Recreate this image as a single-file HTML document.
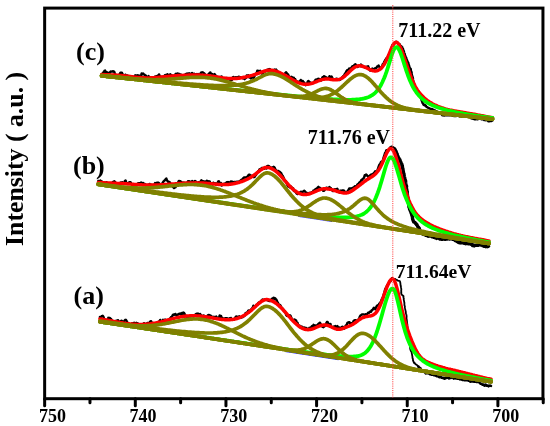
<!DOCTYPE html>
<html><head><meta charset="utf-8"><style>
html,body{margin:0;padding:0;background:#fff;width:550px;height:426px;overflow:hidden}
svg{display:block}
text{font-family:"Liberation Serif","Times New Roman",serif;font-weight:bold;fill:#000}
</style></head><body>
<svg width="550" height="426" viewBox="0 0 550 426">
<rect width="550" height="426" fill="#fff"/>
<path d="M101.6,74.3 L102.3,74.6 L103.0,72.7 L103.7,72.5 L104.4,70.9 L105.1,70.6 L105.8,72.1 L106.5,72.1 L107.2,72.6 L107.9,73.3 L108.6,73.4 L109.3,72.5 L110.0,72.5 L110.7,71.4 L111.4,71.6 L112.1,71.6 L112.8,71.2 L113.5,71.4 L114.2,71.8 L114.9,73.6 L115.6,74.9 L116.3,75.9 L117.0,76.7 L117.7,75.9 L118.4,75.8 L119.1,74.9 L119.8,74.1 L120.5,72.6 L121.2,72.7 L121.9,72.7 L122.6,74.6 L123.3,74.7 L124.0,75.6 L124.7,76.7 L125.4,74.7 L126.1,75.8 L126.8,75.5 L127.5,75.4 L128.2,76.3 L128.9,76.7 L129.6,77.3 L130.3,76.9 L131.0,77.1 L131.8,77.4 L132.5,77.3 L133.2,77.6 L133.9,76.7 L134.6,77.1 L135.3,75.3 L136.0,75.5 L136.7,75.6 L137.4,75.2 L138.1,77.4 L138.8,75.5 L139.5,76.6 L140.2,76.2 L140.9,76.4 L141.6,73.5 L142.3,74.3 L143.0,73.4 L143.7,74.2 L144.4,74.6 L145.1,75.9 L145.8,75.5 L146.5,76.4 L147.2,76.9 L147.9,77.9 L148.6,76.1 L149.3,78.6 L150.0,78.5 L150.7,77.7 L151.4,77.7 L152.1,77.2 L152.8,78.4 L153.5,77.7 L154.2,77.1 L154.9,76.7 L155.6,76.5 L156.3,76.4 L157.0,76.0 L157.7,77.3 L158.4,75.2 L159.1,74.4 L159.8,76.3 L160.5,76.6 L161.2,77.0 L161.9,76.8 L162.6,76.8 L163.3,76.7 L164.0,76.7 L164.7,75.5 L165.4,74.9 L166.1,75.5 L166.8,74.7 L167.5,74.2 L168.2,76.2 L168.9,75.5 L169.6,74.7 L170.3,74.3 L171.0,75.3 L171.7,75.3 L172.4,75.7 L173.1,75.6 L173.8,75.6 L174.5,75.8 L175.2,74.6 L175.9,73.7 L176.6,74.3 L177.3,73.5 L178.0,73.6 L178.7,73.9 L179.4,73.9 L180.1,74.6 L180.8,75.1 L181.5,74.7 L182.2,75.7 L182.9,76.0 L183.6,75.4 L184.3,75.1 L185.0,74.8 L185.7,74.1 L186.4,73.8 L187.1,73.8 L187.8,73.5 L188.5,73.8 L189.2,73.2 L189.9,74.2 L190.7,74.1 L191.4,73.6 L192.1,73.0 L192.8,74.0 L193.5,74.4 L194.2,73.7 L194.9,74.2 L195.6,74.4 L196.3,74.9 L197.0,73.9 L197.7,74.7 L198.4,74.1 L199.1,74.7 L199.8,74.1 L200.5,73.6 L201.2,72.5 L201.9,72.5 L202.6,72.3 L203.3,72.8 L204.0,73.2 L204.7,73.8 L205.4,75.7 L206.1,76.8 L206.8,76.4 L207.5,75.6 L208.2,74.5 L208.9,73.9 L209.6,73.1 L210.3,72.4 L211.0,73.7 L211.7,74.0 L212.4,74.2 L213.1,75.1 L213.8,74.7 L214.5,74.0 L215.2,74.9 L215.9,76.0 L216.6,76.3 L217.3,77.3 L218.0,78.2 L218.7,76.9 L219.4,77.5 L220.1,77.2 L220.8,77.0 L221.5,76.4 L222.2,77.8 L222.9,78.0 L223.6,79.3 L224.3,79.7 L225.0,79.3 L225.7,78.3 L226.4,77.9 L227.1,78.5 L227.8,78.0 L228.5,79.2 L229.2,79.5 L229.9,79.2 L230.6,80.5 L231.3,79.1 L232.0,79.9 L232.7,77.5 L233.4,76.9 L234.1,78.1 L234.8,77.7 L235.5,77.3 L236.2,77.8 L236.9,77.2 L237.6,77.7 L238.3,76.9 L239.0,76.7 L239.7,77.2 L240.4,77.1 L241.1,77.7 L241.8,77.6 L242.5,77.9 L243.2,78.4 L243.9,78.5 L244.6,79.2 L245.3,77.5 L246.0,77.9 L246.7,75.5 L247.4,76.0 L248.1,75.2 L248.8,77.2 L249.6,77.3 L250.3,78.0 L251.0,78.4 L251.7,77.7 L252.4,77.4 L253.1,76.7 L253.8,77.9 L254.5,76.1 L255.2,74.9 L255.9,73.7 L256.6,73.4 L257.3,70.7 L258.0,71.3 L258.7,70.9 L259.4,71.5 L260.1,70.7 L260.8,72.1 L261.5,73.3 L262.2,73.8 L262.9,73.5 L263.6,71.8 L264.3,71.9 L265.0,71.6 L265.7,70.6 L266.4,70.0 L267.1,70.5 L267.8,69.8 L268.5,69.3 L269.2,69.9 L269.9,69.1 L270.6,70.4 L271.3,70.7 L272.0,70.9 L272.7,71.1 L273.4,70.4 L274.1,69.9 L274.8,69.5 L275.5,70.3 L276.2,69.6 L276.9,70.9 L277.6,71.5 L278.3,71.8 L279.0,73.4 L279.7,73.5 L280.4,74.9 L281.1,74.0 L281.8,74.2 L282.5,74.9 L283.2,75.3 L283.9,75.1 L284.6,74.4 L285.3,73.0 L286.0,72.2 L286.7,73.1 L287.4,73.8 L288.1,74.4 L288.8,76.6 L289.5,77.2 L290.2,77.0 L290.9,77.6 L291.6,76.8 L292.3,77.4 L293.0,78.4 L293.7,77.7 L294.4,78.9 L295.1,78.9 L295.8,80.9 L296.5,81.1 L297.2,82.2 L297.9,81.6 L298.6,82.0 L299.3,82.2 L300.0,81.5 L300.7,79.9 L301.4,81.1 L302.1,81.1 L302.8,80.9 L303.5,82.7 L304.2,82.5 L304.9,84.1 L305.6,85.2 L306.3,84.9 L307.0,84.0 L307.7,81.7 L308.5,80.9 L309.2,82.3 L309.9,82.2 L310.6,83.4 L311.3,82.9 L312.0,83.7 L312.7,83.2 L313.4,82.6 L314.1,81.8 L314.8,80.9 L315.5,79.8 L316.2,79.7 L316.9,79.4 L317.6,79.4 L318.3,78.7 L319.0,79.7 L319.7,79.1 L320.4,80.3 L321.1,80.5 L321.8,78.9 L322.5,77.3 L323.2,77.6 L323.9,76.2 L324.6,76.5 L325.3,76.8 L326.0,77.5 L326.7,77.5 L327.4,78.4 L328.1,78.3 L328.8,78.1 L329.5,76.2 L330.2,77.1 L330.9,76.9 L331.6,76.5 L332.3,77.9 L333.0,79.0 L333.7,79.5 L334.4,79.1 L335.1,79.7 L335.8,79.0 L336.5,78.6 L337.2,78.9 L337.9,79.8 L338.6,79.3 L339.3,80.1 L340.0,79.9 L340.7,79.2 L341.4,78.7 L342.1,77.3 L342.8,76.7 L343.5,75.9 L344.2,75.3 L344.9,73.8 L345.6,72.9 L346.3,71.4 L347.0,70.3 L347.7,70.3 L348.4,69.7 L349.1,68.6 L349.8,68.9 L350.5,68.3 L351.2,68.1 L351.9,67.0 L352.6,66.1 L353.3,66.4 L354.0,65.3 L354.7,64.7 L355.4,64.2 L356.1,65.1 L356.8,65.5 L357.5,67.0 L358.2,66.5 L358.9,65.4 L359.6,65.6 L360.3,66.2 L361.0,64.6 L361.7,66.3 L362.4,65.7 L363.1,66.1 L363.8,66.8 L364.5,67.4 L365.2,66.9 L365.9,67.1 L366.6,66.7 L367.4,66.6 L368.1,66.2 L368.8,68.2 L369.5,69.4 L370.2,70.6 L370.9,69.2 L371.6,69.9 L372.3,68.6 L373.0,69.5 L373.7,69.6 L374.4,68.7 L375.1,68.2 L375.8,68.4 L376.5,67.8 L377.2,66.4 L377.9,66.4 L378.6,65.4 L379.3,66.9 L380.0,67.9 L380.7,68.1 L381.4,68.4 L382.1,66.1 L382.8,64.1 L383.5,63.9 L384.2,61.8 L384.9,60.7 L385.6,59.5 L386.3,58.3 L387.0,58.0 L387.7,57.4 L388.4,55.2 L389.1,54.7 L389.8,53.9 L390.5,50.6 L391.2,49.0 L391.9,46.5 L392.6,44.8 L393.3,44.8 L394.0,43.9 L394.7,42.8 L395.4,43.0 L396.1,41.7 L396.8,42.2" fill="none" stroke="#000" stroke-width="2.4" stroke-linejoin="round" stroke-linecap="round"/>
<path d="M396.8,42.2 L397.6,42.8 L398.1,43.4 L399.0,44.1 L399.6,44.2 L399.9,44.7 L400.3,45.7 L401.0,46.1 L401.3,46.2 L401.8,46.8 L402.2,47.2 L402.6,48.9 L403.0,48.8 L403.4,50.7 L403.9,51.1 L404.0,52.2 L404.3,53.3 L404.7,53.8 L404.9,55.1 L405.2,55.6 L405.8,57.3 L405.9,57.3 L406.3,58.1 L406.5,59.4 L406.8,59.7 L407.2,60.5 L407.5,61.7 L408.1,62.4 L408.2,62.5 L408.4,63.2 L408.6,64.5 L408.9,64.9 L409.0,65.7 L409.3,66.2 L409.5,67.4 L409.6,67.4 L409.9,68.4 L410.3,68.5 L410.5,68.8 L410.7,68.9 L410.9,70.3 L410.9,71.2 L411.4,71.5 L411.5,72.8 L411.7,73.9 L411.8,74.7 L412.2,75.9 L412.4,76.6 L412.7,77.2 L413.0,78.7 L412.9,79.8 L413.1,80.4 L413.5,81.7 L413.9,82.6 L413.9,83.5 L414.6,84.6 L414.6,85.1 L414.9,86.2 L415.4,87.5 L415.7,88.1 L415.8,88.6 L415.9,89.4 L416.6,90.4 L416.9,90.7 L417.4,91.8 L417.6,92.4 L417.7,92.7 L418.3,94.1 L418.7,94.2 L419.2,94.8 L419.7,95.7 L419.9,96.4 L420.5,96.9 L420.9,98.2 L421.3,99.1 L421.7,100.6 L422.2,101.8 L422.6,103.1 L423.0,103.4 L423.4,104.5 L424.1,105.1 L424.7,104.8 L425.4,106.0 L425.8,105.6 L426.3,106.7 L426.9,107.0 L427.9,107.6 L428.7,107.9 L429.4,108.4 L430.4,108.9 L431.1,109.0 L432.1,109.2" fill="none" stroke="#000" stroke-width="2.4" stroke-linejoin="round" stroke-linecap="round"/>
<path d="M432.1,109.2 L432.8,109.7 L433.5,109.7 L434.1,110.1 L434.9,110.3 L435.5,110.9 L436.7,111.3 L437.1,111.7 L437.7,112.0 L438.5,112.3 L439.3,113.2 L440.0,113.5 L440.9,113.9 L441.8,114.6 L442.5,115.3 L443.4,115.0 L444.1,115.6 L444.9,114.7 L445.8,115.4 L446.7,115.3 L447.5,115.3 L448.5,115.3 L449.2,115.1 L450.1,115.2 L450.9,114.7 L451.7,115.3 L452.4,115.8 L453.4,115.4 L454.1,116.1 L455.1,115.8 L455.7,116.1 L456.7,115.8 L457.5,115.6 L458.4,115.9 L459.3,116.2 L459.9,116.5 L460.9,116.1 L461.7,116.6 L462.5,115.9 L463.3,115.9 L464.1,116.1 L465.0,115.9 L465.6,116.0 L466.6,115.8 L467.5,116.7 L468.2,116.0 L469.3,116.6 L470.2,117.1 L470.8,118.1 L471.8,118.5 L472.6,118.7 L473.3,118.9 L474.3,119.2 L475.0,119.1 L475.9,119.2 L476.7,118.6 L477.5,119.3 L478.4,118.9 L479.0,118.9 L479.8,118.4 L480.8,118.9 L481.7,119.3 L482.5,119.2 L483.6,119.5 L484.2,120.0 L485.1,119.7 L485.9,120.3 L486.5,119.7 L487.5,119.8 L488.2,121.2 L489.1,121.2 L490.1,121.0 L490.9,121.1 L491.5,121.0 L492.5,120.5" fill="none" stroke="#000" stroke-width="2.4" stroke-linejoin="round" stroke-linecap="round"/>
<path d="M101.6,74.6 L102.6,74.6 L103.6,74.7 L104.6,74.7 L105.6,74.7 L106.6,74.7 L107.6,74.8 L108.6,74.8 L109.6,74.8 L110.6,74.9 L111.6,74.9 L112.6,74.9 L113.6,75.0 L114.6,75.0 L115.6,75.1 L116.6,75.2 L117.6,75.2 L118.6,75.3 L119.6,75.4 L120.6,75.5 L121.6,75.6 L122.6,75.7 L123.7,75.8 L124.7,75.9 L125.7,76.0 L126.7,76.1 L127.7,76.2 L128.7,76.3 L129.7,76.5 L130.7,76.6 L131.7,76.7 L132.7,76.8 L133.7,76.9 L134.7,77.1 L135.7,77.2 L136.7,77.3 L137.7,77.4 L138.7,77.5 L139.7,77.6 L140.7,77.6 L141.7,77.7 L142.7,77.8 L143.7,77.8 L144.7,77.8 L145.7,77.9 L146.7,77.9 L147.7,77.9 L148.7,77.9 L149.7,77.9 L150.7,77.8 L151.7,77.8 L152.7,77.8 L153.7,77.7 L154.7,77.6 L155.7,77.6 L156.7,77.5 L157.7,77.4 L158.7,77.3 L159.7,77.2 L160.7,77.1 L161.7,77.0 L162.7,76.9 L163.7,76.8 L164.7,76.7 L165.7,76.6 L166.8,76.5 L167.8,76.4 L168.8,76.3 L169.8,76.2 L170.8,76.2 L171.8,76.1 L172.8,76.0 L173.8,75.9 L174.8,75.8 L175.8,75.8 L176.8,75.7 L177.8,75.6 L178.8,75.6 L179.8,75.5 L180.8,75.5 L181.8,75.4 L182.8,75.4 L183.8,75.3 L184.8,75.3 L185.8,75.2 L186.8,75.2 L187.8,75.2 L188.8,75.1 L189.8,75.1 L190.8,75.1 L191.8,75.1 L192.8,75.1 L193.8,75.1 L194.8,75.0 L195.8,75.0 L196.8,75.1 L197.8,75.1 L198.8,75.1 L199.8,75.1 L200.8,75.2 L201.8,75.2 L202.8,75.3 L203.8,75.3 L204.8,75.4 L205.8,75.5 L206.8,75.6 L207.8,75.7 L208.8,75.8 L209.8,75.9 L210.9,76.1 L211.9,76.2 L212.9,76.3 L213.9,76.5 L214.9,76.7 L215.9,76.8 L216.9,77.0 L217.9,77.2 L218.9,77.3 L219.9,77.5 L220.9,77.7 L221.9,77.8 L222.9,77.9 L223.9,78.1 L224.9,78.2 L225.9,78.3 L226.9,78.4 L227.9,78.5 L228.9,78.6 L229.9,78.6 L230.9,78.6 L231.9,78.6 L232.9,78.6 L233.9,78.6 L234.9,78.5 L235.9,78.5 L236.9,78.4 L237.9,78.3 L238.9,78.2 L239.9,78.0 L240.9,77.9 L241.9,77.7 L242.9,77.5 L243.9,77.3 L244.9,77.1 L245.9,76.9 L246.9,76.7 L247.9,76.4 L248.9,76.2 L249.9,75.9 L250.9,75.6 L251.9,75.4 L252.9,75.1 L254.0,74.8 L255.0,74.4 L256.0,74.1 L257.0,73.8 L258.0,73.4 L259.0,73.1 L260.0,72.7 L261.0,72.3 L262.0,72.0 L263.0,71.6 L264.0,71.3 L265.0,71.0 L266.0,70.7 L267.0,70.5 L268.0,70.3 L269.0,70.2 L270.0,70.2 L271.0,70.2 L272.0,70.3 L273.0,70.5 L274.0,70.7 L275.0,71.0 L276.0,71.2 L277.0,71.6 L278.0,71.9 L279.0,72.3 L280.0,72.7 L281.0,73.2 L282.0,73.7 L283.0,74.2 L284.0,74.7 L285.0,75.3 L286.0,75.8 L287.0,76.4 L288.0,77.0 L289.0,77.6 L290.0,78.2 L291.0,78.8 L292.0,79.4 L293.0,80.0 L294.0,80.6 L295.0,81.1 L296.0,81.6 L297.0,82.1 L298.1,82.6 L299.1,83.0 L300.1,83.3 L301.1,83.6 L302.1,83.9 L303.1,84.1 L304.1,84.2 L305.1,84.3 L306.1,84.3 L307.1,84.3 L308.1,84.2 L309.1,84.1 L310.1,83.9 L311.1,83.6 L312.1,83.3 L313.1,83.0 L314.1,82.6 L315.1,82.2 L316.1,81.8 L317.1,81.4 L318.1,81.0 L319.1,80.6 L320.1,80.3 L321.1,79.9 L322.1,79.6 L323.1,79.4 L324.1,79.2 L325.1,79.1 L326.1,79.0 L327.1,79.0 L328.1,79.1 L329.1,79.1 L330.1,79.3 L331.1,79.4 L332.1,79.5 L333.1,79.7 L334.1,79.8 L335.1,79.8 L336.1,79.8 L337.1,79.8 L338.1,79.6 L339.1,79.4 L340.1,79.0 L341.2,78.5 L342.2,78.0 L343.2,77.3 L344.2,76.6 L345.2,75.7 L346.2,74.8 L347.2,73.9 L348.2,72.9 L349.2,71.9 L350.2,71.0 L351.2,70.0 L352.2,69.1 L353.2,68.3 L354.2,67.6 L355.2,67.0 L356.2,66.5 L357.2,66.1 L358.2,65.9 L359.2,65.8 L360.2,65.8 L361.2,65.9 L362.2,66.2 L363.2,66.5 L364.2,66.9 L365.2,67.3 L366.2,67.8 L367.2,68.3 L368.2,68.8 L369.2,69.3 L370.2,69.7 L371.2,70.1 L372.2,70.5 L373.2,70.7 L374.2,70.9 L375.2,70.9 L376.2,70.9 L377.2,70.7 L378.2,70.3 L379.2,69.8 L380.2,69.1 L381.2,68.2 L382.2,67.1 L383.2,65.8 L384.3,64.2 L385.3,62.4 L386.3,60.5 L387.3,58.3 L388.3,56.0 L389.3,53.6 L390.3,51.1 L391.3,48.8 L392.3,46.6 L393.3,44.7 L394.3,43.2 L395.3,42.4 L396.3,42.2 L397.3,42.6 L398.3,43.7 L399.3,45.2 L400.3,47.2 L401.3,49.5 L402.3,52.1 L403.3,54.9 L404.3,57.8 L405.3,60.8 L406.3,63.7 L407.3,66.7 L408.3,69.6 L409.3,72.4 L410.3,75.2 L411.3,77.8 L412.3,80.2 L413.3,82.5 L414.3,84.6 L415.3,86.6 L416.3,88.3 L417.3,89.9 L418.3,91.4 L419.3,92.7 L420.3,93.9 L421.3,95.1 L422.3,96.1 L423.3,97.1 L424.3,98.1 L425.3,98.9 L426.3,99.8 L427.3,100.5 L428.4,101.2 L429.4,101.9 L430.4,102.5 L431.4,103.1 L432.4,103.7 L433.4,104.2 L434.4,104.7 L435.4,105.2 L436.4,105.6 L437.4,106.1 L438.4,106.5 L439.4,106.9 L440.4,107.3 L441.4,107.6 L442.4,108.0 L443.4,108.3 L444.4,108.6 L445.4,108.9 L446.4,109.1 L447.4,109.4 L448.4,109.6 L449.4,109.9 L450.4,110.1 L451.4,110.3 L452.4,110.5 L453.4,110.7 L454.4,110.9 L455.4,111.1 L456.4,111.2 L457.4,111.4 L458.4,111.6 L459.4,111.7 L460.4,111.9 L461.4,112.1 L462.4,112.2 L463.4,112.4 L464.4,112.6 L465.4,112.7 L466.4,112.9 L467.4,113.1 L468.4,113.3 L469.4,113.4 L470.4,113.6 L471.5,113.8 L472.5,114.0 L473.5,114.2 L474.5,114.3 L475.5,114.5 L476.5,114.7 L477.5,114.9 L478.5,115.1 L479.5,115.3 L480.5,115.5 L481.5,115.7 L482.5,115.8 L483.5,116.0 L484.5,116.2 L485.5,116.4 L486.5,116.6 L487.5,116.8 L488.5,116.9 L489.5,117.1 L490.5,117.3 L491.5,117.4 L492.5,117.6" fill="none" stroke="#ff0000" stroke-width="3.5" stroke-linejoin="round" stroke-linecap="round"/>
<path d="M101.6,75.8 L102.6,75.9 L103.6,76.0 L104.6,76.1 L105.6,76.2 L106.6,76.3 L107.6,76.4 L108.6,76.6 L109.6,76.7 L110.6,76.8 L111.6,76.9 L112.6,77.0 L113.6,77.1 L114.6,77.2 L115.6,77.3 L116.6,77.4 L117.6,77.5 L118.6,77.6 L119.6,77.7 L120.6,77.8 L121.6,77.9 L122.6,78.0 L123.7,78.2 L124.7,78.3 L125.7,78.4 L126.7,78.5 L127.7,78.6 L128.7,78.7 L129.7,78.8 L130.7,78.9 L131.7,79.0 L132.7,79.1 L133.7,79.2 L134.7,79.3 L135.7,79.4 L136.7,79.5 L137.7,79.6 L138.7,79.8 L139.7,79.9 L140.7,80.0 L141.7,80.1 L142.7,80.2 L143.7,80.3 L144.7,80.4 L145.7,80.5 L146.7,80.6 L147.7,80.7 L148.7,80.8 L149.7,80.9 L150.7,81.0 L151.7,81.2 L152.7,81.3 L153.7,81.4 L154.7,81.5 L155.7,81.6 L156.7,81.7 L157.7,81.8 L158.7,81.9 L159.7,82.0 L160.7,82.1 L161.7,82.2 L162.7,82.3 L163.7,82.4 L164.7,82.5 L165.7,82.7 L166.8,82.8 L167.8,82.9 L168.8,83.0 L169.8,83.1 L170.8,83.2 L171.8,83.3 L172.8,83.4 L173.8,83.5 L174.8,83.6 L175.8,83.7 L176.8,83.8 L177.8,84.0 L178.8,84.1 L179.8,84.2 L180.8,84.3 L181.8,84.4 L182.8,84.5 L183.8,84.6 L184.8,84.7 L185.8,84.8 L186.8,84.9 L187.8,85.0 L188.8,85.1 L189.8,85.3 L190.8,85.4 L191.8,85.5 L192.8,85.6 L193.8,85.7 L194.8,85.8 L195.8,85.9 L196.8,86.0 L197.8,86.1 L198.8,86.2 L199.8,86.3 L200.8,86.4 L201.8,86.6 L202.8,86.7 L203.8,86.8 L204.8,86.9 L205.8,87.0 L206.8,87.1 L207.8,87.2 L208.8,87.3 L209.8,87.4 L210.9,87.5 L211.9,87.6 L212.9,87.8 L213.9,87.9 L214.9,88.0 L215.9,88.1 L216.9,88.2 L217.9,88.3 L218.9,88.4 L219.9,88.5 L220.9,88.6 L221.9,88.7 L222.9,88.8 L223.9,89.0 L224.9,89.1 L225.9,89.2 L226.9,89.3 L227.9,89.4 L228.9,89.5 L229.9,89.6 L230.9,89.7 L231.9,89.8 L232.9,89.9 L233.9,90.0 L234.9,90.2 L235.9,90.3 L236.9,90.4 L237.9,90.5 L238.9,90.6 L239.9,90.7 L240.9,90.8 L241.9,90.9 L242.9,91.0 L243.9,91.1 L244.9,91.3 L245.9,91.4 L246.9,91.5 L247.9,91.6 L248.9,91.7 L249.9,91.8 L250.9,91.9 L251.9,92.0 L252.9,92.1 L254.0,92.2 L255.0,92.3 L256.0,92.5 L257.0,92.6 L258.0,92.7 L259.0,92.8 L260.0,92.9 L261.0,93.0 L262.0,93.1 L263.0,93.2 L264.0,93.3 L265.0,93.5 L266.0,93.6 L267.0,93.7 L268.0,93.8 L269.0,93.9 L270.0,94.0 L271.0,94.1 L272.0,94.2 L273.0,94.3 L274.0,94.4 L275.0,94.6 L276.0,94.7 L277.0,94.8 L278.0,94.9 L279.0,95.0 L280.0,95.1 L281.0,95.2 L282.0,95.3 L283.0,95.4 L284.0,95.6 L285.0,95.7 L286.0,95.8 L287.0,95.9 L288.0,96.0 L289.0,96.1 L290.0,96.2 L291.0,96.3 L292.0,96.4 L293.0,96.5 L294.0,96.7 L295.0,96.8 L296.0,96.9 L297.0,97.0 L298.1,97.1 L299.1,97.2 L300.1,97.3 L301.1,97.4 L302.1,97.5 L303.1,97.7 L304.1,97.8 L305.1,97.9 L306.1,98.0 L307.1,98.1 L308.1,98.2 L309.1,98.3 L310.1,98.4 L311.1,98.5 L312.1,98.7 L313.1,98.8 L314.1,98.9 L315.1,99.0 L316.1,99.1 L317.1,99.2 L318.1,99.3 L319.1,99.4 L320.1,99.6 L321.1,99.7 L322.1,99.8 L323.1,99.9 L324.1,100.0 L325.1,100.1 L326.1,100.2 L327.1,100.3 L328.1,100.4 L329.1,100.6 L330.1,100.7 L331.1,100.8 L332.1,100.9 L333.1,101.0 L334.1,101.1 L335.1,101.2 L336.1,101.3 L337.1,101.5 L338.1,101.6 L339.1,101.7 L340.1,101.8 L341.2,101.9 L342.2,102.0 L343.2,102.1 L344.2,102.2 L345.2,102.4 L346.2,102.5 L347.2,102.6 L348.2,102.7 L349.2,102.8 L350.2,102.9 L351.2,103.0 L352.2,103.1 L353.2,103.3 L354.2,103.4 L355.2,103.5 L356.2,103.6 L357.2,103.7 L358.2,103.8 L359.2,103.9 L360.2,104.0 L361.2,104.2 L362.2,104.3 L363.2,104.4 L364.2,104.5 L365.2,104.6 L366.2,104.7 L367.2,104.8 L368.2,104.9 L369.2,105.1 L370.2,105.2 L371.2,105.3 L372.2,105.4 L373.2,105.5 L374.2,105.6 L375.2,105.7 L376.2,105.8 L377.2,106.0 L378.2,106.1 L379.2,106.2 L380.2,106.3 L381.2,106.4 L382.2,106.5 L383.2,106.6 L384.3,106.8 L385.3,106.9 L386.3,107.0 L387.3,107.1 L388.3,107.2 L389.3,107.3 L390.3,107.4 L391.3,107.5 L392.3,107.7 L393.3,107.8 L394.3,107.9 L395.3,108.0 L396.3,108.1 L397.3,108.2 L398.3,108.3 L399.3,108.5 L400.3,108.6 L401.3,108.7 L402.3,108.8 L403.3,108.9 L404.3,109.0 L405.3,109.1 L406.3,109.2 L407.3,109.4 L408.3,109.5 L409.3,109.6 L410.3,109.7 L411.3,109.8 L412.3,109.9 L413.3,110.0 L414.3,110.2 L415.3,110.3 L416.3,110.4 L417.3,110.5 L418.3,110.6 L419.3,110.7 L420.3,110.8 L421.3,111.0 L422.3,111.1 L423.3,111.2 L424.3,111.3 L425.3,111.4 L426.3,111.5 L427.3,111.6 L428.4,111.8 L429.4,111.9 L430.4,112.0 L431.4,112.1 L432.4,112.2 L433.4,112.3 L434.4,112.4 L435.4,112.6 L436.4,112.7 L437.4,112.8 L438.4,112.9 L439.4,113.0 L440.4,113.1 L441.4,113.2 L442.4,113.4 L443.4,113.5 L444.4,113.6 L445.4,113.7 L446.4,113.8 L447.4,113.9 L448.4,114.1 L449.4,114.2 L450.4,114.3 L451.4,114.4 L452.4,114.5 L453.4,114.6 L454.4,114.7 L455.4,114.9 L456.4,115.0 L457.4,115.1 L458.4,115.2 L459.4,115.3 L460.4,115.4 L461.4,115.5 L462.4,115.7 L463.4,115.8 L464.4,115.9 L465.4,116.0 L466.4,116.1 L467.4,116.2 L468.4,116.4 L469.4,116.5 L470.4,116.6 L471.5,116.7 L472.5,116.8 L473.5,116.9 L474.5,117.0 L475.5,117.2 L476.5,117.3 L477.5,117.4 L478.5,117.5 L479.5,117.6 L480.5,117.7 L481.5,117.9 L482.5,118.0 L483.5,118.1 L484.5,118.2 L485.5,118.3 L486.5,118.4 L487.5,118.6 L488.5,118.7 L489.5,118.8 L490.5,118.9 L491.5,119.0 L492.5,119.1" fill="none" stroke="#808000" stroke-width="3.7" stroke-linejoin="round" stroke-linecap="round"/>
<path d="M101.6,75.7 L102.6,75.8 L103.6,75.9 L104.6,76.0 L105.6,76.2 L106.6,76.3 L107.6,76.4 L108.6,76.5 L109.6,76.6 L110.6,76.7 L111.6,76.8 L112.6,76.9 L113.6,77.0 L114.6,77.1 L115.6,77.2 L116.6,77.3 L117.6,77.4 L118.6,77.5 L119.6,77.6 L120.6,77.7 L121.6,77.8 L122.6,78.0 L123.7,78.1 L124.7,78.2 L125.7,78.3 L126.7,78.4 L127.7,78.5 L128.7,78.6 L129.7,78.7 L130.7,78.8 L131.7,78.9 L132.7,79.0 L133.7,79.1 L134.7,79.2 L135.7,79.3 L136.7,79.4 L137.7,79.5 L138.7,79.6 L139.7,79.8 L140.7,79.9 L141.7,80.0 L142.7,80.1 L143.7,80.2 L144.7,80.3 L145.7,80.4 L146.7,80.5 L147.7,80.6 L148.7,80.7 L149.7,80.8 L150.7,80.9 L151.7,81.0 L152.7,81.1 L153.7,81.2 L154.7,81.4 L155.7,81.5 L156.7,81.6 L157.7,81.7 L158.7,81.8 L159.7,81.9 L160.7,82.0 L161.7,82.1 L162.7,82.2 L163.7,82.3 L164.7,82.4 L165.7,82.5 L166.8,82.6 L167.8,82.7 L168.8,82.8 L169.8,83.0 L170.8,83.1 L171.8,83.2 L172.8,83.3 L173.8,83.4 L174.8,83.5 L175.8,83.6 L176.8,83.7 L177.8,83.8 L178.8,83.9 L179.8,84.0 L180.8,84.1 L181.8,84.2 L182.8,84.3 L183.8,84.4 L184.8,84.6 L185.8,84.7 L186.8,84.8 L187.8,84.9 L188.8,85.0 L189.8,85.1 L190.8,85.2 L191.8,85.3 L192.8,85.4 L193.8,85.5 L194.8,85.6 L195.8,85.7 L196.8,85.8 L197.8,85.9 L198.8,86.0 L199.8,86.2 L200.8,86.3 L201.8,86.4 L202.8,86.5 L203.8,86.6 L204.8,86.7 L205.8,86.8 L206.8,86.9 L207.8,87.0 L208.8,87.1 L209.8,87.2 L210.9,87.3 L211.9,87.4 L212.9,87.5 L213.9,87.6 L214.9,87.8 L215.9,87.9 L216.9,88.0 L217.9,88.1 L218.9,88.2 L219.9,88.3 L220.9,88.4 L221.9,88.5 L222.9,88.6 L223.9,88.7 L224.9,88.8 L225.9,88.9 L226.9,89.0 L227.9,89.1 L228.9,89.2 L229.9,89.4 L230.9,89.5 L231.9,89.6 L232.9,89.7 L233.9,89.8 L234.9,89.9 L235.9,90.0 L236.9,90.1 L237.9,90.2 L238.9,90.3 L239.9,90.4 L240.9,90.5 L241.9,90.6 L242.9,90.7 L243.9,90.8 L244.9,90.9 L245.9,91.0 L246.9,91.2 L247.9,91.3 L248.9,91.4 L249.9,91.5 L250.9,91.6 L251.9,91.7 L252.9,91.8 L254.0,91.9 L255.0,92.0 L256.0,92.1 L257.0,92.2 L258.0,92.3 L259.0,92.4 L260.0,92.5 L261.0,92.6 L262.0,92.7 L263.0,92.8 L264.0,92.9 L265.0,93.0 L266.0,93.1 L267.0,93.2 L268.0,93.4 L269.0,93.5 L270.0,93.6 L271.0,93.7 L272.0,93.8 L273.0,93.9 L274.0,94.0 L275.0,94.1 L276.0,94.2 L277.0,94.3 L278.0,94.4 L279.0,94.5 L280.0,94.6 L281.0,94.7 L282.0,94.8 L283.0,94.9 L284.0,95.0 L285.0,95.1 L286.0,95.2 L287.0,95.3 L288.0,95.4 L289.0,95.5 L290.0,95.6 L291.0,95.7 L292.0,95.8 L293.0,95.9 L294.0,96.0 L295.0,96.1 L296.0,96.2 L297.0,96.3 L298.1,96.4 L299.1,96.5 L300.1,96.6 L301.1,96.7 L302.1,96.8 L303.1,96.9 L304.1,96.9 L305.1,97.0 L306.1,97.1 L307.1,97.2 L308.1,97.3 L309.1,97.4 L310.1,97.5 L311.1,97.6 L312.1,97.7 L313.1,97.8 L314.1,97.9 L315.1,97.9 L316.1,98.0 L317.1,98.1 L318.1,98.2 L319.1,98.3 L320.1,98.4 L321.1,98.4 L322.1,98.5 L323.1,98.6 L324.1,98.7 L325.1,98.7 L326.1,98.8 L327.1,98.9 L328.1,99.0 L329.1,99.0 L330.1,99.1 L331.1,99.2 L332.1,99.2 L333.1,99.3 L334.1,99.3 L335.1,99.4 L336.1,99.5 L337.1,99.5 L338.1,99.6 L339.1,99.6 L340.1,99.6 L341.2,99.7 L342.2,99.7 L343.2,99.7 L344.2,99.8 L345.2,99.8 L346.2,99.8 L347.2,99.8 L348.2,99.8 L349.2,99.8 L350.2,99.8 L351.2,99.8 L352.2,99.7 L353.2,99.7 L354.2,99.7 L355.2,99.6 L356.2,99.5 L357.2,99.5 L358.2,99.4 L359.2,99.3 L360.2,99.1 L361.2,99.0 L362.2,98.8 L363.2,98.6 L364.2,98.4 L365.2,98.1 L366.2,97.9 L367.2,97.5 L368.2,97.2 L369.2,96.8 L370.2,96.3 L371.2,95.7 L372.2,95.1 L373.2,94.4 L374.2,93.7 L375.2,92.8 L376.2,91.7 L377.2,90.6 L378.2,89.3 L379.2,87.9 L380.2,86.3 L381.2,84.5 L382.2,82.5 L383.2,80.3 L384.3,77.8 L385.3,75.2 L386.3,72.4 L387.3,69.3 L388.3,66.2 L389.3,62.9 L390.3,59.6 L391.3,56.4 L392.3,53.5 L393.3,50.9 L394.3,48.9 L395.3,47.6 L396.3,47.1 L397.3,47.4 L398.3,48.5 L399.3,50.2 L400.3,52.4 L401.3,55.1 L402.3,58.0 L403.3,61.2 L404.3,64.4 L405.3,67.5 L406.3,70.6 L407.3,73.5 L408.3,76.3 L409.3,78.9 L410.3,81.3 L411.3,83.5 L412.3,85.6 L413.3,87.5 L414.3,89.2 L415.3,90.8 L416.3,92.3 L417.3,93.6 L418.3,94.8 L419.3,96.0 L420.3,97.0 L421.3,98.0 L422.3,98.9 L423.3,99.8 L424.3,100.5 L425.3,101.3 L426.3,101.9 L427.3,102.6 L428.4,103.2 L429.4,103.7 L430.4,104.3 L431.4,104.8 L432.4,105.2 L433.4,105.7 L434.4,106.1 L435.4,106.5 L436.4,106.9 L437.4,107.3 L438.4,107.6 L439.4,108.0 L440.4,108.3 L441.4,108.6 L442.4,108.9 L443.4,109.2 L444.4,109.5 L445.4,109.7 L446.4,110.0 L447.4,110.3 L448.4,110.5 L449.4,110.7 L450.4,111.0 L451.4,111.2 L452.4,111.4 L453.4,111.6 L454.4,111.9 L455.4,112.1 L456.4,112.3 L457.4,112.5 L458.4,112.7 L459.4,112.9 L460.4,113.0 L461.4,113.2 L462.4,113.4 L463.4,113.6 L464.4,113.8 L465.4,113.9 L466.4,114.1 L467.4,114.3 L468.4,114.5 L469.4,114.6 L470.4,114.8 L471.5,114.9 L472.5,115.1 L473.5,115.3 L474.5,115.4 L475.5,115.6 L476.5,115.7 L477.5,115.9 L478.5,116.0 L479.5,116.2 L480.5,116.3 L481.5,116.5 L482.5,116.6 L483.5,116.8 L484.5,116.9 L485.5,117.1 L486.5,117.2 L487.5,117.3 L488.5,117.5 L489.5,117.6 L490.5,117.8 L491.5,117.9 L492.5,118.0" fill="none" stroke="#00ff00" stroke-width="3.8" stroke-linejoin="round" stroke-linecap="round"/>
<path d="M101.6,75.8 L102.6,75.9 L103.6,76.0 L104.6,76.1 L105.6,76.2 L106.6,76.3 L107.6,76.4 L108.6,76.5 L109.6,76.6 L110.6,76.7 L111.6,76.8 L112.6,76.9 L113.6,77.0 L114.6,77.1 L115.6,77.2 L116.6,77.3 L117.6,77.4 L118.6,77.5 L119.6,77.6 L120.6,77.7 L121.6,77.8 L122.6,77.9 L123.7,78.0 L124.7,78.1 L125.7,78.2 L126.7,78.3 L127.7,78.4 L128.7,78.5 L129.7,78.6 L130.7,78.6 L131.7,78.7 L132.7,78.8 L133.7,78.9 L134.7,79.0 L135.7,79.0 L136.7,79.1 L137.7,79.2 L138.7,79.2 L139.7,79.3 L140.7,79.3 L141.7,79.4 L142.7,79.5 L143.7,79.5 L144.7,79.5 L145.7,79.6 L146.7,79.6 L147.7,79.7 L148.7,79.7 L149.7,79.7 L150.7,79.7 L151.7,79.7 L152.7,79.8 L153.7,79.8 L154.7,79.8 L155.7,79.8 L156.7,79.7 L157.7,79.7 L158.7,79.7 L159.7,79.7 L160.7,79.7 L161.7,79.6 L162.7,79.6 L163.7,79.5 L164.7,79.5 L165.7,79.4 L166.8,79.4 L167.8,79.3 L168.8,79.2 L169.8,79.2 L170.8,79.1 L171.8,79.0 L172.8,78.9 L173.8,78.9 L174.8,78.8 L175.8,78.7 L176.8,78.6 L177.8,78.5 L178.8,78.4 L179.8,78.3 L180.8,78.2 L181.8,78.2 L182.8,78.1 L183.8,78.0 L184.8,77.9 L185.8,77.8 L186.8,77.7 L187.8,77.7 L188.8,77.6 L189.8,77.5 L190.8,77.5 L191.8,77.4 L192.8,77.4 L193.8,77.4 L194.8,77.3 L195.8,77.3 L196.8,77.3 L197.8,77.3 L198.8,77.3 L199.8,77.3 L200.8,77.3 L201.8,77.4 L202.8,77.4 L203.8,77.5 L204.8,77.5 L205.8,77.6 L206.8,77.7 L207.8,77.8 L208.8,77.9 L209.8,78.0 L210.9,78.2 L211.9,78.3 L212.9,78.5 L213.9,78.7 L214.9,78.8 L215.9,79.0 L216.9,79.2 L217.9,79.4 L218.9,79.6 L219.9,79.9 L220.9,80.1 L221.9,80.4 L222.9,80.6 L223.9,80.9 L224.9,81.1 L225.9,81.4 L226.9,81.7 L227.9,82.0 L228.9,82.3 L229.9,82.6 L230.9,82.9 L231.9,83.2 L232.9,83.5 L233.9,83.8 L234.9,84.1 L235.9,84.4 L236.9,84.7 L237.9,85.0 L238.9,85.3 L239.9,85.6 L240.9,85.9 L241.9,86.2 L242.9,86.5 L243.9,86.8 L244.9,87.1 L245.9,87.4 L246.9,87.7 L247.9,88.0 L248.9,88.2 L249.9,88.5 L250.9,88.8 L251.9,89.1 L252.9,89.3 L254.0,89.6 L255.0,89.8 L256.0,90.1 L257.0,90.3 L258.0,90.6 L259.0,90.8 L260.0,91.0 L261.0,91.3 L262.0,91.5 L263.0,91.7 L264.0,91.9 L265.0,92.1 L266.0,92.3 L267.0,92.5 L268.0,92.7 L269.0,92.9 L270.0,93.1 L271.0,93.2 L272.0,93.4 L273.0,93.6 L274.0,93.8 L275.0,93.9 L276.0,94.1 L277.0,94.2 L278.0,94.4 L279.0,94.5 L280.0,94.7 L281.0,94.8 L282.0,95.0 L283.0,95.1 L284.0,95.3 L285.0,95.4 L286.0,95.5 L287.0,95.7 L288.0,95.8 L289.0,95.9 L290.0,96.0 L291.0,96.2 L292.0,96.3 L293.0,96.4 L294.0,96.5 L295.0,96.7 L296.0,96.8 L297.0,96.9 L298.1,97.0 L299.1,97.1 L300.1,97.3 L301.1,97.4 L302.1,97.5 L303.1,97.6 L304.1,97.7 L305.1,97.8 L306.1,98.0 L307.1,98.1 L308.1,98.2 L309.1,98.3 L310.1,98.4 L311.1,98.5 L312.1,98.6 L313.1,98.8 L314.1,98.9 L315.1,99.0 L316.1,99.1 L317.1,99.2 L318.1,99.3 L319.1,99.4 L320.1,99.5 L321.1,99.7 L322.1,99.8 L323.1,99.9 L324.1,100.0 L325.1,100.1 L326.1,100.2 L327.1,100.3 L328.1,100.4 L329.1,100.6 L330.1,100.7 L331.1,100.8 L332.1,100.9 L333.1,101.0 L334.1,101.1 L335.1,101.2 L336.1,101.3 L337.1,101.5 L338.1,101.6 L339.1,101.7 L340.1,101.8 L341.2,101.9 L342.2,102.0 L343.2,102.1 L344.2,102.2 L345.2,102.4 L346.2,102.5 L347.2,102.6 L348.2,102.7 L349.2,102.8 L350.2,102.9 L351.2,103.0 L352.2,103.1 L353.2,103.3 L354.2,103.4 L355.2,103.5 L356.2,103.6 L357.2,103.7 L358.2,103.8 L359.2,103.9 L360.2,104.0 L361.2,104.2 L362.2,104.3 L363.2,104.4 L364.2,104.5 L365.2,104.6 L366.2,104.7 L367.2,104.8 L368.2,104.9 L369.2,105.1 L370.2,105.2 L371.2,105.3 L372.2,105.4 L373.2,105.5 L374.2,105.6 L375.2,105.7 L376.2,105.8 L377.2,106.0 L378.2,106.1 L379.2,106.2 L380.2,106.3 L381.2,106.4 L382.2,106.5 L383.2,106.6 L384.3,106.8 L385.3,106.9 L386.3,107.0 L387.3,107.1 L388.3,107.2 L389.3,107.3 L390.3,107.4 L391.3,107.5 L392.3,107.7 L393.3,107.8 L394.3,107.9 L395.3,108.0 L396.3,108.1 L397.3,108.2 L398.3,108.3 L399.3,108.5 L400.3,108.6 L401.3,108.7 L402.3,108.8 L403.3,108.9 L404.3,109.0 L405.3,109.1 L406.3,109.2 L407.3,109.4 L408.3,109.5 L409.3,109.6 L410.3,109.7 L411.3,109.8 L412.3,109.9 L413.3,110.0 L414.3,110.2 L415.3,110.3 L416.3,110.4 L417.3,110.5 L418.3,110.6 L419.3,110.7 L420.3,110.8 L421.3,111.0 L422.3,111.1 L423.3,111.2 L424.3,111.3 L425.3,111.4 L426.3,111.5 L427.3,111.6 L428.4,111.8 L429.4,111.9 L430.4,112.0 L431.4,112.1 L432.4,112.2 L433.4,112.3 L434.4,112.4 L435.4,112.6 L436.4,112.7 L437.4,112.8 L438.4,112.9 L439.4,113.0 L440.4,113.1 L441.4,113.2 L442.4,113.4 L443.4,113.5 L444.4,113.6 L445.4,113.7 L446.4,113.8 L447.4,113.9 L448.4,114.1 L449.4,114.2 L450.4,114.3 L451.4,114.4 L452.4,114.5 L453.4,114.6 L454.4,114.7 L455.4,114.9 L456.4,115.0 L457.4,115.1 L458.4,115.2 L459.4,115.3 L460.4,115.4 L461.4,115.5 L462.4,115.7 L463.4,115.8 L464.4,115.9 L465.4,116.0 L466.4,116.1 L467.4,116.2 L468.4,116.4 L469.4,116.5 L470.4,116.6 L471.5,116.7 L472.5,116.8 L473.5,116.9 L474.5,117.0 L475.5,117.2 L476.5,117.3 L477.5,117.4 L478.5,117.5 L479.5,117.6 L480.5,117.7 L481.5,117.9 L482.5,118.0 L483.5,118.1 L484.5,118.2 L485.5,118.3 L486.5,118.4 L487.5,118.6 L488.5,118.7 L489.5,118.8 L490.5,118.9 L491.5,119.0 L492.5,119.1" fill="none" stroke="#808000" stroke-width="3.7" stroke-linejoin="round" stroke-linecap="round"/>
<path d="M101.6,75.5 L102.6,75.6 L103.6,75.7 L104.6,75.8 L105.6,75.9 L106.6,76.0 L107.6,76.1 L108.6,76.2 L109.6,76.3 L110.6,76.4 L111.6,76.5 L112.6,76.6 L113.6,76.7 L114.6,76.8 L115.6,76.9 L116.6,77.0 L117.6,77.1 L118.6,77.2 L119.6,77.3 L120.6,77.4 L121.6,77.5 L122.6,77.6 L123.7,77.7 L124.7,77.8 L125.7,78.0 L126.7,78.1 L127.7,78.2 L128.7,78.3 L129.7,78.4 L130.7,78.5 L131.7,78.6 L132.7,78.7 L133.7,78.8 L134.7,78.9 L135.7,79.0 L136.7,79.1 L137.7,79.2 L138.7,79.3 L139.7,79.4 L140.7,79.5 L141.7,79.6 L142.7,79.7 L143.7,79.8 L144.7,79.9 L145.7,80.0 L146.7,80.1 L147.7,80.1 L148.7,80.2 L149.7,80.3 L150.7,80.4 L151.7,80.5 L152.7,80.6 L153.7,80.7 L154.7,80.8 L155.7,80.9 L156.7,81.0 L157.7,81.1 L158.7,81.2 L159.7,81.3 L160.7,81.4 L161.7,81.5 L162.7,81.6 L163.7,81.7 L164.7,81.8 L165.7,81.9 L166.8,82.0 L167.8,82.1 L168.8,82.2 L169.8,82.3 L170.8,82.3 L171.8,82.4 L172.8,82.5 L173.8,82.6 L174.8,82.7 L175.8,82.8 L176.8,82.9 L177.8,83.0 L178.8,83.1 L179.8,83.2 L180.8,83.2 L181.8,83.3 L182.8,83.4 L183.8,83.5 L184.8,83.6 L185.8,83.7 L186.8,83.7 L187.8,83.8 L188.8,83.9 L189.8,84.0 L190.8,84.1 L191.8,84.1 L192.8,84.2 L193.8,84.3 L194.8,84.4 L195.8,84.4 L196.8,84.5 L197.8,84.6 L198.8,84.7 L199.8,84.7 L200.8,84.8 L201.8,84.9 L202.8,84.9 L203.8,85.0 L204.8,85.0 L205.8,85.1 L206.8,85.2 L207.8,85.2 L208.8,85.3 L209.8,85.3 L210.9,85.4 L211.9,85.4 L212.9,85.4 L213.9,85.5 L214.9,85.5 L215.9,85.5 L216.9,85.6 L217.9,85.6 L218.9,85.6 L219.9,85.6 L220.9,85.6 L221.9,85.7 L222.9,85.7 L223.9,85.7 L224.9,85.6 L225.9,85.6 L226.9,85.6 L227.9,85.6 L228.9,85.5 L229.9,85.5 L230.9,85.5 L231.9,85.4 L232.9,85.3 L233.9,85.2 L234.9,85.2 L235.9,85.1 L236.9,84.9 L237.9,84.8 L238.9,84.7 L239.9,84.5 L240.9,84.4 L241.9,84.2 L242.9,84.0 L243.9,83.7 L244.9,83.5 L245.9,83.3 L246.9,83.0 L247.9,82.7 L248.9,82.4 L249.9,82.0 L250.9,81.6 L251.9,81.2 L252.9,80.8 L254.0,80.4 L255.0,79.9 L256.0,79.5 L257.0,79.0 L258.0,78.4 L259.0,77.9 L260.0,77.4 L261.0,76.9 L262.0,76.3 L263.0,75.8 L264.0,75.4 L265.0,74.9 L266.0,74.5 L267.0,74.2 L268.0,73.9 L269.0,73.7 L270.0,73.6 L271.0,73.6 L272.0,73.6 L273.0,73.8 L274.0,73.9 L275.0,74.2 L276.0,74.4 L277.0,74.7 L278.0,75.1 L279.0,75.5 L280.0,75.9 L281.0,76.4 L282.0,76.9 L283.0,77.4 L284.0,77.9 L285.0,78.5 L286.0,79.1 L287.0,79.7 L288.0,80.3 L289.0,81.0 L290.0,81.6 L291.0,82.3 L292.0,82.9 L293.0,83.6 L294.0,84.2 L295.0,84.9 L296.0,85.6 L297.0,86.2 L298.1,86.8 L299.1,87.5 L300.1,88.1 L301.1,88.7 L302.1,89.3 L303.1,89.8 L304.1,90.4 L305.1,90.9 L306.1,91.5 L307.1,92.0 L308.1,92.5 L309.1,92.9 L310.1,93.4 L311.1,93.8 L312.1,94.3 L313.1,94.7 L314.1,95.1 L315.1,95.4 L316.1,95.8 L317.1,96.1 L318.1,96.5 L319.1,96.8 L320.1,97.1 L321.1,97.4 L322.1,97.6 L323.1,97.9 L324.1,98.2 L325.1,98.4 L326.1,98.6 L327.1,98.9 L328.1,99.1 L329.1,99.3 L330.1,99.5 L331.1,99.7 L332.1,99.8 L333.1,100.0 L334.1,100.2 L335.1,100.4 L336.1,100.5 L337.1,100.7 L338.1,100.8 L339.1,101.0 L340.1,101.1 L341.2,101.3 L342.2,101.4 L343.2,101.6 L344.2,101.7 L345.2,101.8 L346.2,102.0 L347.2,102.1 L348.2,102.2 L349.2,102.3 L350.2,102.5 L351.2,102.6 L352.2,102.7 L353.2,102.8 L354.2,103.0 L355.2,103.1 L356.2,103.2 L357.2,103.3 L358.2,103.5 L359.2,103.6 L360.2,103.7 L361.2,103.8 L362.2,103.9 L363.2,104.1 L364.2,104.2 L365.2,104.3 L366.2,104.4 L367.2,104.5 L368.2,104.7 L369.2,104.8 L370.2,104.9 L371.2,105.0 L372.2,105.1 L373.2,105.3 L374.2,105.4 L375.2,105.5 L376.2,105.6 L377.2,105.7 L378.2,105.8 L379.2,106.0 L380.2,106.1 L381.2,106.2 L382.2,106.3 L383.2,106.4 L384.3,106.5 L385.3,106.7 L386.3,106.8 L387.3,106.9 L388.3,107.0 L389.3,107.1 L390.3,107.2 L391.3,107.4 L392.3,107.5 L393.3,107.6 L394.3,107.7 L395.3,107.8 L396.3,107.9 L397.3,108.1 L398.3,108.2 L399.3,108.3 L400.3,108.4 L401.3,108.5 L402.3,108.6 L403.3,108.8 L404.3,108.9 L405.3,109.0 L406.3,109.1 L407.3,109.2 L408.3,109.3 L409.3,109.4 L410.3,109.6 L411.3,109.7 L412.3,109.8 L413.3,109.9 L414.3,110.0 L415.3,110.1 L416.3,110.3 L417.3,110.4 L418.3,110.5 L419.3,110.6 L420.3,110.7 L421.3,110.8 L422.3,111.0 L423.3,111.1 L424.3,111.2 L425.3,111.3 L426.3,111.4 L427.3,111.5 L428.4,111.6 L429.4,111.8 L430.4,111.9 L431.4,112.0 L432.4,112.1 L433.4,112.2 L434.4,112.3 L435.4,112.5 L436.4,112.6 L437.4,112.7 L438.4,112.8 L439.4,112.9 L440.4,113.0 L441.4,113.2 L442.4,113.3 L443.4,113.4 L444.4,113.5 L445.4,113.6 L446.4,113.7 L447.4,113.8 L448.4,114.0 L449.4,114.1 L450.4,114.2 L451.4,114.3 L452.4,114.4 L453.4,114.5 L454.4,114.7 L455.4,114.8 L456.4,114.9 L457.4,115.0 L458.4,115.1 L459.4,115.2 L460.4,115.4 L461.4,115.5 L462.4,115.6 L463.4,115.7 L464.4,115.8 L465.4,115.9 L466.4,116.1 L467.4,116.2 L468.4,116.3 L469.4,116.4 L470.4,116.5 L471.5,116.6 L472.5,116.7 L473.5,116.9 L474.5,117.0 L475.5,117.1 L476.5,117.2 L477.5,117.3 L478.5,117.4 L479.5,117.6 L480.5,117.7 L481.5,117.8 L482.5,117.9 L483.5,118.0 L484.5,118.1 L485.5,118.3 L486.5,118.4 L487.5,118.5 L488.5,118.6 L489.5,118.7 L490.5,118.8 L491.5,119.0 L492.5,119.1" fill="none" stroke="#808000" stroke-width="3.7" stroke-linejoin="round" stroke-linecap="round"/>
<path d="M101.6,75.8 L102.6,75.9 L103.6,76.0 L104.6,76.1 L105.6,76.2 L106.6,76.3 L107.6,76.4 L108.6,76.5 L109.6,76.7 L110.6,76.8 L111.6,76.9 L112.6,77.0 L113.6,77.1 L114.6,77.2 L115.6,77.3 L116.6,77.4 L117.6,77.5 L118.6,77.6 L119.6,77.7 L120.6,77.8 L121.6,77.9 L122.6,78.0 L123.7,78.1 L124.7,78.3 L125.7,78.4 L126.7,78.5 L127.7,78.6 L128.7,78.7 L129.7,78.8 L130.7,78.9 L131.7,79.0 L132.7,79.1 L133.7,79.2 L134.7,79.3 L135.7,79.4 L136.7,79.5 L137.7,79.6 L138.7,79.8 L139.7,79.9 L140.7,80.0 L141.7,80.1 L142.7,80.2 L143.7,80.3 L144.7,80.4 L145.7,80.5 L146.7,80.6 L147.7,80.7 L148.7,80.8 L149.7,80.9 L150.7,81.0 L151.7,81.1 L152.7,81.3 L153.7,81.4 L154.7,81.5 L155.7,81.6 L156.7,81.7 L157.7,81.8 L158.7,81.9 L159.7,82.0 L160.7,82.1 L161.7,82.2 L162.7,82.3 L163.7,82.4 L164.7,82.5 L165.7,82.6 L166.8,82.8 L167.8,82.9 L168.8,83.0 L169.8,83.1 L170.8,83.2 L171.8,83.3 L172.8,83.4 L173.8,83.5 L174.8,83.6 L175.8,83.7 L176.8,83.8 L177.8,83.9 L178.8,84.1 L179.8,84.2 L180.8,84.3 L181.8,84.4 L182.8,84.5 L183.8,84.6 L184.8,84.7 L185.8,84.8 L186.8,84.9 L187.8,85.0 L188.8,85.1 L189.8,85.2 L190.8,85.3 L191.8,85.5 L192.8,85.6 L193.8,85.7 L194.8,85.8 L195.8,85.9 L196.8,86.0 L197.8,86.1 L198.8,86.2 L199.8,86.3 L200.8,86.4 L201.8,86.5 L202.8,86.6 L203.8,86.8 L204.8,86.9 L205.8,87.0 L206.8,87.1 L207.8,87.2 L208.8,87.3 L209.8,87.4 L210.9,87.5 L211.9,87.6 L212.9,87.7 L213.9,87.8 L214.9,88.0 L215.9,88.1 L216.9,88.2 L217.9,88.3 L218.9,88.4 L219.9,88.5 L220.9,88.6 L221.9,88.7 L222.9,88.8 L223.9,88.9 L224.9,89.0 L225.9,89.1 L226.9,89.3 L227.9,89.4 L228.9,89.5 L229.9,89.6 L230.9,89.7 L231.9,89.8 L232.9,89.9 L233.9,90.0 L234.9,90.1 L235.9,90.2 L236.9,90.3 L237.9,90.5 L238.9,90.6 L239.9,90.7 L240.9,90.8 L241.9,90.9 L242.9,91.0 L243.9,91.1 L244.9,91.2 L245.9,91.3 L246.9,91.4 L247.9,91.5 L248.9,91.7 L249.9,91.8 L250.9,91.9 L251.9,92.0 L252.9,92.1 L254.0,92.2 L255.0,92.3 L256.0,92.4 L257.0,92.5 L258.0,92.6 L259.0,92.7 L260.0,92.9 L261.0,93.0 L262.0,93.1 L263.0,93.2 L264.0,93.3 L265.0,93.4 L266.0,93.5 L267.0,93.6 L268.0,93.7 L269.0,93.8 L270.0,93.9 L271.0,94.1 L272.0,94.2 L273.0,94.3 L274.0,94.4 L275.0,94.5 L276.0,94.6 L277.0,94.7 L278.0,94.8 L279.0,94.9 L280.0,95.0 L281.0,95.1 L282.0,95.2 L283.0,95.3 L284.0,95.4 L285.0,95.5 L286.0,95.6 L287.0,95.7 L288.0,95.8 L289.0,95.9 L290.0,96.0 L291.0,96.1 L292.0,96.2 L293.0,96.3 L294.0,96.4 L295.0,96.4 L296.0,96.5 L297.0,96.5 L298.1,96.5 L299.1,96.5 L300.1,96.5 L301.1,96.4 L302.1,96.4 L303.1,96.3 L304.1,96.1 L305.1,96.0 L306.1,95.7 L307.1,95.5 L308.1,95.2 L309.1,94.8 L310.1,94.5 L311.1,94.1 L312.1,93.6 L313.1,93.1 L314.1,92.6 L315.1,92.1 L316.1,91.6 L317.1,91.1 L318.1,90.5 L319.1,90.1 L320.1,89.6 L321.1,89.2 L322.1,88.9 L323.1,88.7 L324.1,88.5 L325.1,88.4 L326.1,88.4 L327.1,88.6 L328.1,88.8 L329.1,89.1 L330.1,89.5 L331.1,90.0 L332.1,90.6 L333.1,91.2 L334.1,91.9 L335.1,92.6 L336.1,93.3 L337.1,94.1 L338.1,94.8 L339.1,95.6 L340.1,96.3 L341.2,97.0 L342.2,97.6 L343.2,98.3 L344.2,98.9 L345.2,99.4 L346.2,99.9 L347.2,100.4 L348.2,100.8 L349.2,101.2 L350.2,101.6 L351.2,101.9 L352.2,102.2 L353.2,102.5 L354.2,102.7 L355.2,102.9 L356.2,103.1 L357.2,103.3 L358.2,103.5 L359.2,103.6 L360.2,103.8 L361.2,103.9 L362.2,104.1 L363.2,104.2 L364.2,104.3 L365.2,104.5 L366.2,104.6 L367.2,104.7 L368.2,104.8 L369.2,104.9 L370.2,105.1 L371.2,105.2 L372.2,105.3 L373.2,105.4 L374.2,105.5 L375.2,105.7 L376.2,105.8 L377.2,105.9 L378.2,106.0 L379.2,106.1 L380.2,106.2 L381.2,106.3 L382.2,106.5 L383.2,106.6 L384.3,106.7 L385.3,106.8 L386.3,106.9 L387.3,107.0 L388.3,107.2 L389.3,107.3 L390.3,107.4 L391.3,107.5 L392.3,107.6 L393.3,107.7 L394.3,107.8 L395.3,108.0 L396.3,108.1 L397.3,108.2 L398.3,108.3 L399.3,108.4 L400.3,108.5 L401.3,108.6 L402.3,108.8 L403.3,108.9 L404.3,109.0 L405.3,109.1 L406.3,109.2 L407.3,109.3 L408.3,109.4 L409.3,109.6 L410.3,109.7 L411.3,109.8 L412.3,109.9 L413.3,110.0 L414.3,110.1 L415.3,110.2 L416.3,110.4 L417.3,110.5 L418.3,110.6 L419.3,110.7 L420.3,110.8 L421.3,110.9 L422.3,111.1 L423.3,111.2 L424.3,111.3 L425.3,111.4 L426.3,111.5 L427.3,111.6 L428.4,111.7 L429.4,111.9 L430.4,112.0 L431.4,112.1 L432.4,112.2 L433.4,112.3 L434.4,112.4 L435.4,112.5 L436.4,112.7 L437.4,112.8 L438.4,112.9 L439.4,113.0 L440.4,113.1 L441.4,113.2 L442.4,113.3 L443.4,113.5 L444.4,113.6 L445.4,113.7 L446.4,113.8 L447.4,113.9 L448.4,114.0 L449.4,114.2 L450.4,114.3 L451.4,114.4 L452.4,114.5 L453.4,114.6 L454.4,114.7 L455.4,114.8 L456.4,115.0 L457.4,115.1 L458.4,115.2 L459.4,115.3 L460.4,115.4 L461.4,115.5 L462.4,115.7 L463.4,115.8 L464.4,115.9 L465.4,116.0 L466.4,116.1 L467.4,116.2 L468.4,116.3 L469.4,116.5 L470.4,116.6 L471.5,116.7 L472.5,116.8 L473.5,116.9 L474.5,117.0 L475.5,117.2 L476.5,117.3 L477.5,117.4 L478.5,117.5 L479.5,117.6 L480.5,117.7 L481.5,117.8 L482.5,118.0 L483.5,118.1 L484.5,118.2 L485.5,118.3 L486.5,118.4 L487.5,118.5 L488.5,118.7 L489.5,118.8 L490.5,118.9 L491.5,119.0 L492.5,119.1" fill="none" stroke="#808000" stroke-width="3.7" stroke-linejoin="round" stroke-linecap="round"/>
<path d="M101.6,75.8 L102.6,75.9 L103.6,76.0 L104.6,76.1 L105.6,76.2 L106.6,76.3 L107.6,76.4 L108.6,76.5 L109.6,76.6 L110.6,76.7 L111.6,76.9 L112.6,77.0 L113.6,77.1 L114.6,77.2 L115.6,77.3 L116.6,77.4 L117.6,77.5 L118.6,77.6 L119.6,77.7 L120.6,77.8 L121.6,77.9 L122.6,78.0 L123.7,78.1 L124.7,78.2 L125.7,78.3 L126.7,78.5 L127.7,78.6 L128.7,78.7 L129.7,78.8 L130.7,78.9 L131.7,79.0 L132.7,79.1 L133.7,79.2 L134.7,79.3 L135.7,79.4 L136.7,79.5 L137.7,79.6 L138.7,79.7 L139.7,79.8 L140.7,79.9 L141.7,80.1 L142.7,80.2 L143.7,80.3 L144.7,80.4 L145.7,80.5 L146.7,80.6 L147.7,80.7 L148.7,80.8 L149.7,80.9 L150.7,81.0 L151.7,81.1 L152.7,81.2 L153.7,81.3 L154.7,81.4 L155.7,81.6 L156.7,81.7 L157.7,81.8 L158.7,81.9 L159.7,82.0 L160.7,82.1 L161.7,82.2 L162.7,82.3 L163.7,82.4 L164.7,82.5 L165.7,82.6 L166.8,82.7 L167.8,82.8 L168.8,83.0 L169.8,83.1 L170.8,83.2 L171.8,83.3 L172.8,83.4 L173.8,83.5 L174.8,83.6 L175.8,83.7 L176.8,83.8 L177.8,83.9 L178.8,84.0 L179.8,84.1 L180.8,84.2 L181.8,84.4 L182.8,84.5 L183.8,84.6 L184.8,84.7 L185.8,84.8 L186.8,84.9 L187.8,85.0 L188.8,85.1 L189.8,85.2 L190.8,85.3 L191.8,85.4 L192.8,85.5 L193.8,85.6 L194.8,85.8 L195.8,85.9 L196.8,86.0 L197.8,86.1 L198.8,86.2 L199.8,86.3 L200.8,86.4 L201.8,86.5 L202.8,86.6 L203.8,86.7 L204.8,86.8 L205.8,86.9 L206.8,87.1 L207.8,87.2 L208.8,87.3 L209.8,87.4 L210.9,87.5 L211.9,87.6 L212.9,87.7 L213.9,87.8 L214.9,87.9 L215.9,88.0 L216.9,88.1 L217.9,88.2 L218.9,88.4 L219.9,88.5 L220.9,88.6 L221.9,88.7 L222.9,88.8 L223.9,88.9 L224.9,89.0 L225.9,89.1 L226.9,89.2 L227.9,89.3 L228.9,89.4 L229.9,89.5 L230.9,89.7 L231.9,89.8 L232.9,89.9 L233.9,90.0 L234.9,90.1 L235.9,90.2 L236.9,90.3 L237.9,90.4 L238.9,90.5 L239.9,90.6 L240.9,90.7 L241.9,90.8 L242.9,91.0 L243.9,91.1 L244.9,91.2 L245.9,91.3 L246.9,91.4 L247.9,91.5 L248.9,91.6 L249.9,91.7 L250.9,91.8 L251.9,91.9 L252.9,92.0 L254.0,92.1 L255.0,92.3 L256.0,92.4 L257.0,92.5 L258.0,92.6 L259.0,92.7 L260.0,92.8 L261.0,92.9 L262.0,93.0 L263.0,93.1 L264.0,93.2 L265.0,93.3 L266.0,93.4 L267.0,93.5 L268.0,93.7 L269.0,93.8 L270.0,93.9 L271.0,94.0 L272.0,94.1 L273.0,94.2 L274.0,94.3 L275.0,94.4 L276.0,94.5 L277.0,94.6 L278.0,94.7 L279.0,94.8 L280.0,94.9 L281.0,95.1 L282.0,95.2 L283.0,95.3 L284.0,95.4 L285.0,95.5 L286.0,95.6 L287.0,95.7 L288.0,95.8 L289.0,95.9 L290.0,96.0 L291.0,96.1 L292.0,96.2 L293.0,96.3 L294.0,96.4 L295.0,96.5 L296.0,96.6 L297.0,96.7 L298.1,96.8 L299.1,96.9 L300.1,97.0 L301.1,97.1 L302.1,97.2 L303.1,97.3 L304.1,97.4 L305.1,97.5 L306.1,97.6 L307.1,97.6 L308.1,97.7 L309.1,97.8 L310.1,97.8 L311.1,97.9 L312.1,97.9 L313.1,97.9 L314.1,98.0 L315.1,98.0 L316.1,98.0 L317.1,97.9 L318.1,97.9 L319.1,97.8 L320.1,97.7 L321.1,97.6 L322.1,97.5 L323.1,97.3 L324.1,97.1 L325.1,96.9 L326.1,96.6 L327.1,96.3 L328.1,96.0 L329.1,95.6 L330.1,95.2 L331.1,94.7 L332.1,94.2 L333.1,93.6 L334.1,93.0 L335.1,92.3 L336.1,91.6 L337.1,90.9 L338.1,90.1 L339.1,89.3 L340.1,88.4 L341.2,87.5 L342.2,86.6 L343.2,85.7 L344.2,84.7 L345.2,83.8 L346.2,82.8 L347.2,81.9 L348.2,81.0 L349.2,80.1 L350.2,79.2 L351.2,78.4 L352.2,77.7 L353.2,77.0 L354.2,76.3 L355.2,75.8 L356.2,75.4 L357.2,75.0 L358.2,74.8 L359.2,74.6 L360.2,74.6 L361.2,74.7 L362.2,74.8 L363.2,75.1 L364.2,75.6 L365.2,76.1 L366.2,76.7 L367.2,77.4 L368.2,78.2 L369.2,79.1 L370.2,80.0 L371.2,81.0 L372.2,82.1 L373.2,83.2 L374.2,84.3 L375.2,85.5 L376.2,86.6 L377.2,87.8 L378.2,89.0 L379.2,90.1 L380.2,91.3 L381.2,92.4 L382.2,93.5 L383.2,94.6 L384.3,95.6 L385.3,96.6 L386.3,97.6 L387.3,98.5 L388.3,99.4 L389.3,100.2 L390.3,101.0 L391.3,101.7 L392.3,102.4 L393.3,103.0 L394.3,103.6 L395.3,104.2 L396.3,104.7 L397.3,105.2 L398.3,105.6 L399.3,106.0 L400.3,106.4 L401.3,106.7 L402.3,107.1 L403.3,107.4 L404.3,107.7 L405.3,107.9 L406.3,108.2 L407.3,108.4 L408.3,108.6 L409.3,108.8 L410.3,109.0 L411.3,109.2 L412.3,109.3 L413.3,109.5 L414.3,109.7 L415.3,109.8 L416.3,110.0 L417.3,110.1 L418.3,110.2 L419.3,110.4 L420.3,110.5 L421.3,110.6 L422.3,110.8 L423.3,110.9 L424.3,111.0 L425.3,111.2 L426.3,111.3 L427.3,111.4 L428.4,111.5 L429.4,111.6 L430.4,111.8 L431.4,111.9 L432.4,112.0 L433.4,112.1 L434.4,112.2 L435.4,112.4 L436.4,112.5 L437.4,112.6 L438.4,112.7 L439.4,112.8 L440.4,113.0 L441.4,113.1 L442.4,113.2 L443.4,113.3 L444.4,113.4 L445.4,113.6 L446.4,113.7 L447.4,113.8 L448.4,113.9 L449.4,114.0 L450.4,114.1 L451.4,114.3 L452.4,114.4 L453.4,114.5 L454.4,114.6 L455.4,114.7 L456.4,114.9 L457.4,115.0 L458.4,115.1 L459.4,115.2 L460.4,115.3 L461.4,115.4 L462.4,115.6 L463.4,115.7 L464.4,115.8 L465.4,115.9 L466.4,116.0 L467.4,116.1 L468.4,116.3 L469.4,116.4 L470.4,116.5 L471.5,116.6 L472.5,116.7 L473.5,116.8 L474.5,117.0 L475.5,117.1 L476.5,117.2 L477.5,117.3 L478.5,117.4 L479.5,117.5 L480.5,117.7 L481.5,117.8 L482.5,117.9 L483.5,118.0 L484.5,118.1 L485.5,118.2 L486.5,118.4 L487.5,118.5 L488.5,118.6 L489.5,118.7 L490.5,118.8 L491.5,118.9 L492.5,119.1" fill="none" stroke="#808000" stroke-width="3.7" stroke-linejoin="round" stroke-linecap="round"/>
<path d="M98.3,181.0 L99.0,181.0 L99.7,181.9 L100.4,180.5 L101.1,182.0 L101.8,181.4 L102.5,183.7 L103.2,183.6 L103.9,184.2 L104.6,183.0 L105.3,183.0 L106.0,182.4 L106.7,182.3 L107.4,183.2 L108.1,183.2 L108.8,184.0 L109.5,184.5 L110.2,183.9 L110.9,183.2 L111.6,184.2 L112.3,182.8 L113.0,181.9 L113.7,181.7 L114.4,181.3 L115.1,182.1 L115.8,183.2 L116.5,185.3 L117.2,184.8 L117.9,184.6 L118.6,184.3 L119.3,184.4 L120.0,182.9 L120.7,182.4 L121.4,184.0 L122.1,182.2 L122.8,182.8 L123.5,182.9 L124.2,183.0 L124.9,180.9 L125.6,180.4 L126.3,182.8 L127.0,183.1 L127.7,183.4 L128.4,183.2 L129.1,182.4 L129.8,182.2 L130.5,182.1 L131.2,183.5 L131.9,184.3 L132.6,184.4 L133.3,185.0 L134.0,186.2 L134.7,186.2 L135.5,185.4 L136.2,185.3 L136.9,185.4 L137.6,183.9 L138.3,183.1 L139.0,183.1 L139.7,183.1 L140.4,183.4 L141.1,182.4 L141.8,184.1 L142.5,183.3 L143.2,182.9 L143.9,184.1 L144.6,184.0 L145.3,184.2 L146.0,185.1 L146.7,186.0 L147.4,184.9 L148.1,185.1 L148.8,185.2 L149.5,183.9 L150.2,184.7 L150.9,185.8 L151.6,184.7 L152.3,185.3 L153.0,185.8 L153.7,185.2 L154.4,184.6 L155.1,183.0 L155.8,184.4 L156.5,182.8 L157.2,182.6 L157.9,182.9 L158.6,182.7 L159.3,183.6 L160.0,184.1 L160.7,185.7 L161.4,184.2 L162.1,183.7 L162.8,182.5 L163.5,181.6 L164.2,180.7 L164.9,180.2 L165.6,179.3 L166.3,178.4 L167.0,180.4 L167.7,181.1 L168.4,182.2 L169.1,181.9 L169.8,182.3 L170.5,183.9 L171.2,184.3 L171.9,185.8 L172.6,186.4 L173.3,187.2 L174.0,188.1 L174.7,187.4 L175.4,187.4 L176.1,186.2 L176.8,184.9 L177.5,183.1 L178.2,182.3 L178.9,180.9 L179.6,181.3 L180.3,181.1 L181.0,182.0 L181.7,182.2 L182.4,182.8 L183.1,183.3 L183.8,182.5 L184.5,183.5 L185.2,184.5 L185.9,183.9 L186.6,184.2 L187.3,182.8 L188.0,181.2 L188.7,181.7 L189.4,181.3 L190.1,182.1 L190.8,182.0 L191.5,182.4 L192.2,181.0 L192.9,182.9 L193.6,182.4 L194.3,181.4 L195.0,180.9 L195.7,181.4 L196.4,182.1 L197.1,182.7 L197.8,183.2 L198.5,182.1 L199.2,182.2 L199.9,182.7 L200.6,181.4 L201.3,180.3 L202.0,180.9 L202.7,181.0 L203.4,181.4 L204.1,182.3 L204.8,181.4 L205.5,181.9 L206.2,181.4 L206.9,180.7 L207.6,181.1 L208.4,182.6 L209.1,181.2 L209.8,181.6 L210.5,183.7 L211.2,183.9 L211.9,184.1 L212.6,184.6 L213.3,182.7 L214.0,183.8 L214.7,183.3 L215.4,183.4 L216.1,183.8 L216.8,184.6 L217.5,183.2 L218.2,181.4 L218.9,181.3 L219.6,182.8 L220.3,183.3 L221.0,183.1 L221.7,185.6 L222.4,184.5 L223.1,184.0 L223.8,184.0 L224.5,183.7 L225.2,183.4 L225.9,183.0 L226.6,182.3 L227.3,182.4 L228.0,182.0 L228.7,182.7 L229.4,182.4 L230.1,182.5 L230.8,181.4 L231.5,181.7 L232.2,181.7 L232.9,182.0 L233.6,182.2 L234.3,182.2 L235.0,181.8 L235.7,182.6 L236.4,182.4 L237.1,181.6 L237.8,182.2 L238.5,181.6 L239.2,181.8 L239.9,180.8 L240.6,180.6 L241.3,179.9 L242.0,179.6 L242.7,179.0 L243.4,178.1 L244.1,177.4 L244.8,177.6 L245.5,177.4 L246.2,177.6 L246.9,176.8 L247.6,176.8 L248.3,175.4 L249.0,174.7 L249.7,174.8 L250.4,175.8 L251.1,175.6 L251.8,175.6 L252.5,176.0 L253.2,176.9 L253.9,177.2 L254.6,176.9 L255.3,175.6 L256.0,174.9 L256.7,173.5 L257.4,172.5 L258.1,171.2 L258.8,170.8 L259.5,169.3 L260.2,169.1 L260.9,169.3 L261.6,168.0 L262.3,168.5 L263.0,167.8 L263.7,168.4 L264.4,168.8 L265.1,167.7 L265.8,167.4 L266.5,168.4 L267.2,166.2 L267.9,165.9 L268.6,166.0 L269.3,166.6 L270.0,167.0 L270.7,167.9 L271.4,168.0 L272.1,167.5 L272.8,167.4 L273.5,166.8 L274.2,167.1 L274.9,168.2 L275.6,169.9 L276.3,170.4 L277.0,171.1 L277.7,171.3 L278.4,170.9 L279.1,172.4 L279.8,171.8 L280.5,172.5 L281.3,173.4 L282.0,175.2 L282.7,175.9 L283.4,177.2 L284.1,179.2 L284.8,180.7 L285.5,180.9 L286.2,181.9 L286.9,183.9 L287.6,185.4 L288.3,186.6 L289.0,186.4 L289.7,187.3 L290.4,187.5 L291.1,186.6 L291.8,188.2 L292.5,187.9 L293.2,188.5 L293.9,191.0 L294.6,191.1 L295.3,191.6 L296.0,192.6 L296.7,193.6 L297.4,194.1 L298.1,193.9 L298.8,193.3 L299.5,192.8 L300.2,192.2 L300.9,191.7 L301.6,192.2 L302.3,191.9 L303.0,191.8 L303.7,190.9 L304.4,190.8 L305.1,191.7 L305.8,192.4 L306.5,193.7 L307.2,192.9 L307.9,193.4 L308.6,193.4 L309.3,192.8 L310.0,194.0 L310.7,193.7 L311.4,192.2 L312.1,192.9 L312.8,192.3 L313.5,190.5 L314.2,191.2 L314.9,190.0 L315.6,189.1 L316.3,189.6 L317.0,188.5 L317.7,187.5 L318.4,186.8 L319.1,188.0 L319.8,187.7 L320.5,188.9 L321.2,189.2 L321.9,189.0 L322.6,189.4 L323.3,190.9 L324.0,190.8 L324.7,189.9 L325.4,188.6 L326.1,187.8 L326.8,187.8 L327.5,188.6 L328.2,187.9 L328.9,187.5 L329.6,187.1 L330.3,188.1 L331.0,188.2 L331.7,189.5 L332.4,190.7 L333.1,191.1 L333.8,190.2 L334.5,189.4 L335.2,189.2 L335.9,189.8 L336.6,189.2 L337.3,188.7 L338.0,190.8 L338.7,190.7 L339.4,192.6 L340.1,190.7 L340.8,190.9 L341.5,190.6 L342.2,190.8 L342.9,190.4 L343.6,190.5 L344.3,190.9 L345.0,192.4 L345.7,192.5 L346.4,192.1 L347.1,192.6 L347.8,190.8 L348.5,189.9 L349.2,188.4 L349.9,188.7 L350.6,188.5 L351.3,188.3 L352.0,188.5 L352.7,188.0 L353.4,187.5 L354.2,187.3 L354.9,186.3 L355.6,186.4 L356.3,186.4 L357.0,185.3 L357.7,184.3 L358.4,184.2 L359.1,182.8 L359.8,182.1 L360.5,181.9 L361.2,180.2 L361.9,180.1 L362.6,178.9 L363.3,178.4 L364.0,177.8 L364.7,175.2 L365.4,175.5 L366.1,174.5 L366.8,175.1 L367.5,175.8 L368.2,176.9 L368.9,176.3 L369.6,176.8 L370.3,175.1 L371.0,174.7 L371.7,174.4 L372.4,174.6 L373.1,173.8 L373.8,173.1 L374.5,172.5 L375.2,171.2 L375.9,172.1 L376.6,171.4 L377.3,170.4 L378.0,168.8 L378.7,166.4 L379.4,164.7 L380.1,164.1 L380.8,162.4 L381.5,161.6 L382.2,161.8 L382.9,160.3 L383.6,157.6 L384.3,155.5 L385.0,153.2 L385.7,152.0 L386.4,150.2 L387.1,150.3 L387.8,150.4 L388.5,150.6 L389.2,149.0 L389.9,148.3 L390.6,147.7" fill="none" stroke="#000" stroke-width="2.4" stroke-linejoin="round" stroke-linecap="round"/>
<path d="M390.6,147.7 L391.5,147.2 L392.5,147.4 L393.0,147.7 L393.7,148.7 L394.5,148.8 L395.0,149.5 L395.4,150.1 L395.5,150.8 L396.0,151.3 L396.4,152.4 L396.7,153.2 L397.1,153.7 L397.3,154.8 L397.4,155.7 L397.9,156.2 L398.4,157.3 L399.0,158.3 L399.3,159.2 L399.9,159.8 L400.3,161.2 L400.8,162.1 L401.2,163.3 L401.9,164.2 L401.9,165.7 L402.4,165.9 L402.4,167.5 L402.9,168.7 L402.9,169.7 L403.1,169.9 L403.2,170.9 L403.4,171.6 L403.2,172.5 L403.6,172.8 L403.7,173.3 L403.9,173.5 L404.1,174.9 L404.1,175.0 L404.3,176.3 L404.5,177.4 L404.8,178.2 L404.8,178.6 L404.6,178.8 L405.0,179.5 L405.3,180.1 L405.5,180.5 L405.6,181.5 L405.7,182.5 L405.8,183.3 L406.0,184.5 L406.1,185.2 L406.6,186.2 L406.4,187.4 L406.4,188.2 L406.7,189.2 L406.9,190.3 L407.0,190.8 L407.1,191.8 L407.3,193.0 L407.1,194.0 L407.3,195.2 L407.5,195.1 L407.6,196.9 L407.8,197.1 L407.9,198.2 L408.1,199.0 L408.1,199.3 L408.2,200.4 L408.3,201.3 L408.3,202.3 L408.6,203.2 L408.7,204.1 L408.8,205.5 L408.9,206.4 L409.0,207.3 L409.3,207.5 L409.6,208.2 L409.6,208.5 L409.6,209.4 L409.8,208.9 L410.1,209.3 L410.2,210.7 L410.4,210.7 L410.7,211.3 L410.9,212.4 L411.1,212.9 L411.4,213.3 L411.7,214.8 L412.1,216.1 L412.4,216.5 L412.5,218.1 L412.7,219.4 L413.1,220.3 L413.2,220.7 L413.6,221.5 L413.8,222.1 L414.4,222.1 L415.1,222.6 L415.5,223.4 L416.1,223.6 L416.4,224.6 L417.0,224.6 L417.4,226.1 L418.3,227.2 L419.0,228.0" fill="none" stroke="#000" stroke-width="3.4" stroke-linejoin="round" stroke-linecap="round"/>
<path d="M419.0,228.0 L419.8,229.7 L420.2,230.7 L420.3,231.7 L420.9,232.7 L421.5,233.4 L421.9,233.7 L422.8,233.9 L423.4,234.5 L424.5,234.7 L425.1,234.8 L425.7,235.5 L426.6,235.3 L427.4,235.9 L428.3,236.4 L429.0,236.1 L429.8,236.1 L430.4,236.0 L431.2,236.2 L432.1,236.8 L432.7,236.9 L433.7,237.5 L434.5,237.5 L435.2,237.9 L435.9,237.9 L436.6,238.5 L437.7,237.5 L438.4,238.0 L439.0,238.5 L439.9,239.2 L440.7,238.8 L441.6,239.4 L442.5,239.5 L443.0,239.2 L444.0,239.2 L444.9,239.3 L445.6,239.3 L446.4,238.9 L447.4,239.1 L447.9,238.6 L448.8,238.6 L449.6,239.2 L450.5,238.7 L451.3,238.8 L452.0,239.0 L452.7,239.4 L453.5,239.1 L454.5,239.9 L455.2,240.7 L455.9,240.9 L456.8,241.4 L457.7,242.0 L458.4,242.6 L459.0,242.0 L460.1,243.0 L460.8,242.5 L461.7,243.0 L462.5,242.5 L463.1,242.8 L463.8,243.4 L464.8,243.2 L465.5,243.8 L466.4,243.5 L467.2,243.6 L467.7,243.5 L468.7,244.0 L469.3,243.7 L470.2,243.7 L471.2,244.6 L472.0,244.2 L472.5,245.7 L473.3,244.9 L474.2,246.0 L475.1,245.2 L475.9,245.4 L476.7,245.2 L477.6,245.3 L478.5,245.3 L479.1,244.6 L480.0,244.8 L481.0,245.1 L481.4,245.0 L482.5,245.8 L483.3,246.0 L484.0,246.4 L484.8,246.0 L485.8,246.8 L486.4,246.6 L487.5,246.8 L488.0,246.6 L488.7,246.2" fill="none" stroke="#000" stroke-width="3.2" stroke-linejoin="round" stroke-linecap="round"/>
<path d="M98.3,182.4 L99.3,182.5 L100.3,182.6 L101.3,182.6 L102.3,182.7 L103.3,182.8 L104.3,182.8 L105.3,182.9 L106.3,182.9 L107.3,183.0 L108.3,183.0 L109.3,183.1 L110.3,183.1 L111.3,183.1 L112.3,183.2 L113.3,183.2 L114.3,183.3 L115.3,183.3 L116.3,183.3 L117.3,183.4 L118.3,183.4 L119.3,183.5 L120.3,183.5 L121.3,183.5 L122.3,183.6 L123.3,183.6 L124.3,183.7 L125.3,183.8 L126.4,183.8 L127.4,183.9 L128.4,184.0 L129.4,184.0 L130.4,184.1 L131.4,184.2 L132.4,184.2 L133.4,184.3 L134.4,184.4 L135.4,184.4 L136.4,184.5 L137.4,184.6 L138.4,184.6 L139.4,184.7 L140.4,184.8 L141.4,184.8 L142.4,184.9 L143.4,184.9 L144.4,184.9 L145.4,185.0 L146.4,185.0 L147.4,185.0 L148.4,185.0 L149.4,185.0 L150.4,185.1 L151.4,185.1 L152.4,185.0 L153.4,185.0 L154.4,185.0 L155.4,185.0 L156.4,185.0 L157.4,184.9 L158.4,184.9 L159.4,184.9 L160.4,184.8 L161.4,184.8 L162.4,184.7 L163.4,184.7 L164.4,184.6 L165.4,184.5 L166.4,184.5 L167.4,184.4 L168.4,184.3 L169.4,184.3 L170.4,184.2 L171.4,184.1 L172.4,184.0 L173.4,184.0 L174.4,183.9 L175.4,183.8 L176.4,183.7 L177.4,183.7 L178.4,183.6 L179.4,183.5 L180.4,183.4 L181.4,183.4 L182.5,183.3 L183.5,183.2 L184.5,183.2 L185.5,183.1 L186.5,183.1 L187.5,183.0 L188.5,183.0 L189.5,183.0 L190.5,182.9 L191.5,182.9 L192.5,182.9 L193.5,182.9 L194.5,182.9 L195.5,182.8 L196.5,182.9 L197.5,182.9 L198.5,182.9 L199.5,182.9 L200.5,182.9 L201.5,183.0 L202.5,183.0 L203.5,183.1 L204.5,183.2 L205.5,183.2 L206.5,183.3 L207.5,183.4 L208.5,183.5 L209.5,183.6 L210.5,183.7 L211.5,183.8 L212.5,183.9 L213.5,184.0 L214.5,184.1 L215.5,184.2 L216.5,184.3 L217.5,184.3 L218.5,184.4 L219.5,184.5 L220.5,184.5 L221.5,184.6 L222.5,184.6 L223.5,184.6 L224.5,184.6 L225.5,184.6 L226.5,184.6 L227.5,184.5 L228.5,184.4 L229.5,184.3 L230.5,184.2 L231.5,184.0 L232.5,183.9 L233.5,183.7 L234.5,183.5 L235.5,183.2 L236.5,183.0 L237.5,182.7 L238.6,182.5 L239.6,182.2 L240.6,181.8 L241.6,181.5 L242.6,181.2 L243.6,180.8 L244.6,180.4 L245.6,180.0 L246.6,179.5 L247.6,179.1 L248.6,178.5 L249.6,178.0 L250.6,177.4 L251.6,176.8 L252.6,176.1 L253.6,175.4 L254.6,174.7 L255.6,174.0 L256.6,173.2 L257.6,172.4 L258.6,171.6 L259.6,170.8 L260.6,170.1 L261.6,169.4 L262.6,168.8 L263.6,168.2 L264.6,167.8 L265.6,167.5 L266.6,167.4 L267.6,167.4 L268.6,167.6 L269.6,167.8 L270.6,168.2 L271.6,168.6 L272.6,169.1 L273.6,169.7 L274.6,170.4 L275.6,171.1 L276.6,171.9 L277.6,172.8 L278.6,173.8 L279.6,174.8 L280.6,175.8 L281.6,176.9 L282.6,178.0 L283.6,179.2 L284.6,180.3 L285.6,181.5 L286.6,182.6 L287.6,183.8 L288.6,184.9 L289.6,185.9 L290.6,187.0 L291.6,188.0 L292.6,188.9 L293.6,189.8 L294.7,190.6 L295.7,191.3 L296.7,192.0 L297.7,192.6 L298.7,193.1 L299.7,193.6 L300.7,193.9 L301.7,194.2 L302.7,194.4 L303.7,194.5 L304.7,194.5 L305.7,194.5 L306.7,194.4 L307.7,194.2 L308.7,194.0 L309.7,193.7 L310.7,193.4 L311.7,193.0 L312.7,192.6 L313.7,192.2 L314.7,191.8 L315.7,191.3 L316.7,190.9 L317.7,190.5 L318.7,190.1 L319.7,189.7 L320.7,189.4 L321.7,189.1 L322.7,188.9 L323.7,188.8 L324.7,188.7 L325.7,188.7 L326.7,188.8 L327.7,188.9 L328.7,189.0 L329.7,189.2 L330.7,189.4 L331.7,189.6 L332.7,189.9 L333.7,190.2 L334.7,190.5 L335.7,190.8 L336.7,191.2 L337.7,191.5 L338.7,191.8 L339.7,192.1 L340.7,192.4 L341.7,192.6 L342.7,192.8 L343.7,192.9 L344.7,193.0 L345.7,193.0 L346.7,192.9 L347.7,192.7 L348.7,192.4 L349.8,192.0 L350.8,191.5 L351.8,190.9 L352.8,190.2 L353.8,189.5 L354.8,188.8 L355.8,188.1 L356.8,187.4 L357.8,186.6 L358.8,185.8 L359.8,185.1 L360.8,184.3 L361.8,183.5 L362.8,182.8 L363.8,182.0 L364.8,181.2 L365.8,180.5 L366.8,179.8 L367.8,179.2 L368.8,178.5 L369.8,177.9 L370.8,177.3 L371.8,176.7 L372.8,176.0 L373.8,175.3 L374.8,174.5 L375.8,173.5 L376.8,172.4 L377.8,171.2 L378.8,169.7 L379.8,168.1 L380.8,166.2 L381.8,164.2 L382.8,162.0 L383.8,159.7 L384.8,157.4 L385.8,155.1 L386.8,152.9 L387.8,151.0 L388.8,149.5 L389.8,148.6 L390.8,148.4 L391.8,148.8 L392.8,149.9 L393.8,151.6 L394.8,153.8 L395.8,156.6 L396.8,159.7 L397.8,163.1 L398.8,166.7 L399.8,170.5 L400.8,174.2 L401.8,178.0 L402.8,181.6 L403.8,185.2 L404.8,188.6 L405.9,191.8 L406.9,194.8 L407.9,197.7 L408.9,200.3 L409.9,202.7 L410.9,204.9 L411.9,206.9 L412.9,208.8 L413.9,210.4 L414.9,211.9 L415.9,213.3 L416.9,214.6 L417.9,215.7 L418.9,216.8 L419.9,217.7 L420.9,218.6 L421.9,219.4 L422.9,220.2 L423.9,220.9 L424.9,221.6 L425.9,222.2 L426.9,222.8 L427.9,223.4 L428.9,223.9 L429.9,224.5 L430.9,225.0 L431.9,225.5 L432.9,226.0 L433.9,226.5 L434.9,226.9 L435.9,227.4 L436.9,227.8 L437.9,228.2 L438.9,228.6 L439.9,229.0 L440.9,229.4 L441.9,229.8 L442.9,230.1 L443.9,230.5 L444.9,230.8 L445.9,231.2 L446.9,231.5 L447.9,231.8 L448.9,232.2 L449.9,232.5 L450.9,232.8 L451.9,233.1 L452.9,233.4 L453.9,233.7 L454.9,233.9 L455.9,234.2 L456.9,234.5 L457.9,234.7 L458.9,235.0 L459.9,235.2 L460.9,235.5 L462.0,235.7 L463.0,236.0 L464.0,236.2 L465.0,236.4 L466.0,236.6 L467.0,236.8 L468.0,237.0 L469.0,237.2 L470.0,237.4 L471.0,237.6 L472.0,237.8 L473.0,238.0 L474.0,238.2 L475.0,238.4 L476.0,238.6 L477.0,238.7 L478.0,238.9 L479.0,239.1 L480.0,239.3 L481.0,239.5 L482.0,239.6 L483.0,239.8 L484.0,240.0 L485.0,240.2 L486.0,240.4 L487.0,240.6 L488.0,240.8 L489.0,240.9" fill="none" stroke="#ff0000" stroke-width="3.5" stroke-linejoin="round" stroke-linecap="round"/>
<path d="M298.7,216.5 L299.7,216.6 L300.7,216.8 L301.7,216.9 L302.7,217.1 L303.7,217.2 L304.7,217.4 L305.7,217.5 L306.7,217.7 L307.7,217.8 L308.7,218.0 L309.7,218.1 L310.7,218.3 L311.7,218.4 L312.7,218.6 L313.7,218.7 L314.7,218.9 L315.7,219.0 L316.7,219.2 L317.7,219.3 L318.7,219.5 L319.7,219.6 L320.7,219.8 L321.7,219.9 L322.7,220.1 L323.7,220.2 L324.7,220.4 L325.7,220.6 L326.7,220.7 L327.7,220.9 L328.7,221.0 L329.7,221.2 L330.7,221.3 L331.7,221.5" fill="none" stroke="#2020ff" stroke-width="1" stroke-linejoin="round" stroke-linecap="round"/>
<path d="M98.3,184.4 L99.3,184.5 L100.3,184.7 L101.3,184.8 L102.3,185.0 L103.3,185.1 L104.3,185.3 L105.3,185.4 L106.3,185.6 L107.3,185.7 L108.3,185.9 L109.3,186.0 L110.3,186.2 L111.3,186.3 L112.3,186.5 L113.3,186.6 L114.3,186.8 L115.3,186.9 L116.3,187.1 L117.3,187.2 L118.3,187.4 L119.3,187.5 L120.3,187.7 L121.3,187.8 L122.3,188.0 L123.3,188.1 L124.3,188.3 L125.3,188.4 L126.4,188.6 L127.4,188.7 L128.4,188.9 L129.4,189.0 L130.4,189.2 L131.4,189.3 L132.4,189.5 L133.4,189.6 L134.4,189.8 L135.4,189.9 L136.4,190.1 L137.4,190.2 L138.4,190.4 L139.4,190.5 L140.4,190.7 L141.4,190.8 L142.4,191.0 L143.4,191.1 L144.4,191.3 L145.4,191.4 L146.4,191.6 L147.4,191.7 L148.4,191.9 L149.4,192.0 L150.4,192.2 L151.4,192.3 L152.4,192.5 L153.4,192.7 L154.4,192.8 L155.4,193.0 L156.4,193.1 L157.4,193.3 L158.4,193.4 L159.4,193.6 L160.4,193.7 L161.4,193.9 L162.4,194.0 L163.4,194.2 L164.4,194.3 L165.4,194.5 L166.4,194.6 L167.4,194.8 L168.4,194.9 L169.4,195.1 L170.4,195.2 L171.4,195.4 L172.4,195.5 L173.4,195.7 L174.4,195.8 L175.4,196.0 L176.4,196.1 L177.4,196.3 L178.4,196.4 L179.4,196.6 L180.4,196.7 L181.4,196.9 L182.5,197.0 L183.5,197.2 L184.5,197.3 L185.5,197.5 L186.5,197.6 L187.5,197.8 L188.5,197.9 L189.5,198.1 L190.5,198.2 L191.5,198.4 L192.5,198.5 L193.5,198.7 L194.5,198.8 L195.5,199.0 L196.5,199.1 L197.5,199.3 L198.5,199.4 L199.5,199.6 L200.5,199.7 L201.5,199.9 L202.5,200.0 L203.5,200.2 L204.5,200.3 L205.5,200.5 L206.5,200.6 L207.5,200.8 L208.5,200.9 L209.5,201.1 L210.5,201.2 L211.5,201.4 L212.5,201.5 L213.5,201.7 L214.5,201.8 L215.5,202.0 L216.5,202.1 L217.5,202.3 L218.5,202.4 L219.5,202.6 L220.5,202.7 L221.5,202.9 L222.5,203.0 L223.5,203.2 L224.5,203.4 L225.5,203.5 L226.5,203.7 L227.5,203.8 L228.5,204.0 L229.5,204.1 L230.5,204.3 L231.5,204.4 L232.5,204.6 L233.5,204.7 L234.5,204.9 L235.5,205.0 L236.5,205.2 L237.5,205.3 L238.6,205.5 L239.6,205.6 L240.6,205.8 L241.6,205.9 L242.6,206.1 L243.6,206.2 L244.6,206.4 L245.6,206.5 L246.6,206.7 L247.6,206.8 L248.6,207.0 L249.6,207.1 L250.6,207.3 L251.6,207.4 L252.6,207.6 L253.6,207.7 L254.6,207.9 L255.6,208.0 L256.6,208.2 L257.6,208.3 L258.6,208.5 L259.6,208.6 L260.6,208.8 L261.6,208.9 L262.6,209.1 L263.6,209.2 L264.6,209.4 L265.6,209.6 L266.6,209.7 L267.6,209.9 L268.6,210.0 L269.6,210.2 L270.6,210.3 L271.6,210.5 L272.6,210.6 L273.6,210.8 L274.6,210.9 L275.6,211.1 L276.6,211.2 L277.6,211.4 L278.6,211.5 L279.6,211.7 L280.6,211.8 L281.6,212.0 L282.6,212.1 L283.6,212.3 L284.6,212.4 L285.6,212.6 L286.6,212.7 L287.6,212.9 L288.6,213.0 L289.6,213.2 L290.6,213.3 L291.6,213.5 L292.6,213.6 L293.6,213.8 L294.7,213.9 L295.7,214.1 L296.7,214.3 L297.7,214.4 L298.7,214.6 L299.7,214.7 L300.7,214.9 L301.7,215.0 L302.7,215.2 L303.7,215.3 L304.7,215.5 L305.7,215.6 L306.7,215.8 L307.7,215.9 L308.7,216.1 L309.7,216.2 L310.7,216.4 L311.7,216.5 L312.7,216.7 L313.7,216.8 L314.7,217.0 L315.7,217.1 L316.7,217.3 L317.7,217.4 L318.7,217.6 L319.7,217.7 L320.7,217.9 L321.7,218.0 L322.7,218.2 L323.7,218.3 L324.7,218.5 L325.7,218.7 L326.7,218.8 L327.7,219.0 L328.7,219.1 L329.7,219.3 L330.7,219.4 L331.7,219.6 L332.7,219.7 L333.7,219.9 L334.7,220.0 L335.7,220.2 L336.7,220.3 L337.7,220.5 L338.7,220.6 L339.7,220.8 L340.7,220.9 L341.7,221.1 L342.7,221.2 L343.7,221.4 L344.7,221.5 L345.7,221.7 L346.7,221.8 L347.7,222.0 L348.7,222.2 L349.8,222.3 L350.8,222.5 L351.8,222.6 L352.8,222.8 L353.8,222.9 L354.8,223.1 L355.8,223.2 L356.8,223.4 L357.8,223.5 L358.8,223.7 L359.8,223.8 L360.8,224.0 L361.8,224.1 L362.8,224.3 L363.8,224.4 L364.8,224.6 L365.8,224.7 L366.8,224.9 L367.8,225.0 L368.8,225.2 L369.8,225.3 L370.8,225.5 L371.8,225.7 L372.8,225.8 L373.8,226.0 L374.8,226.1 L375.8,226.3 L376.8,226.4 L377.8,226.6 L378.8,226.7 L379.8,226.9 L380.8,227.0 L381.8,227.2 L382.8,227.3 L383.8,227.5 L384.8,227.6 L385.8,227.8 L386.8,227.9 L387.8,228.1 L388.8,228.2 L389.8,228.4 L390.8,228.5 L391.8,228.7 L392.8,228.9 L393.8,229.0 L394.8,229.2 L395.8,229.3 L396.8,229.5 L397.8,229.6 L398.8,229.8 L399.8,229.9 L400.8,230.1 L401.8,230.2 L402.8,230.4 L403.8,230.5 L404.8,230.7 L405.9,230.8 L406.9,231.0 L407.9,231.1 L408.9,231.3 L409.9,231.4 L410.9,231.6 L411.9,231.8 L412.9,231.9 L413.9,232.1 L414.9,232.2 L415.9,232.4 L416.9,232.5 L417.9,232.7 L418.9,232.8 L419.9,233.0 L420.9,233.1 L421.9,233.3 L422.9,233.4 L423.9,233.6 L424.9,233.7 L425.9,233.9 L426.9,234.0 L427.9,234.2 L428.9,234.4 L429.9,234.5 L430.9,234.7 L431.9,234.8 L432.9,235.0 L433.9,235.1 L434.9,235.3 L435.9,235.4 L436.9,235.6 L437.9,235.7 L438.9,235.9 L439.9,236.0 L440.9,236.2 L441.9,236.3 L442.9,236.5 L443.9,236.6 L444.9,236.8 L445.9,237.0 L446.9,237.1 L447.9,237.3 L448.9,237.4 L449.9,237.6 L450.9,237.7 L451.9,237.9 L452.9,238.0 L453.9,238.2 L454.9,238.3 L455.9,238.5 L456.9,238.6 L457.9,238.8 L458.9,238.9 L459.9,239.1 L460.9,239.2 L462.0,239.4 L463.0,239.6 L464.0,239.7 L465.0,239.9 L466.0,240.0 L467.0,240.2 L468.0,240.3 L469.0,240.5 L470.0,240.6 L471.0,240.8 L472.0,240.9 L473.0,241.1 L474.0,241.2 L475.0,241.4 L476.0,241.5 L477.0,241.7 L478.0,241.9 L479.0,242.0 L480.0,242.2 L481.0,242.3 L482.0,242.5 L483.0,242.6 L484.0,242.8 L485.0,242.9 L486.0,243.1 L487.0,243.2 L488.0,243.4 L489.0,243.5" fill="none" stroke="#808000" stroke-width="3.7" stroke-linejoin="round" stroke-linecap="round"/>
<path d="M98.3,184.3 L99.3,184.4 L100.3,184.6 L101.3,184.7 L102.3,184.9 L103.3,185.0 L104.3,185.2 L105.3,185.3 L106.3,185.5 L107.3,185.6 L108.3,185.8 L109.3,185.9 L110.3,186.1 L111.3,186.2 L112.3,186.4 L113.3,186.5 L114.3,186.7 L115.3,186.8 L116.3,187.0 L117.3,187.1 L118.3,187.3 L119.3,187.4 L120.3,187.6 L121.3,187.7 L122.3,187.9 L123.3,188.0 L124.3,188.2 L125.3,188.3 L126.4,188.5 L127.4,188.6 L128.4,188.8 L129.4,188.9 L130.4,189.1 L131.4,189.2 L132.4,189.4 L133.4,189.5 L134.4,189.7 L135.4,189.8 L136.4,190.0 L137.4,190.1 L138.4,190.3 L139.4,190.4 L140.4,190.5 L141.4,190.7 L142.4,190.8 L143.4,191.0 L144.4,191.1 L145.4,191.3 L146.4,191.4 L147.4,191.6 L148.4,191.7 L149.4,191.9 L150.4,192.0 L151.4,192.2 L152.4,192.3 L153.4,192.5 L154.4,192.6 L155.4,192.8 L156.4,192.9 L157.4,193.1 L158.4,193.2 L159.4,193.4 L160.4,193.5 L161.4,193.7 L162.4,193.8 L163.4,194.0 L164.4,194.1 L165.4,194.3 L166.4,194.4 L167.4,194.6 L168.4,194.7 L169.4,194.9 L170.4,195.0 L171.4,195.2 L172.4,195.3 L173.4,195.5 L174.4,195.6 L175.4,195.8 L176.4,195.9 L177.4,196.1 L178.4,196.2 L179.4,196.4 L180.4,196.5 L181.4,196.7 L182.5,196.8 L183.5,197.0 L184.5,197.1 L185.5,197.2 L186.5,197.4 L187.5,197.5 L188.5,197.7 L189.5,197.8 L190.5,198.0 L191.5,198.1 L192.5,198.3 L193.5,198.4 L194.5,198.6 L195.5,198.7 L196.5,198.9 L197.5,199.0 L198.5,199.2 L199.5,199.3 L200.5,199.5 L201.5,199.6 L202.5,199.8 L203.5,199.9 L204.5,200.1 L205.5,200.2 L206.5,200.4 L207.5,200.5 L208.5,200.7 L209.5,200.8 L210.5,201.0 L211.5,201.1 L212.5,201.3 L213.5,201.4 L214.5,201.5 L215.5,201.7 L216.5,201.8 L217.5,202.0 L218.5,202.1 L219.5,202.3 L220.5,202.4 L221.5,202.6 L222.5,202.7 L223.5,202.9 L224.5,203.0 L225.5,203.2 L226.5,203.3 L227.5,203.5 L228.5,203.6 L229.5,203.8 L230.5,203.9 L231.5,204.0 L232.5,204.2 L233.5,204.3 L234.5,204.5 L235.5,204.6 L236.5,204.8 L237.5,204.9 L238.6,205.1 L239.6,205.2 L240.6,205.4 L241.6,205.5 L242.6,205.7 L243.6,205.8 L244.6,205.9 L245.6,206.1 L246.6,206.2 L247.6,206.4 L248.6,206.5 L249.6,206.7 L250.6,206.8 L251.6,207.0 L252.6,207.1 L253.6,207.2 L254.6,207.4 L255.6,207.5 L256.6,207.7 L257.6,207.8 L258.6,208.0 L259.6,208.1 L260.6,208.3 L261.6,208.4 L262.6,208.5 L263.6,208.7 L264.6,208.8 L265.6,209.0 L266.6,209.1 L267.6,209.3 L268.6,209.4 L269.6,209.5 L270.6,209.7 L271.6,209.8 L272.6,210.0 L273.6,210.1 L274.6,210.2 L275.6,210.4 L276.6,210.5 L277.6,210.7 L278.6,210.8 L279.6,210.9 L280.6,211.1 L281.6,211.2 L282.6,211.4 L283.6,211.5 L284.6,211.6 L285.6,211.8 L286.6,211.9 L287.6,212.0 L288.6,212.2 L289.6,212.3 L290.6,212.4 L291.6,212.6 L292.6,212.7 L293.6,212.8 L294.7,213.0 L295.7,213.1 L296.7,213.2 L297.7,213.4 L298.7,213.5 L299.7,213.6 L300.7,213.7 L301.7,213.9 L302.7,214.0 L303.7,214.1 L304.7,214.2 L305.7,214.4 L306.7,214.5 L307.7,214.6 L308.7,214.7 L309.7,214.9 L310.7,215.0 L311.7,215.1 L312.7,215.2 L313.7,215.3 L314.7,215.4 L315.7,215.5 L316.7,215.7 L317.7,215.8 L318.7,215.9 L319.7,216.0 L320.7,216.1 L321.7,216.2 L322.7,216.3 L323.7,216.4 L324.7,216.5 L325.7,216.6 L326.7,216.7 L327.7,216.7 L328.7,216.8 L329.7,216.9 L330.7,217.0 L331.7,217.0 L332.7,217.1 L333.7,217.2 L334.7,217.2 L335.7,217.3 L336.7,217.3 L337.7,217.4 L338.7,217.4 L339.7,217.5 L340.7,217.5 L341.7,217.5 L342.7,217.5 L343.7,217.5 L344.7,217.5 L345.7,217.5 L346.7,217.5 L347.7,217.4 L348.7,217.4 L349.8,217.3 L350.8,217.3 L351.8,217.2 L352.8,217.0 L353.8,216.9 L354.8,216.7 L355.8,216.6 L356.8,216.4 L357.8,216.1 L358.8,215.8 L359.8,215.5 L360.8,215.1 L361.8,214.7 L362.8,214.2 L363.8,213.7 L364.8,213.0 L365.8,212.3 L366.8,211.5 L367.8,210.5 L368.8,209.5 L369.8,208.3 L370.8,207.0 L371.8,205.5 L372.8,203.9 L373.8,202.0 L374.8,200.0 L375.8,197.8 L376.8,195.3 L377.8,192.7 L378.8,189.8 L379.8,186.8 L380.8,183.5 L381.8,180.2 L382.8,176.7 L383.8,173.2 L384.8,169.8 L385.8,166.5 L386.8,163.5 L387.8,161.0 L388.8,159.0 L389.8,157.8 L390.8,157.3 L391.8,157.7 L392.8,158.7 L393.8,160.5 L394.8,162.8 L395.8,165.6 L396.8,168.8 L397.8,172.1 L398.8,175.6 L399.8,179.1 L400.8,182.6 L401.8,186.0 L402.8,189.2 L403.8,192.2 L404.8,195.1 L405.9,197.8 L406.9,200.3 L407.9,202.6 L408.9,204.7 L409.9,206.7 L410.9,208.5 L411.9,210.2 L412.9,211.8 L413.9,213.3 L414.9,214.6 L415.9,215.8 L416.9,217.0 L417.9,218.1 L418.9,219.1 L419.9,220.0 L420.9,220.9 L421.9,221.7 L422.9,222.5 L423.9,223.2 L424.9,223.9 L425.9,224.5 L426.9,225.1 L427.9,225.7 L428.9,226.2 L429.9,226.8 L430.9,227.3 L431.9,227.7 L432.9,228.2 L433.9,228.6 L434.9,229.1 L435.9,229.5 L436.9,229.8 L437.9,230.2 L438.9,230.6 L439.9,230.9 L440.9,231.3 L441.9,231.6 L442.9,231.9 L443.9,232.2 L444.9,232.6 L445.9,232.8 L446.9,233.1 L447.9,233.4 L448.9,233.7 L449.9,234.0 L450.9,234.2 L451.9,234.5 L452.9,234.8 L453.9,235.0 L454.9,235.3 L455.9,235.5 L456.9,235.7 L457.9,236.0 L458.9,236.2 L459.9,236.4 L460.9,236.7 L462.0,236.9 L463.0,237.1 L464.0,237.3 L465.0,237.5 L466.0,237.7 L467.0,238.0 L468.0,238.2 L469.0,238.4 L470.0,238.6 L471.0,238.8 L472.0,239.0 L473.0,239.2 L474.0,239.4 L475.0,239.6 L476.0,239.8 L477.0,240.0 L478.0,240.2 L479.0,240.3 L480.0,240.5 L481.0,240.7 L482.0,240.9 L483.0,241.1 L484.0,241.3 L485.0,241.5 L486.0,241.7 L487.0,241.8 L488.0,242.0 L489.0,242.2" fill="none" stroke="#00ff00" stroke-width="3.8" stroke-linejoin="round" stroke-linecap="round"/>
<path d="M98.3,184.3 L99.3,184.4 L100.3,184.5 L101.3,184.7 L102.3,184.8 L103.3,184.9 L104.3,185.1 L105.3,185.2 L106.3,185.3 L107.3,185.5 L108.3,185.6 L109.3,185.7 L110.3,185.8 L111.3,186.0 L112.3,186.1 L113.3,186.2 L114.3,186.3 L115.3,186.4 L116.3,186.5 L117.3,186.6 L118.3,186.7 L119.3,186.8 L120.3,186.9 L121.3,187.0 L122.3,187.1 L123.3,187.2 L124.3,187.3 L125.3,187.4 L126.4,187.4 L127.4,187.5 L128.4,187.6 L129.4,187.6 L130.4,187.7 L131.4,187.8 L132.4,187.8 L133.4,187.8 L134.4,187.9 L135.4,187.9 L136.4,187.9 L137.4,188.0 L138.4,188.0 L139.4,188.0 L140.4,188.0 L141.4,188.0 L142.4,188.0 L143.4,188.0 L144.4,188.0 L145.4,188.0 L146.4,187.9 L147.4,187.9 L148.4,187.9 L149.4,187.8 L150.4,187.8 L151.4,187.7 L152.4,187.7 L153.4,187.6 L154.4,187.5 L155.4,187.4 L156.4,187.4 L157.4,187.3 L158.4,187.2 L159.4,187.1 L160.4,187.0 L161.4,186.9 L162.4,186.8 L163.4,186.7 L164.4,186.6 L165.4,186.5 L166.4,186.4 L167.4,186.3 L168.4,186.1 L169.4,186.0 L170.4,185.9 L171.4,185.8 L172.4,185.7 L173.4,185.6 L174.4,185.5 L175.4,185.4 L176.4,185.3 L177.4,185.2 L178.4,185.1 L179.4,185.0 L180.4,184.9 L181.4,184.8 L182.5,184.8 L183.5,184.7 L184.5,184.7 L185.5,184.6 L186.5,184.6 L187.5,184.5 L188.5,184.5 L189.5,184.5 L190.5,184.5 L191.5,184.5 L192.5,184.5 L193.5,184.5 L194.5,184.6 L195.5,184.6 L196.5,184.7 L197.5,184.8 L198.5,184.9 L199.5,185.0 L200.5,185.1 L201.5,185.2 L202.5,185.3 L203.5,185.5 L204.5,185.6 L205.5,185.8 L206.5,186.0 L207.5,186.2 L208.5,186.4 L209.5,186.7 L210.5,186.9 L211.5,187.1 L212.5,187.4 L213.5,187.7 L214.5,188.0 L215.5,188.3 L216.5,188.6 L217.5,188.9 L218.5,189.2 L219.5,189.5 L220.5,189.9 L221.5,190.2 L222.5,190.6 L223.5,191.0 L224.5,191.3 L225.5,191.7 L226.5,192.1 L227.5,192.5 L228.5,192.9 L229.5,193.3 L230.5,193.7 L231.5,194.1 L232.5,194.5 L233.5,194.9 L234.5,195.3 L235.5,195.7 L236.5,196.1 L237.5,196.6 L238.6,197.0 L239.6,197.4 L240.6,197.8 L241.6,198.2 L242.6,198.6 L243.6,199.0 L244.6,199.4 L245.6,199.8 L246.6,200.2 L247.6,200.6 L248.6,201.0 L249.6,201.4 L250.6,201.8 L251.6,202.1 L252.6,202.5 L253.6,202.9 L254.6,203.2 L255.6,203.6 L256.6,204.0 L257.6,204.3 L258.6,204.6 L259.6,205.0 L260.6,205.3 L261.6,205.6 L262.6,205.9 L263.6,206.3 L264.6,206.6 L265.6,206.9 L266.6,207.2 L267.6,207.4 L268.6,207.7 L269.6,208.0 L270.6,208.3 L271.6,208.5 L272.6,208.8 L273.6,209.1 L274.6,209.3 L275.6,209.6 L276.6,209.8 L277.6,210.1 L278.6,210.3 L279.6,210.5 L280.6,210.7 L281.6,211.0 L282.6,211.2 L283.6,211.4 L284.6,211.6 L285.6,211.8 L286.6,212.0 L287.6,212.2 L288.6,212.4 L289.6,212.6 L290.6,212.8 L291.6,213.0 L292.6,213.2 L293.6,213.4 L294.7,213.6 L295.7,213.7 L296.7,213.9 L297.7,214.1 L298.7,214.3 L299.7,214.4 L300.7,214.6 L301.7,214.8 L302.7,215.0 L303.7,215.1 L304.7,215.3 L305.7,215.5 L306.7,215.6 L307.7,215.8 L308.7,216.0 L309.7,216.1 L310.7,216.3 L311.7,216.4 L312.7,216.6 L313.7,216.8 L314.7,216.9 L315.7,217.1 L316.7,217.2 L317.7,217.4 L318.7,217.5 L319.7,217.7 L320.7,217.9 L321.7,218.0 L322.7,218.2 L323.7,218.3 L324.7,218.5 L325.7,218.6 L326.7,218.8 L327.7,218.9 L328.7,219.1 L329.7,219.2 L330.7,219.4 L331.7,219.6 L332.7,219.7 L333.7,219.9 L334.7,220.0 L335.7,220.2 L336.7,220.3 L337.7,220.5 L338.7,220.6 L339.7,220.8 L340.7,220.9 L341.7,221.1 L342.7,221.2 L343.7,221.4 L344.7,221.5 L345.7,221.7 L346.7,221.8 L347.7,222.0 L348.7,222.1 L349.8,222.3 L350.8,222.5 L351.8,222.6 L352.8,222.8 L353.8,222.9 L354.8,223.1 L355.8,223.2 L356.8,223.4 L357.8,223.5 L358.8,223.7 L359.8,223.8 L360.8,224.0 L361.8,224.1 L362.8,224.3 L363.8,224.4 L364.8,224.6 L365.8,224.7 L366.8,224.9 L367.8,225.0 L368.8,225.2 L369.8,225.3 L370.8,225.5 L371.8,225.7 L372.8,225.8 L373.8,226.0 L374.8,226.1 L375.8,226.3 L376.8,226.4 L377.8,226.6 L378.8,226.7 L379.8,226.9 L380.8,227.0 L381.8,227.2 L382.8,227.3 L383.8,227.5 L384.8,227.6 L385.8,227.8 L386.8,227.9 L387.8,228.1 L388.8,228.2 L389.8,228.4 L390.8,228.5 L391.8,228.7 L392.8,228.9 L393.8,229.0 L394.8,229.2 L395.8,229.3 L396.8,229.5 L397.8,229.6 L398.8,229.8 L399.8,229.9 L400.8,230.1 L401.8,230.2 L402.8,230.4 L403.8,230.5 L404.8,230.7 L405.9,230.8 L406.9,231.0 L407.9,231.1 L408.9,231.3 L409.9,231.4 L410.9,231.6 L411.9,231.8 L412.9,231.9 L413.9,232.1 L414.9,232.2 L415.9,232.4 L416.9,232.5 L417.9,232.7 L418.9,232.8 L419.9,233.0 L420.9,233.1 L421.9,233.3 L422.9,233.4 L423.9,233.6 L424.9,233.7 L425.9,233.9 L426.9,234.0 L427.9,234.2 L428.9,234.4 L429.9,234.5 L430.9,234.7 L431.9,234.8 L432.9,235.0 L433.9,235.1 L434.9,235.3 L435.9,235.4 L436.9,235.6 L437.9,235.7 L438.9,235.9 L439.9,236.0 L440.9,236.2 L441.9,236.3 L442.9,236.5 L443.9,236.6 L444.9,236.8 L445.9,237.0 L446.9,237.1 L447.9,237.3 L448.9,237.4 L449.9,237.6 L450.9,237.7 L451.9,237.9 L452.9,238.0 L453.9,238.2 L454.9,238.3 L455.9,238.5 L456.9,238.6 L457.9,238.8 L458.9,238.9 L459.9,239.1 L460.9,239.2 L462.0,239.4 L463.0,239.6 L464.0,239.7 L465.0,239.9 L466.0,240.0 L467.0,240.2 L468.0,240.3 L469.0,240.5 L470.0,240.6 L471.0,240.8 L472.0,240.9 L473.0,241.1 L474.0,241.2 L475.0,241.4 L476.0,241.5 L477.0,241.7 L478.0,241.9 L479.0,242.0 L480.0,242.2 L481.0,242.3 L482.0,242.5 L483.0,242.6 L484.0,242.8 L485.0,242.9 L486.0,243.1 L487.0,243.2 L488.0,243.4 L489.0,243.5" fill="none" stroke="#808000" stroke-width="3.7" stroke-linejoin="round" stroke-linecap="round"/>
<path d="M98.3,183.9 L99.3,184.0 L100.3,184.2 L101.3,184.3 L102.3,184.5 L103.3,184.6 L104.3,184.7 L105.3,184.9 L106.3,185.0 L107.3,185.2 L108.3,185.3 L109.3,185.5 L110.3,185.6 L111.3,185.7 L112.3,185.9 L113.3,186.0 L114.3,186.2 L115.3,186.3 L116.3,186.5 L117.3,186.6 L118.3,186.7 L119.3,186.9 L120.3,187.0 L121.3,187.2 L122.3,187.3 L123.3,187.4 L124.3,187.6 L125.3,187.7 L126.4,187.9 L127.4,188.0 L128.4,188.1 L129.4,188.3 L130.4,188.4 L131.4,188.6 L132.4,188.7 L133.4,188.8 L134.4,189.0 L135.4,189.1 L136.4,189.3 L137.4,189.4 L138.4,189.5 L139.4,189.7 L140.4,189.8 L141.4,189.9 L142.4,190.1 L143.4,190.2 L144.4,190.4 L145.4,190.5 L146.4,190.6 L147.4,190.8 L148.4,190.9 L149.4,191.0 L150.4,191.2 L151.4,191.3 L152.4,191.4 L153.4,191.6 L154.4,191.7 L155.4,191.8 L156.4,192.0 L157.4,192.1 L158.4,192.2 L159.4,192.3 L160.4,192.5 L161.4,192.6 L162.4,192.7 L163.4,192.8 L164.4,193.0 L165.4,193.1 L166.4,193.2 L167.4,193.3 L168.4,193.5 L169.4,193.6 L170.4,193.7 L171.4,193.8 L172.4,194.0 L173.4,194.1 L174.4,194.2 L175.4,194.3 L176.4,194.4 L177.4,194.5 L178.4,194.7 L179.4,194.8 L180.4,194.9 L181.4,195.0 L182.5,195.1 L183.5,195.2 L184.5,195.3 L185.5,195.4 L186.5,195.5 L187.5,195.6 L188.5,195.7 L189.5,195.8 L190.5,195.9 L191.5,196.0 L192.5,196.1 L193.5,196.2 L194.5,196.3 L195.5,196.4 L196.5,196.4 L197.5,196.5 L198.5,196.6 L199.5,196.7 L200.5,196.7 L201.5,196.8 L202.5,196.9 L203.5,196.9 L204.5,197.0 L205.5,197.0 L206.5,197.1 L207.5,197.1 L208.5,197.2 L209.5,197.2 L210.5,197.2 L211.5,197.3 L212.5,197.3 L213.5,197.3 L214.5,197.3 L215.5,197.3 L216.5,197.3 L217.5,197.3 L218.5,197.3 L219.5,197.2 L220.5,197.2 L221.5,197.1 L222.5,197.1 L223.5,197.0 L224.5,196.9 L225.5,196.8 L226.5,196.7 L227.5,196.5 L228.5,196.4 L229.5,196.2 L230.5,196.1 L231.5,195.9 L232.5,195.6 L233.5,195.4 L234.5,195.1 L235.5,194.8 L236.5,194.5 L237.5,194.2 L238.6,193.8 L239.6,193.4 L240.6,192.9 L241.6,192.5 L242.6,191.9 L243.6,191.4 L244.6,190.8 L245.6,190.1 L246.6,189.5 L247.6,188.7 L248.6,187.9 L249.6,187.1 L250.6,186.3 L251.6,185.3 L252.6,184.4 L253.6,183.4 L254.6,182.4 L255.6,181.3 L256.6,180.3 L257.6,179.2 L258.6,178.2 L259.6,177.2 L260.6,176.3 L261.6,175.4 L262.6,174.6 L263.6,174.0 L264.6,173.4 L265.6,173.1 L266.6,172.9 L267.6,172.9 L268.6,173.0 L269.6,173.3 L270.6,173.7 L271.6,174.1 L272.6,174.7 L273.6,175.4 L274.6,176.1 L275.6,177.0 L276.6,177.9 L277.6,178.9 L278.6,179.9 L279.6,181.0 L280.6,182.1 L281.6,183.3 L282.6,184.5 L283.6,185.7 L284.6,187.0 L285.6,188.2 L286.6,189.5 L287.6,190.7 L288.6,192.0 L289.6,193.2 L290.6,194.5 L291.6,195.7 L292.6,196.8 L293.6,198.0 L294.7,199.1 L295.7,200.2 L296.7,201.3 L297.7,202.3 L298.7,203.3 L299.7,204.2 L300.7,205.1 L301.7,205.9 L302.7,206.8 L303.7,207.5 L304.7,208.3 L305.7,209.0 L306.7,209.7 L307.7,210.3 L308.7,210.9 L309.7,211.5 L310.7,212.0 L311.7,212.5 L312.7,213.0 L313.7,213.4 L314.7,213.8 L315.7,214.2 L316.7,214.6 L317.7,215.0 L318.7,215.3 L319.7,215.6 L320.7,215.9 L321.7,216.2 L322.7,216.5 L323.7,216.8 L324.7,217.0 L325.7,217.3 L326.7,217.5 L327.7,217.7 L328.7,217.9 L329.7,218.2 L330.7,218.4 L331.7,218.6 L332.7,218.8 L333.7,219.0 L334.7,219.1 L335.7,219.3 L336.7,219.5 L337.7,219.7 L338.7,219.9 L339.7,220.1 L340.7,220.2 L341.7,220.4 L342.7,220.6 L343.7,220.7 L344.7,220.9 L345.7,221.1 L346.7,221.3 L347.7,221.4 L348.7,221.6 L349.8,221.8 L350.8,221.9 L351.8,222.1 L352.8,222.2 L353.8,222.4 L354.8,222.6 L355.8,222.7 L356.8,222.9 L357.8,223.1 L358.8,223.2 L359.8,223.4 L360.8,223.5 L361.8,223.7 L362.8,223.9 L363.8,224.0 L364.8,224.2 L365.8,224.3 L366.8,224.5 L367.8,224.7 L368.8,224.8 L369.8,225.0 L370.8,225.1 L371.8,225.3 L372.8,225.5 L373.8,225.6 L374.8,225.8 L375.8,225.9 L376.8,226.1 L377.8,226.3 L378.8,226.4 L379.8,226.6 L380.8,226.7 L381.8,226.9 L382.8,227.0 L383.8,227.2 L384.8,227.4 L385.8,227.5 L386.8,227.7 L387.8,227.8 L388.8,228.0 L389.8,228.1 L390.8,228.3 L391.8,228.5 L392.8,228.6 L393.8,228.8 L394.8,228.9 L395.8,229.1 L396.8,229.2 L397.8,229.4 L398.8,229.5 L399.8,229.7 L400.8,229.9 L401.8,230.0 L402.8,230.2 L403.8,230.3 L404.8,230.5 L405.9,230.6 L406.9,230.8 L407.9,230.9 L408.9,231.1 L409.9,231.3 L410.9,231.4 L411.9,231.6 L412.9,231.7 L413.9,231.9 L414.9,232.0 L415.9,232.2 L416.9,232.3 L417.9,232.5 L418.9,232.7 L419.9,232.8 L420.9,233.0 L421.9,233.1 L422.9,233.3 L423.9,233.4 L424.9,233.6 L425.9,233.7 L426.9,233.9 L427.9,234.0 L428.9,234.2 L429.9,234.4 L430.9,234.5 L431.9,234.7 L432.9,234.8 L433.9,235.0 L434.9,235.1 L435.9,235.3 L436.9,235.4 L437.9,235.6 L438.9,235.7 L439.9,235.9 L440.9,236.1 L441.9,236.2 L442.9,236.4 L443.9,236.5 L444.9,236.7 L445.9,236.8 L446.9,237.0 L447.9,237.1 L448.9,237.3 L449.9,237.4 L450.9,237.6 L451.9,237.8 L452.9,237.9 L453.9,238.1 L454.9,238.2 L455.9,238.4 L456.9,238.5 L457.9,238.7 L458.9,238.8 L459.9,239.0 L460.9,239.1 L462.0,239.3 L463.0,239.5 L464.0,239.6 L465.0,239.8 L466.0,239.9 L467.0,240.1 L468.0,240.2 L469.0,240.4 L470.0,240.5 L471.0,240.7 L472.0,240.8 L473.0,241.0 L474.0,241.1 L475.0,241.3 L476.0,241.5 L477.0,241.6 L478.0,241.8 L479.0,241.9 L480.0,242.1 L481.0,242.2 L482.0,242.4 L483.0,242.5 L484.0,242.7 L485.0,242.8 L486.0,243.0 L487.0,243.2 L488.0,243.3 L489.0,243.5" fill="none" stroke="#808000" stroke-width="3.7" stroke-linejoin="round" stroke-linecap="round"/>
<path d="M98.3,184.4 L99.3,184.5 L100.3,184.7 L101.3,184.8 L102.3,185.0 L103.3,185.1 L104.3,185.3 L105.3,185.4 L106.3,185.6 L107.3,185.7 L108.3,185.9 L109.3,186.0 L110.3,186.2 L111.3,186.3 L112.3,186.5 L113.3,186.6 L114.3,186.8 L115.3,186.9 L116.3,187.1 L117.3,187.2 L118.3,187.4 L119.3,187.5 L120.3,187.7 L121.3,187.8 L122.3,188.0 L123.3,188.1 L124.3,188.3 L125.3,188.4 L126.4,188.6 L127.4,188.7 L128.4,188.9 L129.4,189.0 L130.4,189.2 L131.4,189.3 L132.4,189.5 L133.4,189.6 L134.4,189.8 L135.4,189.9 L136.4,190.1 L137.4,190.2 L138.4,190.4 L139.4,190.5 L140.4,190.7 L141.4,190.8 L142.4,191.0 L143.4,191.1 L144.4,191.3 L145.4,191.4 L146.4,191.6 L147.4,191.7 L148.4,191.9 L149.4,192.0 L150.4,192.2 L151.4,192.3 L152.4,192.5 L153.4,192.6 L154.4,192.8 L155.4,192.9 L156.4,193.1 L157.4,193.2 L158.4,193.4 L159.4,193.5 L160.4,193.7 L161.4,193.8 L162.4,194.0 L163.4,194.1 L164.4,194.3 L165.4,194.4 L166.4,194.6 L167.4,194.7 L168.4,194.9 L169.4,195.0 L170.4,195.2 L171.4,195.3 L172.4,195.5 L173.4,195.6 L174.4,195.8 L175.4,195.9 L176.4,196.1 L177.4,196.2 L178.4,196.4 L179.4,196.5 L180.4,196.7 L181.4,196.8 L182.5,197.0 L183.5,197.1 L184.5,197.3 L185.5,197.4 L186.5,197.6 L187.5,197.7 L188.5,197.9 L189.5,198.0 L190.5,198.2 L191.5,198.3 L192.5,198.5 L193.5,198.6 L194.5,198.8 L195.5,198.9 L196.5,199.1 L197.5,199.2 L198.5,199.4 L199.5,199.5 L200.5,199.7 L201.5,199.8 L202.5,200.0 L203.5,200.1 L204.5,200.3 L205.5,200.4 L206.5,200.6 L207.5,200.7 L208.5,200.9 L209.5,201.0 L210.5,201.2 L211.5,201.3 L212.5,201.5 L213.5,201.6 L214.5,201.8 L215.5,201.9 L216.5,202.1 L217.5,202.2 L218.5,202.4 L219.5,202.5 L220.5,202.7 L221.5,202.8 L222.5,203.0 L223.5,203.1 L224.5,203.3 L225.5,203.4 L226.5,203.6 L227.5,203.7 L228.5,203.9 L229.5,204.0 L230.5,204.2 L231.5,204.3 L232.5,204.5 L233.5,204.6 L234.5,204.8 L235.5,204.9 L236.5,205.1 L237.5,205.2 L238.6,205.4 L239.6,205.5 L240.6,205.7 L241.6,205.8 L242.6,206.0 L243.6,206.1 L244.6,206.3 L245.6,206.4 L246.6,206.6 L247.6,206.7 L248.6,206.9 L249.6,207.0 L250.6,207.2 L251.6,207.3 L252.6,207.5 L253.6,207.6 L254.6,207.8 L255.6,207.9 L256.6,208.1 L257.6,208.2 L258.6,208.4 L259.6,208.5 L260.6,208.7 L261.6,208.8 L262.6,209.0 L263.6,209.1 L264.6,209.3 L265.6,209.4 L266.6,209.5 L267.6,209.7 L268.6,209.8 L269.6,210.0 L270.6,210.1 L271.6,210.3 L272.6,210.4 L273.6,210.5 L274.6,210.7 L275.6,210.8 L276.6,210.9 L277.6,211.1 L278.6,211.2 L279.6,211.3 L280.6,211.4 L281.6,211.5 L282.6,211.6 L283.6,211.7 L284.6,211.8 L285.6,211.9 L286.6,212.0 L287.6,212.0 L288.6,212.0 L289.6,212.0 L290.6,212.0 L291.6,212.0 L292.6,211.9 L293.6,211.8 L294.7,211.7 L295.7,211.6 L296.7,211.4 L297.7,211.2 L298.7,210.9 L299.7,210.6 L300.7,210.2 L301.7,209.9 L302.7,209.4 L303.7,209.0 L304.7,208.4 L305.7,207.9 L306.7,207.3 L307.7,206.7 L308.7,206.0 L309.7,205.4 L310.7,204.7 L311.7,204.0 L312.7,203.3 L313.7,202.6 L314.7,201.9 L315.7,201.3 L316.7,200.6 L317.7,200.1 L318.7,199.5 L319.7,199.1 L320.7,198.7 L321.7,198.4 L322.7,198.1 L323.7,198.0 L324.7,198.0 L325.7,198.1 L326.7,198.2 L327.7,198.5 L328.7,198.8 L329.7,199.1 L330.7,199.5 L331.7,200.0 L332.7,200.6 L333.7,201.2 L334.7,201.8 L335.7,202.5 L336.7,203.2 L337.7,204.0 L338.7,204.8 L339.7,205.6 L340.7,206.4 L341.7,207.2 L342.7,208.0 L343.7,208.9 L344.7,209.7 L345.7,210.6 L346.7,211.4 L347.7,212.2 L348.7,213.0 L349.8,213.8 L350.8,214.5 L351.8,215.2 L352.8,216.0 L353.8,216.6 L354.8,217.3 L355.8,217.9 L356.8,218.5 L357.8,219.1 L358.8,219.6 L359.8,220.2 L360.8,220.7 L361.8,221.1 L362.8,221.6 L363.8,222.0 L364.8,222.4 L365.8,222.7 L366.8,223.1 L367.8,223.4 L368.8,223.8 L369.8,224.1 L370.8,224.3 L371.8,224.6 L372.8,224.9 L373.8,225.1 L374.8,225.3 L375.8,225.6 L376.8,225.8 L377.8,226.0 L378.8,226.2 L379.8,226.4 L380.8,226.6 L381.8,226.8 L382.8,227.0 L383.8,227.1 L384.8,227.3 L385.8,227.5 L386.8,227.7 L387.8,227.8 L388.8,228.0 L389.8,228.2 L390.8,228.3 L391.8,228.5 L392.8,228.7 L393.8,228.8 L394.8,229.0 L395.8,229.1 L396.8,229.3 L397.8,229.4 L398.8,229.6 L399.8,229.8 L400.8,229.9 L401.8,230.1 L402.8,230.2 L403.8,230.4 L404.8,230.5 L405.9,230.7 L406.9,230.9 L407.9,231.0 L408.9,231.2 L409.9,231.3 L410.9,231.5 L411.9,231.6 L412.9,231.8 L413.9,231.9 L414.9,232.1 L415.9,232.3 L416.9,232.4 L417.9,232.6 L418.9,232.7 L419.9,232.9 L420.9,233.0 L421.9,233.2 L422.9,233.3 L423.9,233.5 L424.9,233.7 L425.9,233.8 L426.9,234.0 L427.9,234.1 L428.9,234.3 L429.9,234.4 L430.9,234.6 L431.9,234.7 L432.9,234.9 L433.9,235.0 L434.9,235.2 L435.9,235.3 L436.9,235.5 L437.9,235.7 L438.9,235.8 L439.9,236.0 L440.9,236.1 L441.9,236.3 L442.9,236.4 L443.9,236.6 L444.9,236.7 L445.9,236.9 L446.9,237.0 L447.9,237.2 L448.9,237.4 L449.9,237.5 L450.9,237.7 L451.9,237.8 L452.9,238.0 L453.9,238.1 L454.9,238.3 L455.9,238.4 L456.9,238.6 L457.9,238.7 L458.9,238.9 L459.9,239.0 L460.9,239.2 L462.0,239.4 L463.0,239.5 L464.0,239.7 L465.0,239.8 L466.0,240.0 L467.0,240.1 L468.0,240.3 L469.0,240.4 L470.0,240.6 L471.0,240.7 L472.0,240.9 L473.0,241.0 L474.0,241.2 L475.0,241.4 L476.0,241.5 L477.0,241.7 L478.0,241.8 L479.0,242.0 L480.0,242.1 L481.0,242.3 L482.0,242.4 L483.0,242.6 L484.0,242.7 L485.0,242.9 L486.0,243.0 L487.0,243.2 L488.0,243.4 L489.0,243.5" fill="none" stroke="#808000" stroke-width="3.7" stroke-linejoin="round" stroke-linecap="round"/>
<path d="M98.3,184.3 L99.3,184.4 L100.3,184.6 L101.3,184.7 L102.3,184.9 L103.3,185.0 L104.3,185.2 L105.3,185.3 L106.3,185.5 L107.3,185.6 L108.3,185.8 L109.3,185.9 L110.3,186.1 L111.3,186.2 L112.3,186.4 L113.3,186.5 L114.3,186.7 L115.3,186.8 L116.3,187.0 L117.3,187.1 L118.3,187.3 L119.3,187.4 L120.3,187.6 L121.3,187.7 L122.3,187.9 L123.3,188.0 L124.3,188.2 L125.3,188.3 L126.4,188.5 L127.4,188.6 L128.4,188.8 L129.4,188.9 L130.4,189.1 L131.4,189.2 L132.4,189.4 L133.4,189.5 L134.4,189.7 L135.4,189.8 L136.4,190.0 L137.4,190.1 L138.4,190.3 L139.4,190.4 L140.4,190.6 L141.4,190.7 L142.4,190.9 L143.4,191.0 L144.4,191.2 L145.4,191.3 L146.4,191.4 L147.4,191.6 L148.4,191.7 L149.4,191.9 L150.4,192.0 L151.4,192.2 L152.4,192.3 L153.4,192.5 L154.4,192.6 L155.4,192.8 L156.4,192.9 L157.4,193.1 L158.4,193.2 L159.4,193.4 L160.4,193.5 L161.4,193.7 L162.4,193.8 L163.4,194.0 L164.4,194.1 L165.4,194.3 L166.4,194.4 L167.4,194.6 L168.4,194.7 L169.4,194.9 L170.4,195.0 L171.4,195.2 L172.4,195.3 L173.4,195.5 L174.4,195.6 L175.4,195.8 L176.4,195.9 L177.4,196.1 L178.4,196.2 L179.4,196.4 L180.4,196.5 L181.4,196.7 L182.5,196.8 L183.5,197.0 L184.5,197.1 L185.5,197.2 L186.5,197.4 L187.5,197.5 L188.5,197.7 L189.5,197.8 L190.5,198.0 L191.5,198.1 L192.5,198.3 L193.5,198.4 L194.5,198.6 L195.5,198.7 L196.5,198.9 L197.5,199.0 L198.5,199.2 L199.5,199.3 L200.5,199.5 L201.5,199.6 L202.5,199.8 L203.5,199.9 L204.5,200.1 L205.5,200.2 L206.5,200.4 L207.5,200.5 L208.5,200.6 L209.5,200.8 L210.5,200.9 L211.5,201.1 L212.5,201.2 L213.5,201.4 L214.5,201.5 L215.5,201.7 L216.5,201.8 L217.5,202.0 L218.5,202.1 L219.5,202.3 L220.5,202.4 L221.5,202.6 L222.5,202.7 L223.5,202.8 L224.5,203.0 L225.5,203.1 L226.5,203.3 L227.5,203.4 L228.5,203.6 L229.5,203.7 L230.5,203.9 L231.5,204.0 L232.5,204.2 L233.5,204.3 L234.5,204.5 L235.5,204.6 L236.5,204.7 L237.5,204.9 L238.6,205.0 L239.6,205.2 L240.6,205.3 L241.6,205.5 L242.6,205.6 L243.6,205.7 L244.6,205.9 L245.6,206.0 L246.6,206.2 L247.6,206.3 L248.6,206.5 L249.6,206.6 L250.6,206.7 L251.6,206.9 L252.6,207.0 L253.6,207.2 L254.6,207.3 L255.6,207.5 L256.6,207.6 L257.6,207.7 L258.6,207.9 L259.6,208.0 L260.6,208.2 L261.6,208.3 L262.6,208.4 L263.6,208.6 L264.6,208.7 L265.6,208.9 L266.6,209.0 L267.6,209.1 L268.6,209.3 L269.6,209.4 L270.6,209.5 L271.6,209.7 L272.6,209.8 L273.6,209.9 L274.6,210.1 L275.6,210.2 L276.6,210.3 L277.6,210.5 L278.6,210.6 L279.6,210.7 L280.6,210.9 L281.6,211.0 L282.6,211.1 L283.6,211.2 L284.6,211.4 L285.6,211.5 L286.6,211.6 L287.6,211.8 L288.6,211.9 L289.6,212.0 L290.6,212.1 L291.6,212.2 L292.6,212.4 L293.6,212.5 L294.7,212.6 L295.7,212.7 L296.7,212.8 L297.7,212.9 L298.7,213.0 L299.7,213.1 L300.7,213.3 L301.7,213.4 L302.7,213.5 L303.7,213.6 L304.7,213.7 L305.7,213.7 L306.7,213.8 L307.7,213.9 L308.7,214.0 L309.7,214.1 L310.7,214.2 L311.7,214.3 L312.7,214.3 L313.7,214.4 L314.7,214.5 L315.7,214.5 L316.7,214.6 L317.7,214.6 L318.7,214.7 L319.7,214.7 L320.7,214.7 L321.7,214.8 L322.7,214.8 L323.7,214.8 L324.7,214.8 L325.7,214.8 L326.7,214.8 L327.7,214.7 L328.7,214.7 L329.7,214.6 L330.7,214.6 L331.7,214.5 L332.7,214.4 L333.7,214.3 L334.7,214.1 L335.7,214.0 L336.7,213.8 L337.7,213.6 L338.7,213.4 L339.7,213.1 L340.7,212.8 L341.7,212.5 L342.7,212.1 L343.7,211.8 L344.7,211.3 L345.7,210.8 L346.7,210.3 L347.7,209.8 L348.7,209.1 L349.8,208.5 L350.8,207.8 L351.8,207.0 L352.8,206.2 L353.8,205.4 L354.8,204.5 L355.8,203.6 L356.8,202.7 L357.8,201.9 L358.8,201.0 L359.8,200.3 L360.8,199.6 L361.8,199.0 L362.8,198.6 L363.8,198.3 L364.8,198.2 L365.8,198.3 L366.8,198.6 L367.8,199.1 L368.8,199.8 L369.8,200.6 L370.8,201.6 L371.8,202.6 L372.8,203.7 L373.8,204.9 L374.8,206.1 L375.8,207.3 L376.8,208.4 L377.8,209.6 L378.8,210.7 L379.8,211.8 L380.8,212.8 L381.8,213.8 L382.8,214.8 L383.8,215.7 L384.8,216.5 L385.8,217.3 L386.8,218.0 L387.8,218.8 L388.8,219.4 L389.8,220.1 L390.8,220.7 L391.8,221.3 L392.8,221.8 L393.8,222.3 L394.8,222.8 L395.8,223.3 L396.8,223.7 L397.8,224.2 L398.8,224.6 L399.8,225.0 L400.8,225.3 L401.8,225.7 L402.8,226.1 L403.8,226.4 L404.8,226.7 L405.9,227.1 L406.9,227.4 L407.9,227.7 L408.9,228.0 L409.9,228.2 L410.9,228.5 L411.9,228.8 L412.9,229.0 L413.9,229.3 L414.9,229.6 L415.9,229.8 L416.9,230.0 L417.9,230.3 L418.9,230.5 L419.9,230.7 L420.9,231.0 L421.9,231.2 L422.9,231.4 L423.9,231.6 L424.9,231.8 L425.9,232.1 L426.9,232.3 L427.9,232.5 L428.9,232.7 L429.9,232.9 L430.9,233.1 L431.9,233.3 L432.9,233.5 L433.9,233.7 L434.9,233.9 L435.9,234.0 L436.9,234.2 L437.9,234.4 L438.9,234.6 L439.9,234.8 L440.9,235.0 L441.9,235.2 L442.9,235.3 L443.9,235.5 L444.9,235.7 L445.9,235.9 L446.9,236.1 L447.9,236.2 L448.9,236.4 L449.9,236.6 L450.9,236.8 L451.9,236.9 L452.9,237.1 L453.9,237.3 L454.9,237.5 L455.9,237.6 L456.9,237.8 L457.9,238.0 L458.9,238.1 L459.9,238.3 L460.9,238.5 L462.0,238.6 L463.0,238.8 L464.0,239.0 L465.0,239.2 L466.0,239.3 L467.0,239.5 L468.0,239.7 L469.0,239.8 L470.0,240.0 L471.0,240.1 L472.0,240.3 L473.0,240.5 L474.0,240.6 L475.0,240.8 L476.0,241.0 L477.0,241.1 L478.0,241.3 L479.0,241.5 L480.0,241.6 L481.0,241.8 L482.0,241.9 L483.0,242.1 L484.0,242.3 L485.0,242.4 L486.0,242.6 L487.0,242.8 L488.0,242.9 L489.0,243.1" fill="none" stroke="#808000" stroke-width="3.7" stroke-linejoin="round" stroke-linecap="round"/>
<path d="M99.9,317.0 L100.6,317.3 L101.3,316.6 L102.0,316.1 L102.7,315.8 L103.4,316.7 L104.1,318.7 L104.8,319.8 L105.5,321.0 L106.2,320.8 L106.9,320.5 L107.6,319.7 L108.3,317.8 L109.0,318.3 L109.7,317.9 L110.4,318.6 L111.1,319.0 L111.8,320.4 L112.5,321.6 L113.2,322.0 L113.9,322.4 L114.6,322.1 L115.3,321.9 L116.0,320.8 L116.7,320.8 L117.4,320.5 L118.1,320.2 L118.8,321.8 L119.5,321.7 L120.2,322.1 L120.9,320.9 L121.6,320.8 L122.3,321.3 L123.0,321.6 L123.7,321.7 L124.4,320.8 L125.1,320.0 L125.8,319.8 L126.5,320.7 L127.2,322.5 L127.9,322.6 L128.6,324.0 L129.3,324.9 L130.0,324.4 L130.7,325.3 L131.4,325.6 L132.1,323.3 L132.8,323.5 L133.5,323.1 L134.2,322.7 L134.9,323.6 L135.6,323.6 L136.3,322.8 L137.0,323.5 L137.7,323.3 L138.4,323.9 L139.1,325.0 L139.8,325.5 L140.5,326.0 L141.2,325.3 L141.9,325.8 L142.6,324.5 L143.3,323.9 L144.0,323.2 L144.7,323.5 L145.4,324.3 L146.1,325.6 L146.8,323.6 L147.5,323.0 L148.2,323.0 L149.0,323.2 L149.7,322.6 L150.4,321.3 L151.1,321.1 L151.8,322.9 L152.5,322.9 L153.2,323.3 L153.9,324.6 L154.6,324.4 L155.3,323.4 L156.0,323.1 L156.7,323.0 L157.4,323.3 L158.1,322.3 L158.8,321.6 L159.5,321.2 L160.2,319.9 L160.9,321.4 L161.6,321.3 L162.3,321.1 L163.0,319.7 L163.7,320.1 L164.4,320.8 L165.1,319.6 L165.8,320.6 L166.5,321.3 L167.2,320.2 L167.9,321.4 L168.6,320.3 L169.3,319.1 L170.0,318.4 L170.7,317.8 L171.4,316.8 L172.1,316.6 L172.8,315.0 L173.5,314.5 L174.2,314.8 L174.9,314.2 L175.6,314.0 L176.3,315.3 L177.0,316.0 L177.7,314.9 L178.4,314.0 L179.1,314.0 L179.8,313.7 L180.5,313.5 L181.2,314.4 L181.9,313.1 L182.6,314.0 L183.3,312.5 L184.0,312.8 L184.7,314.1 L185.4,315.4 L186.1,316.4 L186.8,316.8 L187.5,316.8 L188.2,316.7 L188.9,316.8 L189.6,316.4 L190.3,316.5 L191.0,316.4 L191.7,316.0 L192.4,316.2 L193.1,315.9 L193.8,316.5 L194.5,315.5 L195.2,314.7 L195.9,314.1 L196.6,313.7 L197.3,314.0 L198.0,313.6 L198.7,314.6 L199.4,315.9 L200.1,314.0 L200.8,314.9 L201.5,315.8 L202.2,316.0 L202.9,315.9 L203.6,315.4 L204.3,316.1 L205.0,316.2 L205.7,316.3 L206.4,318.0 L207.1,316.6 L207.8,315.4 L208.5,315.0 L209.2,315.0 L209.9,315.9 L210.6,315.5 L211.3,317.2 L212.0,318.0 L212.7,316.6 L213.4,316.8 L214.1,317.0 L214.8,316.9 L215.5,317.6 L216.2,316.6 L216.9,317.7 L217.6,317.8 L218.3,318.1 L219.0,317.8 L219.7,315.4 L220.4,317.1 L221.1,316.1 L221.8,318.0 L222.5,317.9 L223.2,319.3 L223.9,319.7 L224.6,318.5 L225.3,318.2 L226.0,318.3 L226.7,318.2 L227.4,318.4 L228.1,319.4 L228.8,319.1 L229.5,318.2 L230.2,319.6 L230.9,317.9 L231.6,319.4 L232.3,319.4 L233.0,319.8 L233.7,319.9 L234.4,318.9 L235.1,318.3 L235.8,316.6 L236.5,316.5 L237.2,317.5 L237.9,316.7 L238.6,316.6 L239.3,316.3 L240.0,317.5 L240.7,317.2 L241.4,317.6 L242.1,316.5 L242.8,317.0 L243.5,316.1 L244.2,316.2 L244.9,315.5 L245.6,313.1 L246.4,313.4 L247.1,312.4 L247.8,311.5 L248.5,310.5 L249.2,312.1 L249.9,310.9 L250.6,309.9 L251.3,309.5 L252.0,308.4 L252.7,307.8 L253.4,305.7 L254.1,306.3 L254.8,306.2 L255.5,306.1 L256.2,305.1 L256.9,304.4 L257.6,304.4 L258.3,303.0 L259.0,302.4 L259.7,302.9 L260.4,302.1 L261.1,300.8 L261.8,301.0 L262.5,299.6 L263.2,300.6 L263.9,300.1 L264.6,299.3 L265.3,299.2 L266.0,299.4 L266.7,299.2 L267.4,300.2 L268.1,300.0 L268.8,300.9 L269.5,301.1 L270.2,301.1 L270.9,299.8 L271.6,300.3 L272.3,298.4 L273.0,298.4 L273.7,297.7 L274.4,299.3 L275.1,298.2 L275.8,299.1 L276.5,299.9 L277.2,301.5 L277.9,302.7 L278.6,304.1 L279.3,305.3 L280.0,304.9 L280.7,306.0 L281.4,307.5 L282.1,308.2 L282.8,308.7 L283.5,309.7 L284.2,311.3 L284.9,311.1 L285.6,313.1 L286.3,315.2 L287.0,315.9 L287.7,315.7 L288.4,316.1 L289.1,315.7 L289.8,315.2 L290.5,315.7 L291.2,317.4 L291.9,319.4 L292.6,319.6 L293.3,320.0 L294.0,320.1 L294.7,319.5 L295.4,320.3 L296.1,320.5 L296.8,322.6 L297.5,322.6 L298.2,325.0 L298.9,325.4 L299.6,325.6 L300.3,327.6 L301.0,327.4 L301.7,326.5 L302.4,327.3 L303.1,328.0 L303.8,327.4 L304.5,327.8 L305.2,327.8 L305.9,328.0 L306.6,328.2 L307.3,329.1 L308.0,329.3 L308.7,329.4 L309.4,327.8 L310.1,328.7 L310.8,328.2 L311.5,326.6 L312.2,326.0 L312.9,326.9 L313.6,324.8 L314.3,325.8 L315.0,326.9 L315.7,325.4 L316.4,326.3 L317.1,326.5 L317.8,324.5 L318.5,323.8 L319.2,323.4 L319.9,322.7 L320.6,323.9 L321.3,325.2 L322.0,326.5 L322.7,326.8 L323.4,327.2 L324.1,326.6 L324.8,326.0 L325.5,325.1 L326.2,323.3 L326.9,322.0 L327.6,321.9 L328.3,323.9 L329.0,323.8 L329.7,324.5 L330.4,323.9 L331.1,326.4 L331.8,326.9 L332.5,327.6 L333.2,326.8 L333.9,326.5 L334.6,326.9 L335.3,325.9 L336.0,327.4 L336.7,326.7 L337.4,326.0 L338.1,327.3 L338.8,328.3 L339.5,327.4 L340.2,328.0 L340.9,328.0 L341.6,327.3 L342.3,326.8 L343.0,326.9 L343.8,328.8 L344.5,328.3 L345.2,326.6 L345.9,325.3 L346.6,325.1 L347.3,323.1 L348.0,322.6 L348.7,322.2 L349.4,322.3 L350.1,323.8 L350.8,323.0 L351.5,323.6 L352.2,323.4 L352.9,322.7 L353.6,321.0 L354.3,320.4 L355.0,320.3 L355.7,320.3 L356.4,320.7 L357.1,320.6 L357.8,320.0 L358.5,319.8 L359.2,318.2 L359.9,316.4 L360.6,315.4 L361.3,315.0 L362.0,314.5 L362.7,314.4 L363.4,314.4 L364.1,314.6 L364.8,314.7 L365.5,314.2 L366.2,314.9 L366.9,314.7 L367.6,313.5 L368.3,312.6 L369.0,312.8 L369.7,312.2 L370.4,311.4 L371.1,311.7 L371.8,310.1 L372.5,310.0 L373.2,308.7 L373.9,307.8 L374.6,308.4 L375.3,309.3 L376.0,307.5 L376.7,306.1 L377.4,305.5 L378.1,305.3 L378.8,304.4 L379.5,303.3 L380.2,303.0 L380.9,301.6 L381.6,299.8 L382.3,298.4 L383.0,296.9 L383.7,294.5 L384.4,292.6 L385.1,289.5 L385.8,288.0 L386.5,286.8 L387.2,285.2 L387.9,284.9 L388.6,283.6 L389.3,282.5 L390.0,280.8 L390.7,281.2 L391.4,279.8 L392.1,278.2" fill="none" stroke="#000" stroke-width="2.4" stroke-linejoin="round" stroke-linecap="round"/>
<path d="M392.1,278.2 L393.1,279.4 L394.0,278.8 L394.9,278.8 L395.4,279.2 L396.3,279.8 L397.1,280.0 L397.8,280.7 L398.9,280.8 L400.0,281.3 L400.0,281.9 L400.3,282.6 L400.4,283.6 L400.6,285.5 L400.9,286.6 L401.0,287.4 L401.3,289.2 L401.3,289.9 L401.2,290.6 L401.3,292.3 L401.1,292.7 L401.4,292.9 L401.2,293.7 L401.4,294.1 L402.1,295.0 L402.8,295.5 L403.6,296.1 L403.3,296.4 L403.4,297.0 L403.6,298.1 L403.8,298.5 L403.7,299.7 L403.9,300.3 L404.0,300.9 L404.2,302.0 L404.3,302.5 L404.4,302.7 L404.4,304.5 L404.5,305.5 L404.8,306.1 L404.9,307.4 L405.1,308.7 L405.2,309.1 L405.3,310.0 L405.6,310.8 L405.6,311.0 L405.8,311.8 L405.8,312.7 L406.0,313.5 L406.2,314.2 L406.5,315.1 L406.5,316.1 L406.6,316.4 L406.5,318.3 L406.8,320.0 L406.9,320.9 L407.0,322.0 L407.1,322.8 L407.2,323.6 L407.4,324.6 L407.4,326.4 L407.5,326.5 L407.7,327.2 L407.6,328.0 L407.8,328.8 L407.7,329.8 L408.1,330.0 L408.0,330.6 L408.3,331.3 L408.2,332.1 L408.2,333.3 L408.5,334.0 L408.3,335.1 L408.5,336.0 L408.8,337.3 L408.7,338.8 L408.9,339.4 L408.9,340.2 L408.9,341.7 L409.4,341.7 L409.2,342.4 L409.6,343.5 L409.6,344.2 L409.7,344.5 L409.8,345.0 L409.9,346.0 L410.1,346.5 L410.0,347.2 L410.1,348.4 L410.4,348.7 L410.3,349.2 L410.4,349.9 L410.8,350.6 L411.1,351.5 L411.2,351.4 L411.8,351.6 L411.7,353.1 L412.0,354.4 L412.2,355.6 L412.5,357.1 L412.4,357.9 L412.9,358.9 L413.0,360.4 L413.3,361.2 L413.6,361.7 L413.8,362.2 L413.8,362.8 L414.7,363.0 L415.2,363.9 L415.7,364.4 L416.7,364.6 L417.1,365.4 L417.9,366.2 L418.4,366.5" fill="none" stroke="#000" stroke-width="1.8" stroke-linejoin="round" stroke-linecap="round"/>
<path d="M418.4,366.5 L418.9,367.4 L419.3,368.5 L420.3,368.1 L420.9,369.2 L421.4,370.0 L421.8,370.5 L422.9,370.8 L423.3,371.0 L424.0,371.9 L425.1,372.4 L425.7,373.3 L426.3,372.7 L427.2,373.2 L427.7,372.8 L428.6,373.4 L429.1,373.6 L429.9,374.1 L430.8,374.2 L431.5,374.8 L432.5,374.6 L433.3,374.7 L434.0,375.3 L434.9,375.2 L435.5,375.6 L436.1,375.8 L437.0,376.2 L437.8,375.9 L438.7,376.8 L439.4,377.3 L440.2,377.1 L441.1,377.1 L441.8,377.8 L442.7,377.9 L443.5,377.9 L444.2,378.6 L444.9,378.7 L445.7,377.8 L446.6,378.0 L447.2,376.9 L448.2,377.8 L449.0,378.4 L449.8,377.8 L450.6,378.0 L451.5,377.6 L452.1,376.9 L453.0,377.8 L453.8,378.6 L454.5,377.9 L455.2,377.8 L456.0,378.4 L456.8,378.4 L457.6,378.8 L458.5,378.7 L459.3,378.8 L459.9,379.4 L460.8,378.8 L461.7,379.4 L462.2,380.0 L463.2,380.0 L464.0,379.8 L464.6,380.3 L465.5,380.0 L466.4,380.1 L467.2,380.1 L467.9,379.7 L468.6,380.8 L469.6,380.7 L470.2,381.6 L471.0,381.5 L472.0,381.4 L472.8,381.2 L473.4,381.4 L474.2,381.8 L475.3,381.3 L475.7,381.8 L476.5,381.9 L477.5,382.0 L478.3,381.9 L479.1,382.2 L479.7,382.9 L480.6,383.7 L481.4,383.7 L482.3,384.6 L483.0,384.5 L483.9,384.8 L484.4,385.7 L485.7,384.6 L486.2,385.5 L487.1,385.8 L487.8,385.5 L488.6,386.3 L489.3,385.8 L490.2,385.6 L491.0,385.9" fill="none" stroke="#000" stroke-width="2.6" stroke-linejoin="round" stroke-linecap="round"/>
<path d="M99.9,318.9 L100.9,319.1 L101.9,319.2 L102.9,319.4 L103.9,319.5 L104.9,319.7 L105.9,319.9 L106.9,320.0 L107.9,320.2 L108.9,320.4 L109.9,320.6 L110.9,320.8 L111.9,321.0 L112.9,321.2 L113.9,321.4 L114.9,321.6 L115.9,321.8 L116.9,322.0 L117.9,322.1 L118.9,322.3 L119.9,322.5 L120.9,322.7 L121.9,322.8 L122.9,323.0 L123.9,323.2 L124.9,323.3 L125.9,323.4 L126.9,323.6 L127.9,323.7 L128.9,323.8 L129.9,323.9 L130.9,324.0 L131.9,324.1 L132.9,324.2 L133.9,324.2 L134.9,324.3 L135.9,324.3 L136.9,324.4 L137.9,324.4 L138.9,324.4 L139.9,324.4 L140.9,324.4 L141.9,324.4 L142.9,324.4 L143.9,324.3 L144.9,324.3 L145.9,324.2 L146.9,324.2 L147.9,324.1 L148.9,324.0 L149.9,323.9 L150.9,323.7 L151.9,323.6 L152.9,323.5 L153.9,323.3 L154.9,323.1 L155.9,322.9 L156.9,322.7 L157.9,322.5 L158.9,322.3 L159.9,322.1 L160.9,321.9 L161.9,321.6 L162.9,321.4 L163.9,321.1 L164.9,320.8 L165.9,320.6 L166.9,320.3 L167.9,320.0 L168.9,319.7 L169.9,319.5 L170.9,319.2 L171.9,318.9 L172.9,318.7 L173.9,318.4 L174.9,318.1 L175.9,317.9 L176.9,317.7 L177.9,317.4 L178.9,317.2 L179.9,317.0 L180.9,316.8 L181.9,316.7 L182.9,316.5 L183.9,316.4 L184.9,316.2 L185.9,316.1 L186.9,316.0 L187.9,315.9 L188.9,315.9 L189.9,315.8 L190.9,315.8 L191.9,315.8 L192.9,315.8 L193.9,315.8 L194.9,315.8 L195.9,315.8 L196.9,315.9 L197.9,316.0 L198.9,316.0 L199.9,316.1 L200.9,316.2 L201.9,316.3 L202.9,316.4 L203.9,316.6 L204.9,316.7 L205.9,316.8 L206.9,317.0 L207.9,317.2 L208.9,317.3 L209.9,317.5 L210.9,317.7 L211.9,317.8 L212.9,318.0 L213.9,318.2 L214.9,318.4 L215.9,318.6 L216.9,318.7 L217.9,318.9 L218.9,319.0 L219.9,319.2 L220.9,319.3 L221.9,319.5 L222.9,319.6 L223.9,319.6 L224.9,319.7 L225.9,319.8 L226.9,319.8 L227.9,319.8 L228.9,319.8 L229.9,319.7 L230.9,319.6 L231.9,319.5 L232.9,319.4 L233.9,319.2 L234.9,319.0 L235.9,318.8 L236.9,318.5 L237.9,318.2 L238.9,317.8 L239.9,317.5 L240.9,317.0 L241.9,316.6 L242.9,316.1 L243.9,315.5 L244.9,314.9 L245.9,314.3 L246.9,313.6 L247.9,312.9 L248.9,312.2 L249.9,311.4 L250.9,310.6 L251.9,309.7 L252.9,308.8 L253.9,307.9 L254.9,307.0 L255.9,306.1 L256.9,305.1 L257.9,304.2 L258.9,303.4 L259.9,302.6 L260.9,301.8 L261.9,301.1 L262.9,300.6 L263.9,300.1 L264.9,299.8 L265.9,299.6 L266.9,299.6 L267.9,299.7 L268.9,299.9 L269.9,300.1 L270.9,300.5 L271.9,300.9 L272.9,301.4 L273.9,301.9 L274.9,302.5 L275.9,303.2 L276.9,304.0 L277.9,304.8 L278.9,305.7 L279.9,306.6 L280.9,307.5 L281.9,308.5 L282.9,309.6 L283.9,310.7 L284.9,311.8 L285.9,312.9 L286.9,314.0 L287.9,315.2 L288.9,316.3 L289.9,317.4 L290.9,318.6 L291.9,319.7 L292.9,320.7 L293.9,321.8 L294.9,322.8 L296.0,323.7 L297.0,324.6 L298.0,325.5 L299.0,326.3 L300.0,327.0 L301.0,327.6 L302.0,328.2 L303.0,328.6 L304.0,329.0 L305.0,329.3 L306.0,329.5 L307.0,329.6 L308.0,329.7 L309.0,329.6 L310.0,329.5 L311.0,329.3 L312.0,329.0 L313.0,328.7 L314.0,328.3 L315.0,327.9 L316.0,327.5 L317.0,327.0 L318.0,326.6 L319.0,326.2 L320.0,325.8 L321.0,325.5 L322.0,325.3 L323.0,325.1 L324.0,325.0 L325.0,325.0 L326.0,325.1 L327.0,325.3 L328.0,325.5 L329.0,325.9 L330.0,326.3 L331.0,326.7 L332.0,327.2 L333.0,327.7 L334.0,328.2 L335.0,328.6 L336.0,328.9 L337.0,329.2 L338.0,329.3 L339.0,329.3 L340.0,329.2 L341.0,329.0 L342.0,328.7 L343.0,328.4 L344.0,328.0 L345.0,327.6 L346.0,327.2 L347.0,326.9 L348.0,326.5 L349.0,326.1 L350.0,325.7 L351.0,325.3 L352.0,324.8 L353.0,324.2 L354.0,323.6 L355.0,322.9 L356.0,322.2 L357.0,321.4 L358.0,320.6 L359.0,319.9 L360.0,319.2 L361.0,318.5 L362.0,318.0 L363.0,317.5 L364.0,317.2 L365.0,316.9 L366.0,316.6 L367.0,316.4 L368.0,316.3 L369.0,316.1 L370.0,316.0 L371.0,315.8 L372.0,315.5 L373.0,315.1 L374.0,314.5 L375.0,313.7 L376.0,312.7 L377.0,311.4 L378.0,309.8 L379.0,307.9 L380.0,305.8 L381.0,303.4 L382.0,300.8 L383.0,298.1 L384.0,295.2 L385.0,292.4 L386.0,289.6 L387.0,286.9 L388.0,284.5 L389.0,282.4 L390.0,280.8 L391.0,279.6 L392.0,279.0 L393.0,279.1 L394.0,280.0 L395.0,282.0 L396.0,284.9 L397.0,288.5 L398.0,292.5 L399.0,296.8 L400.0,301.2 L401.0,305.6 L402.0,309.8 L403.0,313.8 L404.0,317.6 L405.0,321.2 L406.0,324.6 L407.0,327.8 L408.0,330.8 L409.0,333.6 L410.0,336.4 L411.0,339.0 L412.0,341.5 L413.0,343.8 L414.0,346.1 L415.0,348.2 L416.0,350.2 L417.0,352.0 L418.0,353.6 L419.0,355.1 L420.0,356.4 L421.0,357.5 L422.0,358.5 L423.0,359.3 L424.0,360.0 L425.0,360.7 L426.0,361.2 L427.0,361.7 L428.0,362.2 L429.0,362.7 L430.0,363.1 L431.0,363.5 L432.0,363.9 L433.0,364.3 L434.0,364.7 L435.0,365.0 L436.0,365.4 L437.0,365.7 L438.0,366.1 L439.0,366.4 L440.0,366.7 L441.0,367.0 L442.0,367.3 L443.0,367.6 L444.0,367.8 L445.0,368.1 L446.0,368.4 L447.0,368.6 L448.0,368.9 L449.0,369.1 L450.0,369.3 L451.0,369.6 L452.0,369.8 L453.0,370.1 L454.0,370.3 L455.0,370.5 L456.0,370.8 L457.0,371.0 L458.0,371.2 L459.0,371.5 L460.0,371.7 L461.0,372.0 L462.0,372.2 L463.0,372.5 L464.0,372.7 L465.0,373.0 L466.0,373.3 L467.0,373.5 L468.0,373.8 L469.0,374.0 L470.0,374.3 L471.0,374.5 L472.0,374.8 L473.0,375.1 L474.0,375.3 L475.0,375.6 L476.0,375.8 L477.0,376.0 L478.0,376.3 L479.0,376.5 L480.0,376.8 L481.0,377.0 L482.0,377.2 L483.0,377.5 L484.0,377.7 L485.0,377.9 L486.0,378.1 L487.0,378.4 L488.0,378.6 L489.0,378.8 L490.0,379.0 L491.0,379.3" fill="none" stroke="#ff0000" stroke-width="3.5" stroke-linejoin="round" stroke-linecap="round"/>
<path d="M285.9,351.7 L286.9,351.8 L287.9,352.0 L288.9,352.1 L289.9,352.3 L290.9,352.4 L291.9,352.6 L292.9,352.7 L293.9,352.9 L294.9,353.0 L296.0,353.2 L297.0,353.4 L298.0,353.5 L299.0,353.7 L300.0,353.8 L301.0,354.0 L302.0,354.1 L303.0,354.3 L304.0,354.4 L305.0,354.6 L306.0,354.7 L307.0,354.9 L308.0,355.0 L309.0,355.2 L310.0,355.3 L311.0,355.5 L312.0,355.7 L313.0,355.8 L314.0,356.0 L315.0,356.1 L316.0,356.3 L317.0,356.4 L318.0,356.6 L319.0,356.7 L320.0,356.9 L321.0,357.0 L322.0,357.2 L323.0,357.4 L324.0,357.5 L325.0,357.7 L326.0,357.8 L327.0,358.0 L328.0,358.1 L329.0,358.3 L330.0,358.4 L331.0,358.6 L332.0,358.7 L333.0,358.9 L334.0,359.0 L335.0,359.2 L336.0,359.4 L337.0,359.5 L338.0,359.7" fill="none" stroke="#2020ff" stroke-width="1" stroke-linejoin="round" stroke-linecap="round"/>
<path d="M99.9,321.7 L100.9,321.9 L101.9,322.0 L102.9,322.2 L103.9,322.3 L104.9,322.5 L105.9,322.6 L106.9,322.8 L107.9,322.9 L108.9,323.1 L109.9,323.2 L110.9,323.4 L111.9,323.5 L112.9,323.7 L113.9,323.8 L114.9,324.0 L115.9,324.1 L116.9,324.3 L117.9,324.4 L118.9,324.6 L119.9,324.7 L120.9,324.9 L121.9,325.0 L122.9,325.2 L123.9,325.3 L124.9,325.4 L125.9,325.6 L126.9,325.7 L127.9,325.9 L128.9,326.0 L129.9,326.2 L130.9,326.3 L131.9,326.5 L132.9,326.6 L133.9,326.8 L134.9,326.9 L135.9,327.1 L136.9,327.2 L137.9,327.4 L138.9,327.5 L139.9,327.7 L140.9,327.8 L141.9,328.0 L142.9,328.1 L143.9,328.3 L144.9,328.4 L145.9,328.6 L146.9,328.7 L147.9,328.9 L148.9,329.0 L149.9,329.2 L150.9,329.3 L151.9,329.5 L152.9,329.6 L153.9,329.8 L154.9,329.9 L155.9,330.1 L156.9,330.2 L157.9,330.4 L158.9,330.5 L159.9,330.7 L160.9,330.8 L161.9,331.0 L162.9,331.1 L163.9,331.3 L164.9,331.4 L165.9,331.6 L166.9,331.7 L167.9,331.9 L168.9,332.0 L169.9,332.2 L170.9,332.3 L171.9,332.5 L172.9,332.6 L173.9,332.8 L174.9,332.9 L175.9,333.1 L176.9,333.2 L177.9,333.4 L178.9,333.5 L179.9,333.7 L180.9,333.8 L181.9,334.0 L182.9,334.1 L183.9,334.3 L184.9,334.4 L185.9,334.6 L186.9,334.7 L187.9,334.9 L188.9,335.0 L189.9,335.2 L190.9,335.3 L191.9,335.5 L192.9,335.6 L193.9,335.8 L194.9,335.9 L195.9,336.1 L196.9,336.2 L197.9,336.4 L198.9,336.5 L199.9,336.7 L200.9,336.8 L201.9,337.0 L202.9,337.1 L203.9,337.3 L204.9,337.4 L205.9,337.6 L206.9,337.8 L207.9,337.9 L208.9,338.1 L209.9,338.2 L210.9,338.4 L211.9,338.5 L212.9,338.7 L213.9,338.8 L214.9,339.0 L215.9,339.1 L216.9,339.3 L217.9,339.4 L218.9,339.6 L219.9,339.7 L220.9,339.9 L221.9,340.0 L222.9,340.2 L223.9,340.3 L224.9,340.5 L225.9,340.6 L226.9,340.8 L227.9,340.9 L228.9,341.1 L229.9,341.2 L230.9,341.4 L231.9,341.5 L232.9,341.7 L233.9,341.8 L234.9,342.0 L235.9,342.1 L236.9,342.3 L237.9,342.4 L238.9,342.6 L239.9,342.8 L240.9,342.9 L241.9,343.1 L242.9,343.2 L243.9,343.4 L244.9,343.5 L245.9,343.7 L246.9,343.8 L247.9,344.0 L248.9,344.1 L249.9,344.3 L250.9,344.4 L251.9,344.6 L252.9,344.7 L253.9,344.9 L254.9,345.0 L255.9,345.2 L256.9,345.3 L257.9,345.5 L258.9,345.6 L259.9,345.8 L260.9,345.9 L261.9,346.1 L262.9,346.3 L263.9,346.4 L264.9,346.6 L265.9,346.7 L266.9,346.9 L267.9,347.0 L268.9,347.2 L269.9,347.3 L270.9,347.5 L271.9,347.6 L272.9,347.8 L273.9,347.9 L274.9,348.1 L275.9,348.2 L276.9,348.4 L277.9,348.5 L278.9,348.7 L279.9,348.8 L280.9,349.0 L281.9,349.2 L282.9,349.3 L283.9,349.5 L284.9,349.6 L285.9,349.8 L286.9,349.9 L287.9,350.1 L288.9,350.2 L289.9,350.4 L290.9,350.5 L291.9,350.7 L292.9,350.8 L293.9,351.0 L294.9,351.1 L296.0,351.3 L297.0,351.5 L298.0,351.6 L299.0,351.8 L300.0,351.9 L301.0,352.1 L302.0,352.2 L303.0,352.4 L304.0,352.5 L305.0,352.7 L306.0,352.8 L307.0,353.0 L308.0,353.1 L309.0,353.3 L310.0,353.4 L311.0,353.6 L312.0,353.8 L313.0,353.9 L314.0,354.1 L315.0,354.2 L316.0,354.4 L317.0,354.5 L318.0,354.7 L319.0,354.8 L320.0,355.0 L321.0,355.1 L322.0,355.3 L323.0,355.5 L324.0,355.6 L325.0,355.8 L326.0,355.9 L327.0,356.1 L328.0,356.2 L329.0,356.4 L330.0,356.5 L331.0,356.7 L332.0,356.8 L333.0,357.0 L334.0,357.1 L335.0,357.3 L336.0,357.5 L337.0,357.6 L338.0,357.8 L339.0,357.9 L340.0,358.1 L341.0,358.2 L342.0,358.4 L343.0,358.5 L344.0,358.7 L345.0,358.8 L346.0,359.0 L347.0,359.2 L348.0,359.3 L349.0,359.5 L350.0,359.6 L351.0,359.8 L352.0,359.9 L353.0,360.1 L354.0,360.2 L355.0,360.4 L356.0,360.5 L357.0,360.7 L358.0,360.9 L359.0,361.0 L360.0,361.2 L361.0,361.3 L362.0,361.5 L363.0,361.6 L364.0,361.8 L365.0,361.9 L366.0,362.1 L367.0,362.3 L368.0,362.4 L369.0,362.6 L370.0,362.7 L371.0,362.9 L372.0,363.0 L373.0,363.2 L374.0,363.3 L375.0,363.5 L376.0,363.7 L377.0,363.8 L378.0,364.0 L379.0,364.1 L380.0,364.3 L381.0,364.4 L382.0,364.6 L383.0,364.7 L384.0,364.9 L385.0,365.1 L386.0,365.2 L387.0,365.4 L388.0,365.5 L389.0,365.7 L390.0,365.8 L391.0,366.0 L392.0,366.1 L393.0,366.3 L394.0,366.5 L395.0,366.6 L396.0,366.8 L397.0,366.9 L398.0,367.1 L399.0,367.2 L400.0,367.4 L401.0,367.5 L402.0,367.7 L403.0,367.9 L404.0,368.0 L405.0,368.2 L406.0,368.3 L407.0,368.5 L408.0,368.6 L409.0,368.8 L410.0,369.0 L411.0,369.1 L412.0,369.3 L413.0,369.4 L414.0,369.6 L415.0,369.7 L416.0,369.9 L417.0,370.0 L418.0,370.2 L419.0,370.4 L420.0,370.5 L421.0,370.7 L422.0,370.8 L423.0,371.0 L424.0,371.1 L425.0,371.3 L426.0,371.5 L427.0,371.6 L428.0,371.8 L429.0,371.9 L430.0,372.1 L431.0,372.2 L432.0,372.4 L433.0,372.6 L434.0,372.7 L435.0,372.9 L436.0,373.0 L437.0,373.2 L438.0,373.3 L439.0,373.5 L440.0,373.7 L441.0,373.8 L442.0,374.0 L443.0,374.1 L444.0,374.3 L445.0,374.4 L446.0,374.6 L447.0,374.8 L448.0,374.9 L449.0,375.1 L450.0,375.2 L451.0,375.4 L452.0,375.5 L453.0,375.7 L454.0,375.9 L455.0,376.0 L456.0,376.2 L457.0,376.3 L458.0,376.5 L459.0,376.6 L460.0,376.8 L461.0,377.0 L462.0,377.1 L463.0,377.3 L464.0,377.4 L465.0,377.6 L466.0,377.7 L467.0,377.9 L468.0,378.1 L469.0,378.2 L470.0,378.4 L471.0,378.5 L472.0,378.7 L473.0,378.8 L474.0,379.0 L475.0,379.2 L476.0,379.3 L477.0,379.5 L478.0,379.6 L479.0,379.8 L480.0,380.0 L481.0,380.1 L482.0,380.3 L483.0,380.4 L484.0,380.6 L485.0,380.7 L486.0,380.9 L487.0,381.1 L488.0,381.2 L489.0,381.4 L490.0,381.5 L491.0,381.7" fill="none" stroke="#808000" stroke-width="3.7" stroke-linejoin="round" stroke-linecap="round"/>
<path d="M99.9,321.7 L100.9,321.8 L101.9,322.0 L102.9,322.1 L103.9,322.3 L104.9,322.4 L105.9,322.6 L106.9,322.7 L107.9,322.8 L108.9,323.0 L109.9,323.1 L110.9,323.3 L111.9,323.4 L112.9,323.6 L113.9,323.7 L114.9,323.9 L115.9,324.0 L116.9,324.2 L117.9,324.3 L118.9,324.5 L119.9,324.6 L120.9,324.8 L121.9,324.9 L122.9,325.1 L123.9,325.2 L124.9,325.4 L125.9,325.5 L126.9,325.7 L127.9,325.8 L128.9,326.0 L129.9,326.1 L130.9,326.3 L131.9,326.4 L132.9,326.6 L133.9,326.7 L134.9,326.9 L135.9,327.0 L136.9,327.1 L137.9,327.3 L138.9,327.4 L139.9,327.6 L140.9,327.7 L141.9,327.9 L142.9,328.0 L143.9,328.2 L144.9,328.3 L145.9,328.5 L146.9,328.6 L147.9,328.8 L148.9,328.9 L149.9,329.1 L150.9,329.2 L151.9,329.4 L152.9,329.5 L153.9,329.7 L154.9,329.8 L155.9,330.0 L156.9,330.1 L157.9,330.3 L158.9,330.4 L159.9,330.6 L160.9,330.7 L161.9,330.9 L162.9,331.0 L163.9,331.2 L164.9,331.3 L165.9,331.5 L166.9,331.6 L167.9,331.8 L168.9,331.9 L169.9,332.1 L170.9,332.2 L171.9,332.4 L172.9,332.5 L173.9,332.7 L174.9,332.8 L175.9,333.0 L176.9,333.1 L177.9,333.3 L178.9,333.4 L179.9,333.6 L180.9,333.7 L181.9,333.8 L182.9,334.0 L183.9,334.1 L184.9,334.3 L185.9,334.4 L186.9,334.6 L187.9,334.7 L188.9,334.9 L189.9,335.0 L190.9,335.2 L191.9,335.3 L192.9,335.5 L193.9,335.6 L194.9,335.8 L195.9,335.9 L196.9,336.1 L197.9,336.2 L198.9,336.4 L199.9,336.5 L200.9,336.7 L201.9,336.8 L202.9,337.0 L203.9,337.1 L204.9,337.3 L205.9,337.4 L206.9,337.6 L207.9,337.7 L208.9,337.9 L209.9,338.0 L210.9,338.2 L211.9,338.3 L212.9,338.5 L213.9,338.6 L214.9,338.8 L215.9,338.9 L216.9,339.1 L217.9,339.2 L218.9,339.4 L219.9,339.5 L220.9,339.7 L221.9,339.8 L222.9,340.0 L223.9,340.1 L224.9,340.3 L225.9,340.4 L226.9,340.6 L227.9,340.7 L228.9,340.9 L229.9,341.0 L230.9,341.2 L231.9,341.3 L232.9,341.5 L233.9,341.6 L234.9,341.8 L235.9,341.9 L236.9,342.1 L237.9,342.2 L238.9,342.4 L239.9,342.5 L240.9,342.6 L241.9,342.8 L242.9,342.9 L243.9,343.1 L244.9,343.2 L245.9,343.4 L246.9,343.5 L247.9,343.7 L248.9,343.8 L249.9,344.0 L250.9,344.1 L251.9,344.3 L252.9,344.4 L253.9,344.6 L254.9,344.7 L255.9,344.9 L256.9,345.0 L257.9,345.2 L258.9,345.3 L259.9,345.5 L260.9,345.6 L261.9,345.8 L262.9,345.9 L263.9,346.1 L264.9,346.2 L265.9,346.3 L266.9,346.5 L267.9,346.6 L268.9,346.8 L269.9,346.9 L270.9,347.1 L271.9,347.2 L272.9,347.4 L273.9,347.5 L274.9,347.7 L275.9,347.8 L276.9,348.0 L277.9,348.1 L278.9,348.2 L279.9,348.4 L280.9,348.5 L281.9,348.7 L282.9,348.8 L283.9,349.0 L284.9,349.1 L285.9,349.3 L286.9,349.4 L287.9,349.5 L288.9,349.7 L289.9,349.8 L290.9,350.0 L291.9,350.1 L292.9,350.3 L293.9,350.4 L294.9,350.5 L296.0,350.7 L297.0,350.8 L298.0,351.0 L299.0,351.1 L300.0,351.2 L301.0,351.4 L302.0,351.5 L303.0,351.7 L304.0,351.8 L305.0,351.9 L306.0,352.1 L307.0,352.2 L308.0,352.3 L309.0,352.5 L310.0,352.6 L311.0,352.7 L312.0,352.9 L313.0,353.0 L314.0,353.1 L315.0,353.3 L316.0,353.4 L317.0,353.5 L318.0,353.7 L319.0,353.8 L320.0,353.9 L321.0,354.0 L322.0,354.2 L323.0,354.3 L324.0,354.4 L325.0,354.5 L326.0,354.6 L327.0,354.8 L328.0,354.9 L329.0,355.0 L330.0,355.1 L331.0,355.2 L332.0,355.3 L333.0,355.4 L334.0,355.5 L335.0,355.6 L336.0,355.7 L337.0,355.8 L338.0,355.9 L339.0,356.0 L340.0,356.1 L341.0,356.2 L342.0,356.2 L343.0,356.3 L344.0,356.4 L345.0,356.4 L346.0,356.5 L347.0,356.5 L348.0,356.6 L349.0,356.6 L350.0,356.6 L351.0,356.6 L352.0,356.6 L353.0,356.6 L354.0,356.5 L355.0,356.5 L356.0,356.4 L357.0,356.2 L358.0,356.1 L359.0,355.8 L360.0,355.6 L361.0,355.2 L362.0,354.8 L363.0,354.3 L364.0,353.7 L365.0,353.0 L366.0,352.1 L367.0,351.2 L368.0,350.0 L369.0,348.8 L370.0,347.3 L371.0,345.7 L372.0,343.8 L373.0,341.8 L374.0,339.5 L375.0,337.0 L376.0,334.3 L377.0,331.5 L378.0,328.4 L379.0,325.1 L380.0,321.8 L381.0,318.3 L382.0,314.7 L383.0,311.1 L384.0,307.5 L385.0,304.0 L386.0,300.7 L387.0,297.6 L388.0,294.8 L389.0,292.4 L390.0,290.6 L391.0,289.3 L392.0,288.6 L393.0,288.6 L394.0,289.6 L395.0,291.6 L396.0,294.6 L397.0,298.2 L398.0,302.3 L399.0,306.7 L400.0,311.2 L401.0,315.6 L402.0,319.8 L403.0,323.8 L404.0,327.6 L405.0,331.1 L406.0,334.2 L407.0,337.2 L408.0,339.8 L409.0,342.2 L410.0,344.4 L411.0,346.4 L412.0,348.3 L413.0,350.0 L414.0,351.5 L415.0,352.9 L416.0,354.2 L417.0,355.4 L418.0,356.5 L419.0,357.5 L420.0,358.4 L421.0,359.3 L422.0,360.1 L423.0,360.9 L424.0,361.6 L425.0,362.3 L426.0,362.9 L427.0,363.5 L428.0,364.1 L429.0,364.6 L430.0,365.1 L431.0,365.6 L432.0,366.1 L433.0,366.5 L434.0,366.9 L435.0,367.3 L436.0,367.7 L437.0,368.1 L438.0,368.5 L439.0,368.8 L440.0,369.2 L441.0,369.5 L442.0,369.8 L443.0,370.1 L444.0,370.4 L445.0,370.7 L446.0,371.0 L447.0,371.3 L448.0,371.6 L449.0,371.8 L450.0,372.1 L451.0,372.4 L452.0,372.6 L453.0,372.9 L454.0,373.1 L455.0,373.4 L456.0,373.6 L457.0,373.8 L458.0,374.1 L459.0,374.3 L460.0,374.5 L461.0,374.7 L462.0,375.0 L463.0,375.2 L464.0,375.4 L465.0,375.6 L466.0,375.8 L467.0,376.0 L468.0,376.2 L469.0,376.4 L470.0,376.6 L471.0,376.8 L472.0,377.0 L473.0,377.2 L474.0,377.4 L475.0,377.6 L476.0,377.8 L477.0,378.0 L478.0,378.2 L479.0,378.4 L480.0,378.6 L481.0,378.8 L482.0,379.0 L483.0,379.1 L484.0,379.3 L485.0,379.5 L486.0,379.7 L487.0,379.9 L488.0,380.1 L489.0,380.2 L490.0,380.4 L491.0,380.6" fill="none" stroke="#00ff00" stroke-width="3.8" stroke-linejoin="round" stroke-linecap="round"/>
<path d="M99.9,321.7 L100.9,321.8 L101.9,322.0 L102.9,322.1 L103.9,322.3 L104.9,322.4 L105.9,322.5 L106.9,322.7 L107.9,322.8 L108.9,323.0 L109.9,323.1 L110.9,323.2 L111.9,323.4 L112.9,323.5 L113.9,323.6 L114.9,323.7 L115.9,323.9 L116.9,324.0 L117.9,324.1 L118.9,324.2 L119.9,324.4 L120.9,324.5 L121.9,324.6 L122.9,324.7 L123.9,324.8 L124.9,324.9 L125.9,325.0 L126.9,325.1 L127.9,325.2 L128.9,325.3 L129.9,325.3 L130.9,325.4 L131.9,325.5 L132.9,325.5 L133.9,325.6 L134.9,325.7 L135.9,325.7 L136.9,325.8 L137.9,325.8 L138.9,325.8 L139.9,325.8 L140.9,325.8 L141.9,325.9 L142.9,325.9 L143.9,325.8 L144.9,325.8 L145.9,325.8 L146.9,325.8 L147.9,325.7 L148.9,325.7 L149.9,325.6 L150.9,325.5 L151.9,325.5 L152.9,325.4 L153.9,325.3 L154.9,325.2 L155.9,325.1 L156.9,324.9 L157.9,324.8 L158.9,324.7 L159.9,324.5 L160.9,324.4 L161.9,324.2 L162.9,324.0 L163.9,323.9 L164.9,323.7 L165.9,323.5 L166.9,323.3 L167.9,323.1 L168.9,322.9 L169.9,322.7 L170.9,322.5 L171.9,322.3 L172.9,322.1 L173.9,321.9 L174.9,321.7 L175.9,321.5 L176.9,321.3 L177.9,321.1 L178.9,320.9 L179.9,320.7 L180.9,320.5 L181.9,320.3 L182.9,320.1 L183.9,320.0 L184.9,319.8 L185.9,319.7 L186.9,319.5 L187.9,319.4 L188.9,319.3 L189.9,319.2 L190.9,319.1 L191.9,319.1 L192.9,319.0 L193.9,319.0 L194.9,319.0 L195.9,319.0 L196.9,319.0 L197.9,319.0 L198.9,319.1 L199.9,319.2 L200.9,319.3 L201.9,319.4 L202.9,319.5 L203.9,319.7 L204.9,319.9 L205.9,320.1 L206.9,320.3 L207.9,320.5 L208.9,320.8 L209.9,321.1 L210.9,321.4 L211.9,321.7 L212.9,322.0 L213.9,322.4 L214.9,322.7 L215.9,323.1 L216.9,323.5 L217.9,323.9 L218.9,324.3 L219.9,324.8 L220.9,325.2 L221.9,325.7 L222.9,326.1 L223.9,326.6 L224.9,327.1 L225.9,327.6 L226.9,328.1 L227.9,328.5 L228.9,329.1 L229.9,329.6 L230.9,330.1 L231.9,330.6 L232.9,331.1 L233.9,331.6 L234.9,332.1 L235.9,332.6 L236.9,333.1 L237.9,333.6 L238.9,334.1 L239.9,334.6 L240.9,335.1 L241.9,335.6 L242.9,336.1 L243.9,336.5 L244.9,337.0 L245.9,337.5 L246.9,337.9 L247.9,338.4 L248.9,338.8 L249.9,339.2 L250.9,339.6 L251.9,340.0 L252.9,340.4 L253.9,340.8 L254.9,341.2 L255.9,341.6 L256.9,341.9 L257.9,342.3 L258.9,342.6 L259.9,343.0 L260.9,343.3 L261.9,343.6 L262.9,343.9 L263.9,344.3 L264.9,344.6 L265.9,344.8 L266.9,345.1 L267.9,345.4 L268.9,345.7 L269.9,345.9 L270.9,346.2 L271.9,346.4 L272.9,346.7 L273.9,346.9 L274.9,347.1 L275.9,347.4 L276.9,347.6 L277.9,347.8 L278.9,348.0 L279.9,348.2 L280.9,348.4 L281.9,348.6 L282.9,348.8 L283.9,349.0 L284.9,349.2 L285.9,349.4 L286.9,349.6 L287.9,349.8 L288.9,350.0 L289.9,350.1 L290.9,350.3 L291.9,350.5 L292.9,350.7 L293.9,350.8 L294.9,351.0 L296.0,351.2 L297.0,351.3 L298.0,351.5 L299.0,351.7 L300.0,351.8 L301.0,352.0 L302.0,352.2 L303.0,352.3 L304.0,352.5 L305.0,352.6 L306.0,352.8 L307.0,352.9 L308.0,353.1 L309.0,353.3 L310.0,353.4 L311.0,353.6 L312.0,353.7 L313.0,353.9 L314.0,354.0 L315.0,354.2 L316.0,354.4 L317.0,354.5 L318.0,354.7 L319.0,354.8 L320.0,355.0 L321.0,355.1 L322.0,355.3 L323.0,355.4 L324.0,355.6 L325.0,355.8 L326.0,355.9 L327.0,356.1 L328.0,356.2 L329.0,356.4 L330.0,356.5 L331.0,356.7 L332.0,356.8 L333.0,357.0 L334.0,357.1 L335.0,357.3 L336.0,357.5 L337.0,357.6 L338.0,357.8 L339.0,357.9 L340.0,358.1 L341.0,358.2 L342.0,358.4 L343.0,358.5 L344.0,358.7 L345.0,358.8 L346.0,359.0 L347.0,359.2 L348.0,359.3 L349.0,359.5 L350.0,359.6 L351.0,359.8 L352.0,359.9 L353.0,360.1 L354.0,360.2 L355.0,360.4 L356.0,360.5 L357.0,360.7 L358.0,360.9 L359.0,361.0 L360.0,361.2 L361.0,361.3 L362.0,361.5 L363.0,361.6 L364.0,361.8 L365.0,361.9 L366.0,362.1 L367.0,362.3 L368.0,362.4 L369.0,362.6 L370.0,362.7 L371.0,362.9 L372.0,363.0 L373.0,363.2 L374.0,363.3 L375.0,363.5 L376.0,363.7 L377.0,363.8 L378.0,364.0 L379.0,364.1 L380.0,364.3 L381.0,364.4 L382.0,364.6 L383.0,364.7 L384.0,364.9 L385.0,365.1 L386.0,365.2 L387.0,365.4 L388.0,365.5 L389.0,365.7 L390.0,365.8 L391.0,366.0 L392.0,366.1 L393.0,366.3 L394.0,366.5 L395.0,366.6 L396.0,366.8 L397.0,366.9 L398.0,367.1 L399.0,367.2 L400.0,367.4 L401.0,367.5 L402.0,367.7 L403.0,367.9 L404.0,368.0 L405.0,368.2 L406.0,368.3 L407.0,368.5 L408.0,368.6 L409.0,368.8 L410.0,369.0 L411.0,369.1 L412.0,369.3 L413.0,369.4 L414.0,369.6 L415.0,369.7 L416.0,369.9 L417.0,370.0 L418.0,370.2 L419.0,370.4 L420.0,370.5 L421.0,370.7 L422.0,370.8 L423.0,371.0 L424.0,371.1 L425.0,371.3 L426.0,371.5 L427.0,371.6 L428.0,371.8 L429.0,371.9 L430.0,372.1 L431.0,372.2 L432.0,372.4 L433.0,372.6 L434.0,372.7 L435.0,372.9 L436.0,373.0 L437.0,373.2 L438.0,373.3 L439.0,373.5 L440.0,373.7 L441.0,373.8 L442.0,374.0 L443.0,374.1 L444.0,374.3 L445.0,374.4 L446.0,374.6 L447.0,374.8 L448.0,374.9 L449.0,375.1 L450.0,375.2 L451.0,375.4 L452.0,375.5 L453.0,375.7 L454.0,375.9 L455.0,376.0 L456.0,376.2 L457.0,376.3 L458.0,376.5 L459.0,376.6 L460.0,376.8 L461.0,377.0 L462.0,377.1 L463.0,377.3 L464.0,377.4 L465.0,377.6 L466.0,377.7 L467.0,377.9 L468.0,378.1 L469.0,378.2 L470.0,378.4 L471.0,378.5 L472.0,378.7 L473.0,378.8 L474.0,379.0 L475.0,379.2 L476.0,379.3 L477.0,379.5 L478.0,379.6 L479.0,379.8 L480.0,380.0 L481.0,380.1 L482.0,380.3 L483.0,380.4 L484.0,380.6 L485.0,380.7 L486.0,380.9 L487.0,381.1 L488.0,381.2 L489.0,381.4 L490.0,381.5 L491.0,381.7" fill="none" stroke="#808000" stroke-width="3.7" stroke-linejoin="round" stroke-linecap="round"/>
<path d="M99.9,321.0 L100.9,321.2 L101.9,321.3 L102.9,321.5 L103.9,321.6 L104.9,321.7 L105.9,321.9 L106.9,322.0 L107.9,322.2 L108.9,322.3 L109.9,322.4 L110.9,322.6 L111.9,322.7 L112.9,322.9 L113.9,323.0 L114.9,323.1 L115.9,323.3 L116.9,323.4 L117.9,323.5 L118.9,323.7 L119.9,323.8 L120.9,324.0 L121.9,324.1 L122.9,324.2 L123.9,324.4 L124.9,324.5 L125.9,324.6 L126.9,324.8 L127.9,324.9 L128.9,325.0 L129.9,325.2 L130.9,325.3 L131.9,325.5 L132.9,325.6 L133.9,325.7 L134.9,325.9 L135.9,326.0 L136.9,326.1 L137.9,326.3 L138.9,326.4 L139.9,326.5 L140.9,326.6 L141.9,326.8 L142.9,326.9 L143.9,327.0 L144.9,327.2 L145.9,327.3 L146.9,327.4 L147.9,327.6 L148.9,327.7 L149.9,327.8 L150.9,327.9 L151.9,328.1 L152.9,328.2 L153.9,328.3 L154.9,328.4 L155.9,328.6 L156.9,328.7 L157.9,328.8 L158.9,328.9 L159.9,329.0 L160.9,329.2 L161.9,329.3 L162.9,329.4 L163.9,329.5 L164.9,329.6 L165.9,329.8 L166.9,329.9 L167.9,330.0 L168.9,330.1 L169.9,330.2 L170.9,330.3 L171.9,330.4 L172.9,330.5 L173.9,330.7 L174.9,330.8 L175.9,330.9 L176.9,331.0 L177.9,331.1 L178.9,331.2 L179.9,331.3 L180.9,331.4 L181.9,331.5 L182.9,331.6 L183.9,331.6 L184.9,331.7 L185.9,331.8 L186.9,331.9 L187.9,332.0 L188.9,332.1 L189.9,332.2 L190.9,332.2 L191.9,332.3 L192.9,332.4 L193.9,332.4 L194.9,332.5 L195.9,332.6 L196.9,332.6 L197.9,332.7 L198.9,332.7 L199.9,332.8 L200.9,332.8 L201.9,332.9 L202.9,332.9 L203.9,332.9 L204.9,333.0 L205.9,333.0 L206.9,333.0 L207.9,333.0 L208.9,333.0 L209.9,333.0 L210.9,333.0 L211.9,333.0 L212.9,333.0 L213.9,332.9 L214.9,332.9 L215.9,332.8 L216.9,332.8 L217.9,332.7 L218.9,332.6 L219.9,332.5 L220.9,332.4 L221.9,332.3 L222.9,332.2 L223.9,332.0 L224.9,331.9 L225.9,331.7 L226.9,331.5 L227.9,331.3 L228.9,331.1 L229.9,330.8 L230.9,330.5 L231.9,330.2 L232.9,329.9 L233.9,329.6 L234.9,329.2 L235.9,328.8 L236.9,328.4 L237.9,327.9 L238.9,327.4 L239.9,326.9 L240.9,326.3 L241.9,325.7 L242.9,325.0 L243.9,324.3 L244.9,323.6 L245.9,322.8 L246.9,322.0 L247.9,321.1 L248.9,320.2 L249.9,319.3 L250.9,318.3 L251.9,317.3 L252.9,316.3 L253.9,315.3 L254.9,314.3 L255.9,313.2 L256.9,312.2 L257.9,311.2 L258.9,310.3 L259.9,309.4 L260.9,308.6 L261.9,307.9 L262.9,307.3 L263.9,306.8 L264.9,306.5 L265.9,306.4 L266.9,306.4 L267.9,306.5 L268.9,306.8 L269.9,307.1 L270.9,307.6 L271.9,308.1 L272.9,308.7 L273.9,309.4 L274.9,310.1 L275.9,311.0 L276.9,311.9 L277.9,312.8 L278.9,313.9 L279.9,314.9 L280.9,316.1 L281.9,317.2 L282.9,318.4 L283.9,319.7 L284.9,320.9 L285.9,322.2 L286.9,323.5 L287.9,324.8 L288.9,326.1 L289.9,327.5 L290.9,328.8 L291.9,330.0 L292.9,331.3 L293.9,332.6 L294.9,333.8 L296.0,335.0 L297.0,336.2 L298.0,337.3 L299.0,338.4 L300.0,339.5 L301.0,340.5 L302.0,341.5 L303.0,342.5 L304.0,343.4 L305.0,344.3 L306.0,345.1 L307.0,345.9 L308.0,346.7 L309.0,347.4 L310.0,348.1 L311.0,348.7 L312.0,349.3 L313.0,349.9 L314.0,350.4 L315.0,351.0 L316.0,351.4 L317.0,351.9 L318.0,352.3 L319.0,352.7 L320.0,353.1 L321.0,353.5 L322.0,353.8 L323.0,354.1 L324.0,354.5 L325.0,354.7 L326.0,355.0 L327.0,355.3 L328.0,355.5 L329.0,355.8 L330.0,356.0 L331.0,356.2 L332.0,356.4 L333.0,356.7 L334.0,356.9 L335.0,357.0 L336.0,357.2 L337.0,357.4 L338.0,357.6 L339.0,357.8 L340.0,358.0 L341.0,358.1 L342.0,358.3 L343.0,358.5 L344.0,358.6 L345.0,358.8 L346.0,359.0 L347.0,359.1 L348.0,359.3 L349.0,359.4 L350.0,359.6 L351.0,359.8 L352.0,359.9 L353.0,360.1 L354.0,360.2 L355.0,360.4 L356.0,360.5 L357.0,360.7 L358.0,360.9 L359.0,361.0 L360.0,361.2 L361.0,361.3 L362.0,361.5 L363.0,361.6 L364.0,361.8 L365.0,361.9 L366.0,362.1 L367.0,362.3 L368.0,362.4 L369.0,362.6 L370.0,362.7 L371.0,362.9 L372.0,363.0 L373.0,363.2 L374.0,363.3 L375.0,363.5 L376.0,363.7 L377.0,363.8 L378.0,364.0 L379.0,364.1 L380.0,364.3 L381.0,364.4 L382.0,364.6 L383.0,364.7 L384.0,364.9 L385.0,365.1 L386.0,365.2 L387.0,365.4 L388.0,365.5 L389.0,365.7 L390.0,365.8 L391.0,366.0 L392.0,366.1 L393.0,366.3 L394.0,366.5 L395.0,366.6 L396.0,366.8 L397.0,366.9 L398.0,367.1 L399.0,367.2 L400.0,367.4 L401.0,367.5 L402.0,367.7 L403.0,367.9 L404.0,368.0 L405.0,368.2 L406.0,368.3 L407.0,368.5 L408.0,368.6 L409.0,368.8 L410.0,369.0 L411.0,369.1 L412.0,369.3 L413.0,369.4 L414.0,369.6 L415.0,369.7 L416.0,369.9 L417.0,370.0 L418.0,370.2 L419.0,370.4 L420.0,370.5 L421.0,370.7 L422.0,370.8 L423.0,371.0 L424.0,371.1 L425.0,371.3 L426.0,371.5 L427.0,371.6 L428.0,371.8 L429.0,371.9 L430.0,372.1 L431.0,372.2 L432.0,372.4 L433.0,372.6 L434.0,372.7 L435.0,372.9 L436.0,373.0 L437.0,373.2 L438.0,373.3 L439.0,373.5 L440.0,373.7 L441.0,373.8 L442.0,374.0 L443.0,374.1 L444.0,374.3 L445.0,374.4 L446.0,374.6 L447.0,374.8 L448.0,374.9 L449.0,375.1 L450.0,375.2 L451.0,375.4 L452.0,375.5 L453.0,375.7 L454.0,375.9 L455.0,376.0 L456.0,376.2 L457.0,376.3 L458.0,376.5 L459.0,376.6 L460.0,376.8 L461.0,377.0 L462.0,377.1 L463.0,377.3 L464.0,377.4 L465.0,377.6 L466.0,377.7 L467.0,377.9 L468.0,378.1 L469.0,378.2 L470.0,378.4 L471.0,378.5 L472.0,378.7 L473.0,378.8 L474.0,379.0 L475.0,379.2 L476.0,379.3 L477.0,379.5 L478.0,379.6 L479.0,379.8 L480.0,380.0 L481.0,380.1 L482.0,380.3 L483.0,380.4 L484.0,380.6 L485.0,380.7 L486.0,380.9 L487.0,381.1 L488.0,381.2 L489.0,381.4 L490.0,381.5 L491.0,381.7" fill="none" stroke="#808000" stroke-width="3.7" stroke-linejoin="round" stroke-linecap="round"/>
<path d="M99.9,321.7 L100.9,321.9 L101.9,322.0 L102.9,322.2 L103.9,322.3 L104.9,322.5 L105.9,322.6 L106.9,322.8 L107.9,322.9 L108.9,323.1 L109.9,323.2 L110.9,323.4 L111.9,323.5 L112.9,323.7 L113.9,323.8 L114.9,324.0 L115.9,324.1 L116.9,324.3 L117.9,324.4 L118.9,324.5 L119.9,324.7 L120.9,324.8 L121.9,325.0 L122.9,325.1 L123.9,325.3 L124.9,325.4 L125.9,325.6 L126.9,325.7 L127.9,325.9 L128.9,326.0 L129.9,326.2 L130.9,326.3 L131.9,326.5 L132.9,326.6 L133.9,326.8 L134.9,326.9 L135.9,327.1 L136.9,327.2 L137.9,327.4 L138.9,327.5 L139.9,327.7 L140.9,327.8 L141.9,328.0 L142.9,328.1 L143.9,328.3 L144.9,328.4 L145.9,328.6 L146.9,328.7 L147.9,328.9 L148.9,329.0 L149.9,329.2 L150.9,329.3 L151.9,329.5 L152.9,329.6 L153.9,329.8 L154.9,329.9 L155.9,330.1 L156.9,330.2 L157.9,330.4 L158.9,330.5 L159.9,330.7 L160.9,330.8 L161.9,331.0 L162.9,331.1 L163.9,331.3 L164.9,331.4 L165.9,331.6 L166.9,331.7 L167.9,331.9 L168.9,332.0 L169.9,332.2 L170.9,332.3 L171.9,332.5 L172.9,332.6 L173.9,332.8 L174.9,332.9 L175.9,333.1 L176.9,333.2 L177.9,333.4 L178.9,333.5 L179.9,333.7 L180.9,333.8 L181.9,334.0 L182.9,334.1 L183.9,334.3 L184.9,334.4 L185.9,334.6 L186.9,334.7 L187.9,334.9 L188.9,335.0 L189.9,335.2 L190.9,335.3 L191.9,335.5 L192.9,335.6 L193.9,335.8 L194.9,335.9 L195.9,336.1 L196.9,336.2 L197.9,336.4 L198.9,336.5 L199.9,336.7 L200.9,336.8 L201.9,337.0 L202.9,337.1 L203.9,337.3 L204.9,337.4 L205.9,337.6 L206.9,337.7 L207.9,337.9 L208.9,338.0 L209.9,338.2 L210.9,338.3 L211.9,338.5 L212.9,338.6 L213.9,338.8 L214.9,338.9 L215.9,339.1 L216.9,339.2 L217.9,339.4 L218.9,339.5 L219.9,339.7 L220.9,339.8 L221.9,340.0 L222.9,340.1 L223.9,340.3 L224.9,340.4 L225.9,340.6 L226.9,340.7 L227.9,340.9 L228.9,341.0 L229.9,341.2 L230.9,341.3 L231.9,341.5 L232.9,341.6 L233.9,341.8 L234.9,342.0 L235.9,342.1 L236.9,342.3 L237.9,342.4 L238.9,342.6 L239.9,342.7 L240.9,342.9 L241.9,343.0 L242.9,343.2 L243.9,343.3 L244.9,343.5 L245.9,343.6 L246.9,343.8 L247.9,343.9 L248.9,344.1 L249.9,344.2 L250.9,344.4 L251.9,344.5 L252.9,344.7 L253.9,344.8 L254.9,345.0 L255.9,345.1 L256.9,345.3 L257.9,345.4 L258.9,345.6 L259.9,345.7 L260.9,345.9 L261.9,346.0 L262.9,346.2 L263.9,346.3 L264.9,346.5 L265.9,346.6 L266.9,346.8 L267.9,346.9 L268.9,347.1 L269.9,347.2 L270.9,347.4 L271.9,347.5 L272.9,347.7 L273.9,347.8 L274.9,348.0 L275.9,348.1 L276.9,348.3 L277.9,348.4 L278.9,348.5 L279.9,348.7 L280.9,348.8 L281.9,349.0 L282.9,349.1 L283.9,349.2 L284.9,349.4 L285.9,349.5 L286.9,349.6 L287.9,349.7 L288.9,349.8 L289.9,349.9 L290.9,350.0 L291.9,350.1 L292.9,350.1 L293.9,350.2 L294.9,350.2 L296.0,350.2 L297.0,350.1 L298.0,350.0 L299.0,349.9 L300.0,349.8 L301.0,349.6 L302.0,349.3 L303.0,349.0 L304.0,348.7 L305.0,348.3 L306.0,347.8 L307.0,347.3 L308.0,346.8 L309.0,346.2 L310.0,345.6 L311.0,344.9 L312.0,344.3 L313.0,343.6 L314.0,342.9 L315.0,342.2 L316.0,341.6 L317.0,340.9 L318.0,340.4 L319.0,339.9 L320.0,339.4 L321.0,339.1 L322.0,338.9 L323.0,338.7 L324.0,338.7 L325.0,338.9 L326.0,339.1 L327.0,339.5 L328.0,340.0 L329.0,340.6 L330.0,341.3 L331.0,342.0 L332.0,342.9 L333.0,343.8 L334.0,344.7 L335.0,345.7 L336.0,346.7 L337.0,347.7 L338.0,348.7 L339.0,349.7 L340.0,350.6 L341.0,351.5 L342.0,352.4 L343.0,353.2 L344.0,354.0 L345.0,354.7 L346.0,355.4 L347.0,356.0 L348.0,356.6 L349.0,357.1 L350.0,357.6 L351.0,358.1 L352.0,358.5 L353.0,358.8 L354.0,359.2 L355.0,359.5 L356.0,359.8 L357.0,360.1 L358.0,360.3 L359.0,360.5 L360.0,360.8 L361.0,361.0 L362.0,361.2 L363.0,361.3 L364.0,361.5 L365.0,361.7 L366.0,361.9 L367.0,362.1 L368.0,362.2 L369.0,362.4 L370.0,362.6 L371.0,362.7 L372.0,362.9 L373.0,363.1 L374.0,363.2 L375.0,363.4 L376.0,363.5 L377.0,363.7 L378.0,363.9 L379.0,364.0 L380.0,364.2 L381.0,364.3 L382.0,364.5 L383.0,364.6 L384.0,364.8 L385.0,365.0 L386.0,365.1 L387.0,365.3 L388.0,365.4 L389.0,365.6 L390.0,365.8 L391.0,365.9 L392.0,366.1 L393.0,366.2 L394.0,366.4 L395.0,366.5 L396.0,366.7 L397.0,366.9 L398.0,367.0 L399.0,367.2 L400.0,367.3 L401.0,367.5 L402.0,367.6 L403.0,367.8 L404.0,368.0 L405.0,368.1 L406.0,368.3 L407.0,368.4 L408.0,368.6 L409.0,368.7 L410.0,368.9 L411.0,369.1 L412.0,369.2 L413.0,369.4 L414.0,369.5 L415.0,369.7 L416.0,369.9 L417.0,370.0 L418.0,370.2 L419.0,370.3 L420.0,370.5 L421.0,370.6 L422.0,370.8 L423.0,371.0 L424.0,371.1 L425.0,371.3 L426.0,371.4 L427.0,371.6 L428.0,371.7 L429.0,371.9 L430.0,372.1 L431.0,372.2 L432.0,372.4 L433.0,372.5 L434.0,372.7 L435.0,372.8 L436.0,373.0 L437.0,373.2 L438.0,373.3 L439.0,373.5 L440.0,373.6 L441.0,373.8 L442.0,373.9 L443.0,374.1 L444.0,374.3 L445.0,374.4 L446.0,374.6 L447.0,374.7 L448.0,374.9 L449.0,375.0 L450.0,375.2 L451.0,375.4 L452.0,375.5 L453.0,375.7 L454.0,375.8 L455.0,376.0 L456.0,376.1 L457.0,376.3 L458.0,376.5 L459.0,376.6 L460.0,376.8 L461.0,376.9 L462.0,377.1 L463.0,377.3 L464.0,377.4 L465.0,377.6 L466.0,377.7 L467.0,377.9 L468.0,378.0 L469.0,378.2 L470.0,378.4 L471.0,378.5 L472.0,378.7 L473.0,378.8 L474.0,379.0 L475.0,379.2 L476.0,379.3 L477.0,379.5 L478.0,379.6 L479.0,379.8 L480.0,379.9 L481.0,380.1 L482.0,380.3 L483.0,380.4 L484.0,380.6 L485.0,380.7 L486.0,380.9 L487.0,381.1 L488.0,381.2 L489.0,381.4 L490.0,381.5 L491.0,381.7" fill="none" stroke="#808000" stroke-width="3.7" stroke-linejoin="round" stroke-linecap="round"/>
<path d="M99.9,321.7 L100.9,321.9 L101.9,322.0 L102.9,322.2 L103.9,322.3 L104.9,322.5 L105.9,322.6 L106.9,322.8 L107.9,322.9 L108.9,323.1 L109.9,323.2 L110.9,323.4 L111.9,323.5 L112.9,323.7 L113.9,323.8 L114.9,324.0 L115.9,324.1 L116.9,324.3 L117.9,324.4 L118.9,324.6 L119.9,324.7 L120.9,324.9 L121.9,325.0 L122.9,325.2 L123.9,325.3 L124.9,325.4 L125.9,325.6 L126.9,325.7 L127.9,325.9 L128.9,326.0 L129.9,326.2 L130.9,326.3 L131.9,326.5 L132.9,326.6 L133.9,326.8 L134.9,326.9 L135.9,327.1 L136.9,327.2 L137.9,327.4 L138.9,327.5 L139.9,327.7 L140.9,327.8 L141.9,328.0 L142.9,328.1 L143.9,328.3 L144.9,328.4 L145.9,328.6 L146.9,328.7 L147.9,328.9 L148.9,329.0 L149.9,329.2 L150.9,329.3 L151.9,329.5 L152.9,329.6 L153.9,329.8 L154.9,329.9 L155.9,330.1 L156.9,330.2 L157.9,330.4 L158.9,330.5 L159.9,330.7 L160.9,330.8 L161.9,331.0 L162.9,331.1 L163.9,331.3 L164.9,331.4 L165.9,331.6 L166.9,331.7 L167.9,331.9 L168.9,332.0 L169.9,332.2 L170.9,332.3 L171.9,332.5 L172.9,332.6 L173.9,332.8 L174.9,332.9 L175.9,333.1 L176.9,333.2 L177.9,333.4 L178.9,333.5 L179.9,333.7 L180.9,333.8 L181.9,334.0 L182.9,334.1 L183.9,334.3 L184.9,334.4 L185.9,334.6 L186.9,334.7 L187.9,334.9 L188.9,335.0 L189.9,335.2 L190.9,335.3 L191.9,335.5 L192.9,335.6 L193.9,335.8 L194.9,335.9 L195.9,336.1 L196.9,336.2 L197.9,336.4 L198.9,336.5 L199.9,336.7 L200.9,336.8 L201.9,337.0 L202.9,337.1 L203.9,337.3 L204.9,337.4 L205.9,337.6 L206.9,337.8 L207.9,337.9 L208.9,338.1 L209.9,338.2 L210.9,338.4 L211.9,338.5 L212.9,338.7 L213.9,338.8 L214.9,339.0 L215.9,339.1 L216.9,339.3 L217.9,339.4 L218.9,339.6 L219.9,339.7 L220.9,339.9 L221.9,340.0 L222.9,340.2 L223.9,340.3 L224.9,340.5 L225.9,340.6 L226.9,340.8 L227.9,340.9 L228.9,341.1 L229.9,341.2 L230.9,341.4 L231.9,341.5 L232.9,341.7 L233.9,341.8 L234.9,342.0 L235.9,342.1 L236.9,342.3 L237.9,342.4 L238.9,342.6 L239.9,342.8 L240.9,342.9 L241.9,343.1 L242.9,343.2 L243.9,343.4 L244.9,343.5 L245.9,343.7 L246.9,343.8 L247.9,344.0 L248.9,344.1 L249.9,344.3 L250.9,344.4 L251.9,344.6 L252.9,344.7 L253.9,344.9 L254.9,345.0 L255.9,345.2 L256.9,345.3 L257.9,345.5 L258.9,345.6 L259.9,345.8 L260.9,345.9 L261.9,346.1 L262.9,346.3 L263.9,346.4 L264.9,346.6 L265.9,346.7 L266.9,346.9 L267.9,347.0 L268.9,347.2 L269.9,347.3 L270.9,347.5 L271.9,347.6 L272.9,347.8 L273.9,347.9 L274.9,348.1 L275.9,348.2 L276.9,348.4 L277.9,348.5 L278.9,348.7 L279.9,348.8 L280.9,349.0 L281.9,349.2 L282.9,349.3 L283.9,349.5 L284.9,349.6 L285.9,349.8 L286.9,349.9 L287.9,350.1 L288.9,350.2 L289.9,350.4 L290.9,350.5 L291.9,350.7 L292.9,350.8 L293.9,351.0 L294.9,351.1 L296.0,351.3 L297.0,351.5 L298.0,351.6 L299.0,351.8 L300.0,351.9 L301.0,352.1 L302.0,352.2 L303.0,352.4 L304.0,352.5 L305.0,352.7 L306.0,352.8 L307.0,353.0 L308.0,353.1 L309.0,353.3 L310.0,353.4 L311.0,353.6 L312.0,353.7 L313.0,353.9 L314.0,354.0 L315.0,354.2 L316.0,354.3 L317.0,354.4 L318.0,354.6 L319.0,354.7 L320.0,354.8 L321.0,354.9 L322.0,355.0 L323.0,355.1 L324.0,355.2 L325.0,355.2 L326.0,355.3 L327.0,355.3 L328.0,355.3 L329.0,355.2 L330.0,355.1 L331.0,355.0 L332.0,354.9 L333.0,354.7 L334.0,354.4 L335.0,354.1 L336.0,353.7 L337.0,353.3 L338.0,352.8 L339.0,352.2 L340.0,351.6 L341.0,350.9 L342.0,350.1 L343.0,349.3 L344.0,348.4 L345.0,347.5 L346.0,346.5 L347.0,345.4 L348.0,344.3 L349.0,343.2 L350.0,342.1 L351.0,341.0 L352.0,339.9 L353.0,338.9 L354.0,337.9 L355.0,336.9 L356.0,336.1 L357.0,335.3 L358.0,334.7 L359.0,334.1 L360.0,333.7 L361.0,333.4 L362.0,333.3 L363.0,333.3 L364.0,333.5 L365.0,333.8 L366.0,334.1 L367.0,334.5 L368.0,335.1 L369.0,335.7 L370.0,336.3 L371.0,337.1 L372.0,337.9 L373.0,338.8 L374.0,339.7 L375.0,340.6 L376.0,341.7 L377.0,342.7 L378.0,343.8 L379.0,344.9 L380.0,346.0 L381.0,347.1 L382.0,348.2 L383.0,349.3 L384.0,350.4 L385.0,351.5 L386.0,352.6 L387.0,353.6 L388.0,354.6 L389.0,355.6 L390.0,356.6 L391.0,357.5 L392.0,358.4 L393.0,359.2 L394.0,360.0 L395.0,360.8 L396.0,361.5 L397.0,362.2 L398.0,362.8 L399.0,363.4 L400.0,364.0 L401.0,364.5 L402.0,365.0 L403.0,365.5 L404.0,365.9 L405.0,366.3 L406.0,366.7 L407.0,367.1 L408.0,367.4 L409.0,367.7 L410.0,368.0 L411.0,368.3 L412.0,368.6 L413.0,368.8 L414.0,369.1 L415.0,369.3 L416.0,369.5 L417.0,369.7 L418.0,369.9 L419.0,370.1 L420.0,370.3 L421.0,370.5 L422.0,370.7 L423.0,370.9 L424.0,371.1 L425.0,371.2 L426.0,371.4 L427.0,371.6 L428.0,371.7 L429.0,371.9 L430.0,372.1 L431.0,372.2 L432.0,372.4 L433.0,372.5 L434.0,372.7 L435.0,372.9 L436.0,373.0 L437.0,373.2 L438.0,373.3 L439.0,373.5 L440.0,373.6 L441.0,373.8 L442.0,374.0 L443.0,374.1 L444.0,374.3 L445.0,374.4 L446.0,374.6 L447.0,374.8 L448.0,374.9 L449.0,375.1 L450.0,375.2 L451.0,375.4 L452.0,375.5 L453.0,375.7 L454.0,375.9 L455.0,376.0 L456.0,376.2 L457.0,376.3 L458.0,376.5 L459.0,376.6 L460.0,376.8 L461.0,377.0 L462.0,377.1 L463.0,377.3 L464.0,377.4 L465.0,377.6 L466.0,377.7 L467.0,377.9 L468.0,378.1 L469.0,378.2 L470.0,378.4 L471.0,378.5 L472.0,378.7 L473.0,378.8 L474.0,379.0 L475.0,379.2 L476.0,379.3 L477.0,379.5 L478.0,379.6 L479.0,379.8 L480.0,380.0 L481.0,380.1 L482.0,380.3 L483.0,380.4 L484.0,380.6 L485.0,380.7 L486.0,380.9 L487.0,381.1 L488.0,381.2 L489.0,381.4 L490.0,381.5 L491.0,381.7" fill="none" stroke="#808000" stroke-width="3.7" stroke-linejoin="round" stroke-linecap="round"/>
<rect x="44.65" y="8.1" width="498.3" height="390.6" fill="none" stroke="#000" stroke-width="3"/>
<line x1="392.8" y1="5" x2="392.8" y2="397.5" stroke="#ff4040" stroke-width="1" stroke-dasharray="1.1 1.1"/>
<g font-size="18">
<line x1="44.65" y1="398.7" x2="44.65" y2="405.7" stroke="#000" stroke-width="3" stroke-linecap="round"/>
<text x="52.45" y="422" text-anchor="middle">750</text>
<line x1="89.97" y1="398.7" x2="89.97" y2="402.7" stroke="#000" stroke-width="3" stroke-linecap="round"/>
<line x1="135.30" y1="398.7" x2="135.30" y2="405.7" stroke="#000" stroke-width="3" stroke-linecap="round"/>
<text x="143.10" y="422" text-anchor="middle">740</text>
<line x1="180.62" y1="398.7" x2="180.62" y2="402.7" stroke="#000" stroke-width="3" stroke-linecap="round"/>
<line x1="225.95" y1="398.7" x2="225.95" y2="405.7" stroke="#000" stroke-width="3" stroke-linecap="round"/>
<text x="233.75" y="422" text-anchor="middle">730</text>
<line x1="271.27" y1="398.7" x2="271.27" y2="402.7" stroke="#000" stroke-width="3" stroke-linecap="round"/>
<line x1="316.60" y1="398.7" x2="316.60" y2="405.7" stroke="#000" stroke-width="3" stroke-linecap="round"/>
<text x="324.40" y="422" text-anchor="middle">720</text>
<line x1="361.92" y1="398.7" x2="361.92" y2="402.7" stroke="#000" stroke-width="3" stroke-linecap="round"/>
<line x1="407.25" y1="398.7" x2="407.25" y2="405.7" stroke="#000" stroke-width="3" stroke-linecap="round"/>
<text x="415.05" y="422" text-anchor="middle">710</text>
<line x1="452.57" y1="398.7" x2="452.57" y2="402.7" stroke="#000" stroke-width="3" stroke-linecap="round"/>
<line x1="497.90" y1="398.7" x2="497.90" y2="405.7" stroke="#000" stroke-width="3" stroke-linecap="round"/>
<text x="505.70" y="422" text-anchor="middle">700</text>
<line x1="543.23" y1="398.7" x2="543.23" y2="402.7" stroke="#000" stroke-width="3" stroke-linecap="round"/>
</g>
<text font-size="25.8" transform="translate(22.7,246) rotate(-90)">Intensity ( a.u. )</text>
<text x="76" y="60" font-size="26">(c)</text>
<text x="73" y="173.5" font-size="26">(b)</text>
<text x="73.6" y="304" font-size="26">(a)</text>
<text x="398.3" y="36.5" font-size="20">711.22 eV</text>
<text x="307.8" y="143.5" font-size="20">711.76 eV</text>
<text x="395.8" y="277.5" font-size="19.6">711.64eV</text>
</svg>
</body></html>
